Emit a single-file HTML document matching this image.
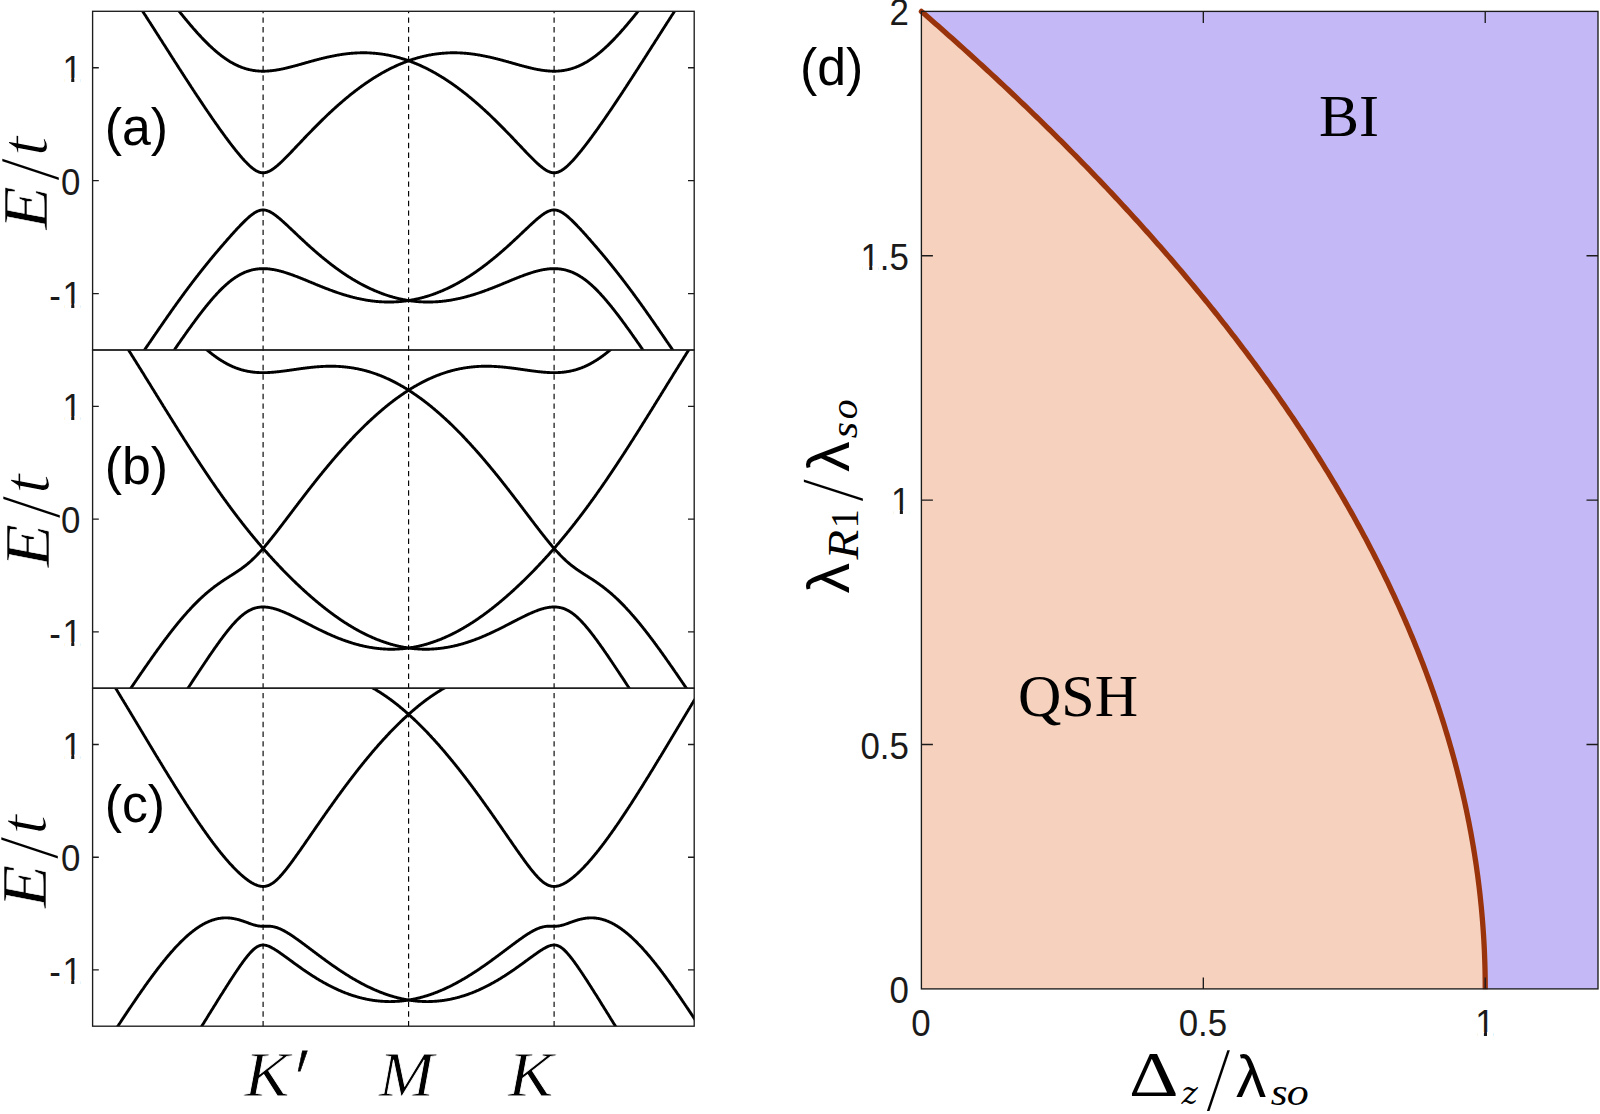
<!DOCTYPE html>
<html><head><meta charset="utf-8"><title>Band structure and phase diagram</title>
<style>html,body{margin:0;padding:0;background:#fff}svg{display:block}text{white-space:pre}.tl{font-kerning:none}</style></head>
<body><svg width="1600" height="1114" viewBox="0 0 1600 1114">
<defs><clipPath id="cp0"><rect x="92.6" y="11.30" width="601.60" height="338.70"/></clipPath><clipPath id="cp1"><rect x="92.6" y="350.00" width="601.60" height="338.20"/></clipPath><clipPath id="cp2"><rect x="92.6" y="688.20" width="601.60" height="338.00"/></clipPath><clipPath id="cpd"><rect x="917.4" y="7.4" width="680.60" height="981.80"/></clipPath></defs>
<rect width="1600" height="1114" fill="#fff"/>
<line x1="263.10" y1="11.3" x2="263.10" y2="1026.2" stroke="#000" stroke-width="1.15" stroke-dasharray="5.4 4.25" stroke-dashoffset="3.55"/>
<line x1="408.60" y1="11.3" x2="408.60" y2="1026.2" stroke="#000" stroke-width="1.15" stroke-dasharray="5.4 4.25" stroke-dashoffset="3.55"/>
<line x1="554.10" y1="11.3" x2="554.10" y2="1026.2" stroke="#000" stroke-width="1.15" stroke-dasharray="5.4 4.25" stroke-dashoffset="3.55"/>
<g clip-path="url(#cp0)" fill="none" stroke="#000" stroke-width="2.9" stroke-linejoin="round">
<polyline points="146.6,389.9 147.1,389.2 147.6,388.4 148.1,387.7 148.6,387.0 149.1,386.3 149.6,385.6 150.1,384.9 150.6,384.2 151.1,383.4 151.6,382.7 152.1,382.0 152.6,381.3 153.1,380.6 153.6,379.8 154.1,379.1 154.6,378.4 155.1,377.7 155.6,377.0 156.1,376.2 156.6,375.5 157.1,374.8 157.6,374.1 158.1,373.4 158.6,372.6 159.1,371.9 159.6,371.2 160.1,370.5 160.6,369.7 161.1,369.0 161.6,368.3 162.1,367.6 162.6,366.8 163.1,366.1 163.6,365.4 164.1,364.7 164.6,363.9 165.1,363.2 165.6,362.5 166.1,361.8 166.6,361.0 167.1,360.3 167.6,359.6 168.1,358.9 168.6,358.1 169.1,357.4 169.6,356.7 170.1,356.0 170.6,355.2 171.1,354.5 171.6,353.8 172.1,353.1 172.6,352.3 173.1,351.6 173.6,350.9 174.1,350.2 174.6,349.5 175.1,348.7 175.6,348.0 176.1,347.3 176.6,346.6 177.1,345.9 177.6,345.1 178.1,344.4 178.6,343.7 179.1,343.0 179.6,342.3 180.1,341.6 180.6,340.8 181.1,340.1 181.6,339.4 182.1,338.7 182.6,338.0 183.1,337.3 183.6,336.6 184.1,335.9 184.6,335.2 185.1,334.5 185.6,333.7 186.1,333.0 186.6,332.3 187.1,331.6 187.6,330.9 188.1,330.2 188.6,329.5 189.1,328.9 189.6,328.2 190.1,327.5 190.6,326.8 191.1,326.1 191.6,325.4 192.1,324.7 192.6,324.0 193.1,323.3 193.6,322.7 194.1,322.0 194.6,321.3 195.1,320.6 195.6,319.9 196.1,319.3 196.6,318.6 197.1,317.9 197.6,317.3 198.1,316.6 198.6,315.9 199.1,315.3 199.6,314.6 200.1,314.0 200.6,313.3 201.1,312.7 201.6,312.0 202.1,311.4 202.6,310.7 203.1,310.1 203.6,309.5 204.1,308.8 204.6,308.2 205.1,307.6 205.6,306.9 206.1,306.3 206.6,305.7 207.1,305.1 207.6,304.5 208.1,303.9 208.6,303.3 209.1,302.7 209.6,302.1 210.1,301.5 210.6,300.9 211.1,300.3 211.6,299.7 212.1,299.1 212.6,298.5 213.1,298.0 213.6,297.4 214.1,296.8 214.6,296.3 215.1,295.7 215.6,295.2 216.1,294.6 216.6,294.1 217.1,293.5 217.6,293.0 218.1,292.5 218.6,292.0 219.1,291.4 219.6,290.9 220.1,290.4 220.6,289.9 221.1,289.4 221.6,288.9 222.1,288.4 222.6,287.9 223.1,287.5 223.6,287.0 224.1,286.5 224.6,286.0 225.1,285.6 225.6,285.1 226.1,284.7 226.6,284.2 227.1,283.8 227.6,283.4 228.1,283.0 228.6,282.5 229.1,282.1 229.6,281.7 230.1,281.3 230.6,280.9 231.1,280.5 231.6,280.1 232.1,279.8 232.6,279.4 233.1,279.0 233.6,278.7 234.1,278.3 234.6,278.0 235.1,277.6 235.6,277.3 236.1,277.0 236.6,276.7 237.1,276.4 237.6,276.0 238.1,275.7 238.6,275.4 239.1,275.2 239.6,274.9 240.1,274.6 240.6,274.3 241.1,274.1 241.6,273.8 242.1,273.6 242.6,273.3 243.1,273.1 243.6,272.9 244.1,272.6 244.6,272.4 245.1,272.2 245.6,272.0 246.1,271.8 246.6,271.6 247.1,271.4 247.6,271.3 248.1,271.1 248.6,270.9 249.1,270.8 249.6,270.6 250.1,270.5 250.6,270.3 251.1,270.2 251.6,270.0 252.1,269.9 252.6,269.8 253.1,269.7 253.6,269.6 254.1,269.5 254.6,269.4 255.1,269.3 255.6,269.2 256.1,269.2 256.6,269.1 257.1,269.0 257.6,269.0 258.1,268.9 258.6,268.9 259.1,268.8 259.6,268.8 260.1,268.7 260.6,268.7 261.1,268.7 261.6,268.7 262.1,268.7 262.6,268.6 263.1,268.6 263.6,268.6 264.1,268.7 264.6,268.7 265.1,268.7 265.6,268.7 266.1,268.7 266.6,268.8 267.1,268.8 267.6,268.8 268.1,268.9 268.6,268.9 269.1,269.0 269.6,269.0 270.1,269.1 270.6,269.2 271.1,269.2 271.6,269.3 272.1,269.4 272.6,269.5 273.1,269.5 273.6,269.6 274.1,269.7 274.6,269.8 275.1,269.9 275.6,270.0 276.1,270.1 276.6,270.2 277.1,270.3 277.6,270.4 278.1,270.6 278.6,270.7 279.1,270.8 279.6,270.9 280.1,271.1 280.6,271.2 281.1,271.3 281.6,271.5 282.1,271.6 282.6,271.7 283.1,271.9 283.6,272.0 284.1,272.2 284.6,272.3 285.1,272.5 285.6,272.7 286.1,272.8 286.6,273.0 287.1,273.1 287.6,273.3 288.1,273.5 288.6,273.6 289.1,273.8 289.6,274.0 290.1,274.1 290.6,274.3 291.1,274.5 291.6,274.7 292.1,274.9 292.6,275.0 293.1,275.2 293.6,275.4 294.1,275.6 294.6,275.8 295.1,276.0 295.6,276.2 296.1,276.3 296.6,276.5 297.1,276.7 297.6,276.9 298.1,277.1 298.6,277.3 299.1,277.5 299.6,277.7 300.1,277.9 300.6,278.1 301.1,278.3 301.6,278.5 302.1,278.7 302.6,278.9 303.1,279.1 303.6,279.3 304.1,279.5 304.6,279.7 305.1,279.9 305.6,280.1 306.1,280.3 306.6,280.5 307.1,280.7 307.6,281.0 308.1,281.2 308.6,281.4 309.1,281.6 309.6,281.8 310.1,282.0 310.6,282.2 311.1,282.4 311.6,282.6 312.1,282.8 312.6,283.0 313.1,283.2 313.6,283.4 314.1,283.6 314.6,283.8 315.1,284.0 315.6,284.3 316.1,284.5 316.6,284.7 317.1,284.9 317.6,285.1 318.1,285.3 318.6,285.5 319.1,285.7 319.6,285.9 320.1,286.1 320.6,286.3 321.1,286.5 321.6,286.7 322.1,286.9 322.6,287.1 323.1,287.3 323.6,287.5 324.1,287.7 324.6,287.9 325.1,288.1 325.6,288.3 326.1,288.5 326.6,288.6 327.1,288.8 327.6,289.0 328.1,289.2 328.6,289.4 329.1,289.6 329.6,289.8 330.1,290.0 330.6,290.2 331.1,290.3 331.6,290.5 332.1,290.7 332.6,290.9 333.1,291.1 333.6,291.3 334.1,291.4 334.6,291.6 335.1,291.8 335.6,292.0 336.1,292.1 336.6,292.3 337.1,292.5 337.6,292.7 338.1,292.8 338.6,293.0 339.1,293.2 339.6,293.3 340.1,293.5 340.6,293.7 341.1,293.8 341.6,294.0 342.1,294.1 342.6,294.3 343.1,294.5 343.6,294.6 344.1,294.8 344.6,294.9 345.1,295.1 345.6,295.2 346.1,295.4 346.6,295.5 347.1,295.7 347.6,295.8 348.1,295.9 348.6,296.1 349.1,296.2 349.6,296.4 350.1,296.5 350.6,296.6 351.1,296.8 351.6,296.9 352.1,297.0 352.6,297.2 353.1,297.3 353.6,297.4 354.1,297.6 354.6,297.7 355.1,297.8 355.6,297.9 356.1,298.0 356.6,298.2 357.1,298.3 357.6,298.4 358.1,298.5 358.6,298.6 359.1,298.7 359.6,298.8 360.1,298.9 360.6,299.0 361.1,299.1 361.6,299.2 362.1,299.3 362.6,299.4 363.1,299.5 363.6,299.6 364.1,299.7 364.6,299.8 365.1,299.9 365.6,300.0 366.1,300.1 366.6,300.2 367.1,300.2 367.6,300.3 368.1,300.4 368.6,300.5 369.1,300.5 369.6,300.6 370.1,300.7 370.6,300.8 371.1,300.8 371.6,300.9 372.1,301.0 372.6,301.0 373.1,301.1 373.6,301.1 374.1,301.2 374.6,301.3 375.1,301.3 375.6,301.4 376.1,301.4 376.6,301.5 377.1,301.5 377.6,301.5 378.1,301.6 378.6,301.6 379.1,301.7 379.6,301.7 380.1,301.7 380.6,301.8 381.1,301.8 381.6,301.8 382.1,301.9 382.6,301.9 383.1,301.9 383.6,301.9 384.1,301.9 384.6,302.0 385.1,302.0 385.6,302.0 386.1,302.0 386.6,302.0 387.1,302.0 387.6,302.0 388.1,302.0 388.6,302.0 389.1,302.0 389.6,302.0 390.1,302.0 390.6,302.0 391.1,302.0 391.6,302.0 392.1,302.0 392.6,302.0 393.1,302.0 393.6,302.0 394.1,301.9 394.6,301.9 395.1,301.9 395.6,301.9 396.1,301.8 396.6,301.8 397.1,301.8 397.6,301.8 398.1,301.7 398.6,301.7 399.1,301.6 399.6,301.6 400.1,301.6 400.6,301.5 401.1,301.5 401.6,301.4 402.1,301.4 402.6,301.3 403.1,301.3 403.6,301.2 404.1,301.1 404.6,301.1 405.1,301.0 405.6,301.0 406.1,300.9 406.6,300.8 407.1,300.8 407.6,300.7 408.1,300.6 408.6,300.5 409.1,300.6 409.6,300.7 410.1,300.8 410.6,300.8 411.1,300.9 411.6,301.0 412.1,301.0 412.6,301.1 413.1,301.1 413.6,301.2 414.1,301.3 414.6,301.3 415.1,301.4 415.6,301.4 416.1,301.5 416.6,301.5 417.1,301.6 417.6,301.6 418.1,301.6 418.6,301.7 419.1,301.7 419.6,301.8 420.1,301.8 420.6,301.8 421.1,301.8 421.6,301.9 422.1,301.9 422.6,301.9 423.1,301.9 423.6,302.0 424.1,302.0 424.6,302.0 425.1,302.0 425.6,302.0 426.1,302.0 426.6,302.0 427.1,302.0 427.6,302.0 428.1,302.0 428.6,302.0 429.1,302.0 429.6,302.0 430.1,302.0 430.6,302.0 431.1,302.0 431.6,302.0 432.1,302.0 432.6,302.0 433.1,301.9 433.6,301.9 434.1,301.9 434.6,301.9 435.1,301.9 435.6,301.8 436.1,301.8 436.6,301.8 437.1,301.7 437.6,301.7 438.1,301.7 438.6,301.6 439.1,301.6 439.6,301.5 440.1,301.5 440.6,301.5 441.1,301.4 441.6,301.4 442.1,301.3 442.6,301.3 443.1,301.2 443.6,301.1 444.1,301.1 444.6,301.0 445.1,301.0 445.6,300.9 446.1,300.8 446.6,300.8 447.1,300.7 447.6,300.6 448.1,300.5 448.6,300.5 449.1,300.4 449.6,300.3 450.1,300.2 450.6,300.2 451.1,300.1 451.6,300.0 452.1,299.9 452.6,299.8 453.1,299.7 453.6,299.6 454.1,299.5 454.6,299.4 455.1,299.3 455.6,299.2 456.1,299.1 456.6,299.0 457.1,298.9 457.6,298.8 458.1,298.7 458.6,298.6 459.1,298.5 459.6,298.4 460.1,298.3 460.6,298.2 461.1,298.0 461.6,297.9 462.1,297.8 462.6,297.7 463.1,297.6 463.6,297.4 464.1,297.3 464.6,297.2 465.1,297.0 465.6,296.9 466.1,296.8 466.6,296.6 467.1,296.5 467.6,296.4 468.1,296.2 468.6,296.1 469.1,295.9 469.6,295.8 470.1,295.7 470.6,295.5 471.1,295.4 471.6,295.2 472.1,295.1 472.6,294.9 473.1,294.8 473.6,294.6 474.1,294.5 474.6,294.3 475.1,294.1 475.6,294.0 476.1,293.8 476.6,293.7 477.1,293.5 477.6,293.3 478.1,293.2 478.6,293.0 479.1,292.8 479.6,292.7 480.1,292.5 480.6,292.3 481.1,292.1 481.6,292.0 482.1,291.8 482.6,291.6 483.1,291.4 483.6,291.3 484.1,291.1 484.6,290.9 485.1,290.7 485.6,290.5 486.1,290.3 486.6,290.2 487.1,290.0 487.6,289.8 488.1,289.6 488.6,289.4 489.1,289.2 489.6,289.0 490.1,288.8 490.6,288.6 491.1,288.5 491.6,288.3 492.1,288.1 492.6,287.9 493.1,287.7 493.6,287.5 494.1,287.3 494.6,287.1 495.1,286.9 495.6,286.7 496.1,286.5 496.6,286.3 497.1,286.1 497.6,285.9 498.1,285.7 498.6,285.5 499.1,285.3 499.6,285.1 500.1,284.9 500.6,284.7 501.1,284.5 501.6,284.3 502.1,284.0 502.6,283.8 503.1,283.6 503.6,283.4 504.1,283.2 504.6,283.0 505.1,282.8 505.6,282.6 506.1,282.4 506.6,282.2 507.1,282.0 507.6,281.8 508.1,281.6 508.6,281.4 509.1,281.2 509.6,281.0 510.1,280.7 510.6,280.5 511.1,280.3 511.6,280.1 512.1,279.9 512.6,279.7 513.1,279.5 513.6,279.3 514.1,279.1 514.6,278.9 515.1,278.7 515.6,278.5 516.1,278.3 516.6,278.1 517.1,277.9 517.6,277.7 518.1,277.5 518.6,277.3 519.1,277.1 519.6,276.9 520.1,276.7 520.6,276.5 521.1,276.3 521.6,276.2 522.1,276.0 522.6,275.8 523.1,275.6 523.6,275.4 524.1,275.2 524.6,275.0 525.1,274.9 525.6,274.7 526.1,274.5 526.6,274.3 527.1,274.1 527.6,274.0 528.1,273.8 528.6,273.6 529.1,273.5 529.6,273.3 530.1,273.1 530.6,273.0 531.1,272.8 531.6,272.7 532.1,272.5 532.6,272.3 533.1,272.2 533.6,272.0 534.1,271.9 534.6,271.7 535.1,271.6 535.6,271.5 536.1,271.3 536.6,271.2 537.1,271.1 537.6,270.9 538.1,270.8 538.6,270.7 539.1,270.6 539.6,270.4 540.1,270.3 540.6,270.2 541.1,270.1 541.6,270.0 542.1,269.9 542.6,269.8 543.1,269.7 543.6,269.6 544.1,269.5 544.6,269.5 545.1,269.4 545.6,269.3 546.1,269.2 546.6,269.2 547.1,269.1 547.6,269.0 548.1,269.0 548.6,268.9 549.1,268.9 549.6,268.8 550.1,268.8 550.6,268.8 551.1,268.7 551.6,268.7 552.1,268.7 552.6,268.7 553.1,268.7 553.6,268.6 554.1,268.6 554.6,268.6 555.1,268.7 555.6,268.7 556.1,268.7 556.6,268.7 557.1,268.7 557.6,268.8 558.1,268.8 558.6,268.9 559.1,268.9 559.6,269.0 560.1,269.0 560.6,269.1 561.1,269.2 561.6,269.2 562.1,269.3 562.6,269.4 563.1,269.5 563.6,269.6 564.1,269.7 564.6,269.8 565.1,269.9 565.6,270.0 566.1,270.2 566.6,270.3 567.1,270.5 567.6,270.6 568.1,270.8 568.6,270.9 569.1,271.1 569.6,271.3 570.1,271.4 570.6,271.6 571.1,271.8 571.6,272.0 572.1,272.2 572.6,272.4 573.1,272.6 573.6,272.9 574.1,273.1 574.6,273.3 575.1,273.6 575.6,273.8 576.1,274.1 576.6,274.3 577.1,274.6 577.6,274.9 578.1,275.2 578.6,275.4 579.1,275.7 579.6,276.0 580.1,276.4 580.6,276.7 581.1,277.0 581.6,277.3 582.1,277.6 582.6,278.0 583.1,278.3 583.6,278.7 584.1,279.0 584.6,279.4 585.1,279.8 585.6,280.1 586.1,280.5 586.6,280.9 587.1,281.3 587.6,281.7 588.1,282.1 588.6,282.5 589.1,283.0 589.6,283.4 590.1,283.8 590.6,284.2 591.1,284.7 591.6,285.1 592.1,285.6 592.6,286.0 593.1,286.5 593.6,287.0 594.1,287.5 594.6,287.9 595.1,288.4 595.6,288.9 596.1,289.4 596.6,289.9 597.1,290.4 597.6,290.9 598.1,291.4 598.6,292.0 599.1,292.5 599.6,293.0 600.1,293.5 600.6,294.1 601.1,294.6 601.6,295.2 602.1,295.7 602.6,296.3 603.1,296.8 603.6,297.4 604.1,298.0 604.6,298.5 605.1,299.1 605.6,299.7 606.1,300.3 606.6,300.9 607.1,301.5 607.6,302.1 608.1,302.7 608.6,303.3 609.1,303.9 609.6,304.5 610.1,305.1 610.6,305.7 611.1,306.3 611.6,306.9 612.1,307.6 612.6,308.2 613.1,308.8 613.6,309.5 614.1,310.1 614.6,310.7 615.1,311.4 615.6,312.0 616.1,312.7 616.6,313.3 617.1,314.0 617.6,314.6 618.1,315.3 618.6,315.9 619.1,316.6 619.6,317.3 620.1,317.9 620.6,318.6 621.1,319.3 621.6,319.9 622.1,320.6 622.6,321.3 623.1,322.0 623.6,322.7 624.1,323.3 624.6,324.0 625.1,324.7 625.6,325.4 626.1,326.1 626.6,326.8 627.1,327.5 627.6,328.2 628.1,328.9 628.6,329.5 629.1,330.2 629.6,330.9 630.1,331.6 630.6,332.3 631.1,333.0 631.6,333.7 632.1,334.5 632.6,335.2 633.1,335.9 633.6,336.6 634.1,337.3 634.6,338.0 635.1,338.7 635.6,339.4 636.1,340.1 636.6,340.8 637.1,341.6 637.6,342.3 638.1,343.0 638.6,343.7 639.1,344.4 639.6,345.1 640.1,345.9 640.6,346.6 641.1,347.3 641.6,348.0 642.1,348.7 642.6,349.5 643.1,350.2 643.6,350.9 644.1,351.6 644.6,352.3 645.1,353.1 645.6,353.8 646.1,354.5 646.6,355.2 647.1,356.0 647.6,356.7 648.1,357.4 648.6,358.1 649.1,358.9 649.6,359.6 650.1,360.3 650.6,361.0 651.1,361.8 651.6,362.5 652.1,363.2 652.6,363.9 653.1,364.7 653.6,365.4 654.1,366.1 654.6,366.8 655.1,367.6 655.6,368.3 656.1,369.0 656.6,369.7 657.1,370.5 657.6,371.2 658.1,371.9 658.6,372.6 659.1,373.4 659.6,374.1 660.1,374.8 660.6,375.5 661.1,376.2 661.6,377.0 662.1,377.7 662.6,378.4 663.1,379.1 663.6,379.8 664.1,380.6 664.6,381.3 665.1,382.0 665.6,382.7 666.1,383.4 666.6,384.2 667.1,384.9 667.6,385.6 668.1,386.3 668.6,387.0 669.1,387.7 669.6,388.4 670.1,389.2 670.6,389.9"/>
<polyline points="117.1,389.9 117.6,389.2 118.1,388.4 118.6,387.7 119.1,387.0 119.6,386.3 120.1,385.6 120.6,384.9 121.1,384.1 121.6,383.4 122.1,382.7 122.6,382.0 123.1,381.3 123.6,380.5 124.1,379.8 124.6,379.1 125.1,378.4 125.6,377.6 126.1,376.9 126.6,376.2 127.1,375.5 127.6,374.7 128.1,374.0 128.6,373.3 129.1,372.6 129.6,371.8 130.1,371.1 130.6,370.4 131.1,369.6 131.6,368.9 132.1,368.2 132.6,367.4 133.1,366.7 133.6,366.0 134.1,365.3 134.6,364.5 135.1,363.8 135.6,363.1 136.1,362.3 136.6,361.6 137.1,360.9 137.6,360.1 138.1,359.4 138.6,358.7 139.1,357.9 139.6,357.2 140.1,356.5 140.6,355.7 141.1,355.0 141.6,354.3 142.1,353.5 142.6,352.8 143.1,352.1 143.6,351.3 144.1,350.6 144.6,349.9 145.1,349.1 145.6,348.4 146.1,347.6 146.6,346.9 147.1,346.2 147.6,345.4 148.1,344.7 148.6,344.0 149.1,343.2 149.6,342.5 150.1,341.8 150.6,341.1 151.1,340.3 151.6,339.6 152.1,338.9 152.6,338.1 153.1,337.4 153.6,336.7 154.1,335.9 154.6,335.2 155.1,334.5 155.6,333.7 156.1,333.0 156.6,332.3 157.1,331.6 157.6,330.8 158.1,330.1 158.6,329.4 159.1,328.7 159.6,327.9 160.1,327.2 160.6,326.5 161.1,325.8 161.6,325.0 162.1,324.3 162.6,323.6 163.1,322.9 163.6,322.2 164.1,321.4 164.6,320.7 165.1,320.0 165.6,319.3 166.1,318.6 166.6,317.8 167.1,317.1 167.6,316.4 168.1,315.7 168.6,315.0 169.1,314.3 169.6,313.6 170.1,312.9 170.6,312.2 171.1,311.4 171.6,310.7 172.1,310.0 172.6,309.3 173.1,308.6 173.6,307.9 174.1,307.2 174.6,306.5 175.1,305.8 175.6,305.1 176.1,304.4 176.6,303.7 177.1,303.0 177.6,302.3 178.1,301.6 178.6,300.9 179.1,300.3 179.6,299.6 180.1,298.9 180.6,298.2 181.1,297.5 181.6,296.8 182.1,296.1 182.6,295.4 183.1,294.8 183.6,294.1 184.1,293.4 184.6,292.7 185.1,292.0 185.6,291.4 186.1,290.7 186.6,290.0 187.1,289.4 187.6,288.7 188.1,288.0 188.6,287.3 189.1,286.7 189.6,286.0 190.1,285.3 190.6,284.7 191.1,284.0 191.6,283.4 192.1,282.7 192.6,282.0 193.1,281.4 193.6,280.7 194.1,280.1 194.6,279.4 195.1,278.8 195.6,278.1 196.1,277.5 196.6,276.8 197.1,276.2 197.6,275.6 198.1,274.9 198.6,274.3 199.1,273.6 199.6,273.0 200.1,272.4 200.6,271.7 201.1,271.1 201.6,270.5 202.1,269.8 202.6,269.2 203.1,268.6 203.6,268.0 204.1,267.3 204.6,266.7 205.1,266.1 205.6,265.5 206.1,264.8 206.6,264.2 207.1,263.6 207.6,263.0 208.1,262.4 208.6,261.8 209.1,261.2 209.6,260.5 210.1,259.9 210.6,259.3 211.1,258.7 211.6,258.1 212.1,257.5 212.6,256.9 213.1,256.3 213.6,255.7 214.1,255.1 214.6,254.5 215.1,253.9 215.6,253.3 216.1,252.7 216.6,252.1 217.1,251.5 217.6,251.0 218.1,250.4 218.6,249.8 219.1,249.2 219.6,248.6 220.1,248.0 220.6,247.4 221.1,246.9 221.6,246.3 222.1,245.7 222.6,245.1 223.1,244.5 223.6,244.0 224.1,243.4 224.6,242.8 225.1,242.2 225.6,241.7 226.1,241.1 226.6,240.5 227.1,239.9 227.6,239.4 228.1,238.8 228.6,238.2 229.1,237.7 229.6,237.1 230.1,236.5 230.6,236.0 231.1,235.4 231.6,234.9 232.1,234.3 232.6,233.8 233.1,233.2 233.6,232.6 234.1,232.1 234.6,231.5 235.1,231.0 235.6,230.5 236.1,229.9 236.6,229.4 237.1,228.8 237.6,228.3 238.1,227.8 238.6,227.2 239.1,226.7 239.6,226.2 240.1,225.6 240.6,225.1 241.1,224.6 241.6,224.1 242.1,223.6 242.6,223.1 243.1,222.6 243.6,222.1 244.1,221.6 244.6,221.1 245.1,220.6 245.6,220.1 246.1,219.7 246.6,219.2 247.1,218.7 247.6,218.3 248.1,217.8 248.6,217.4 249.1,216.9 249.6,216.5 250.1,216.1 250.6,215.7 251.1,215.3 251.6,214.9 252.1,214.5 252.6,214.2 253.1,213.8 253.6,213.5 254.1,213.1 254.6,212.8 255.1,212.5 255.6,212.2 256.1,211.9 256.6,211.7 257.1,211.4 257.6,211.2 258.1,211.0 258.6,210.8 259.1,210.6 259.6,210.5 260.1,210.4 260.6,210.2 261.1,210.1 261.6,210.1 262.1,210.0 262.6,210.0 263.1,210.0 263.6,210.0 264.1,210.0 264.6,210.1 265.1,210.1 265.6,210.2 266.1,210.3 266.6,210.5 267.1,210.6 267.6,210.8 268.1,211.0 268.6,211.2 269.1,211.4 269.6,211.6 270.1,211.9 270.6,212.1 271.1,212.4 271.6,212.7 272.1,213.0 272.6,213.3 273.1,213.6 273.6,214.0 274.1,214.3 274.6,214.7 275.1,215.0 275.6,215.4 276.1,215.8 276.6,216.2 277.1,216.6 277.6,217.0 278.1,217.4 278.6,217.8 279.1,218.2 279.6,218.6 280.1,219.0 280.6,219.5 281.1,219.9 281.6,220.3 282.1,220.8 282.6,221.2 283.1,221.7 283.6,222.1 284.1,222.6 284.6,223.0 285.1,223.5 285.6,224.0 286.1,224.4 286.6,224.9 287.1,225.3 287.6,225.8 288.1,226.3 288.6,226.7 289.1,227.2 289.6,227.7 290.1,228.2 290.6,228.6 291.1,229.1 291.6,229.6 292.1,230.0 292.6,230.5 293.1,231.0 293.6,231.5 294.1,231.9 294.6,232.4 295.1,232.9 295.6,233.4 296.1,233.8 296.6,234.3 297.1,234.8 297.6,235.3 298.1,235.7 298.6,236.2 299.1,236.7 299.6,237.1 300.1,237.6 300.6,238.1 301.1,238.5 301.6,239.0 302.1,239.5 302.6,239.9 303.1,240.4 303.6,240.9 304.1,241.3 304.6,241.8 305.1,242.3 305.6,242.7 306.1,243.2 306.6,243.6 307.1,244.1 307.6,244.6 308.1,245.0 308.6,245.5 309.1,245.9 309.6,246.4 310.1,246.8 310.6,247.3 311.1,247.7 311.6,248.2 312.1,248.6 312.6,249.0 313.1,249.5 313.6,249.9 314.1,250.4 314.6,250.8 315.1,251.2 315.6,251.7 316.1,252.1 316.6,252.5 317.1,253.0 317.6,253.4 318.1,253.8 318.6,254.2 319.1,254.7 319.6,255.1 320.1,255.5 320.6,255.9 321.1,256.4 321.6,256.8 322.1,257.2 322.6,257.6 323.1,258.0 323.6,258.4 324.1,258.8 324.6,259.2 325.1,259.6 325.6,260.0 326.1,260.4 326.6,260.8 327.1,261.2 327.6,261.6 328.1,262.0 328.6,262.4 329.1,262.8 329.6,263.2 330.1,263.6 330.6,264.0 331.1,264.4 331.6,264.7 332.1,265.1 332.6,265.5 333.1,265.9 333.6,266.3 334.1,266.6 334.6,267.0 335.1,267.4 335.6,267.7 336.1,268.1 336.6,268.5 337.1,268.8 337.6,269.2 338.1,269.6 338.6,269.9 339.1,270.3 339.6,270.6 340.1,271.0 340.6,271.3 341.1,271.7 341.6,272.0 342.1,272.4 342.6,272.7 343.1,273.0 343.6,273.4 344.1,273.7 344.6,274.1 345.1,274.4 345.6,274.7 346.1,275.1 346.6,275.4 347.1,275.7 347.6,276.0 348.1,276.4 348.6,276.7 349.1,277.0 349.6,277.3 350.1,277.6 350.6,277.9 351.1,278.2 351.6,278.5 352.1,278.9 352.6,279.2 353.1,279.5 353.6,279.8 354.1,280.1 354.6,280.4 355.1,280.6 355.6,280.9 356.1,281.2 356.6,281.5 357.1,281.8 357.6,282.1 358.1,282.4 358.6,282.7 359.1,282.9 359.6,283.2 360.1,283.5 360.6,283.8 361.1,284.0 361.6,284.3 362.1,284.6 362.6,284.8 363.1,285.1 363.6,285.4 364.1,285.6 364.6,285.9 365.1,286.1 365.6,286.4 366.1,286.6 366.6,286.9 367.1,287.1 367.6,287.4 368.1,287.6 368.6,287.8 369.1,288.1 369.6,288.3 370.1,288.6 370.6,288.8 371.1,289.0 371.6,289.2 372.1,289.5 372.6,289.7 373.1,289.9 373.6,290.1 374.1,290.4 374.6,290.6 375.1,290.8 375.6,291.0 376.1,291.2 376.6,291.4 377.1,291.6 377.6,291.8 378.1,292.0 378.6,292.2 379.1,292.4 379.6,292.6 380.1,292.8 380.6,293.0 381.1,293.2 381.6,293.4 382.1,293.6 382.6,293.8 383.1,293.9 383.6,294.1 384.1,294.3 384.6,294.5 385.1,294.7 385.6,294.8 386.1,295.0 386.6,295.2 387.1,295.3 387.6,295.5 388.1,295.7 388.6,295.8 389.1,296.0 389.6,296.1 390.1,296.3 390.6,296.4 391.1,296.6 391.6,296.7 392.1,296.9 392.6,297.0 393.1,297.2 393.6,297.3 394.1,297.4 394.6,297.6 395.1,297.7 395.6,297.8 396.1,298.0 396.6,298.1 397.1,298.2 397.6,298.3 398.1,298.5 398.6,298.6 399.1,298.7 399.6,298.8 400.1,298.9 400.6,299.0 401.1,299.1 401.6,299.2 402.1,299.4 402.6,299.5 403.1,299.6 403.6,299.7 404.1,299.8 404.6,299.8 405.1,299.9 405.6,300.0 406.1,300.1 406.6,300.2 407.1,300.3 407.6,300.4 408.1,300.5 408.6,300.5 409.1,300.5 409.6,300.4 410.1,300.3 410.6,300.2 411.1,300.1 411.6,300.0 412.1,299.9 412.6,299.8 413.1,299.8 413.6,299.7 414.1,299.6 414.6,299.5 415.1,299.4 415.6,299.2 416.1,299.1 416.6,299.0 417.1,298.9 417.6,298.8 418.1,298.7 418.6,298.6 419.1,298.5 419.6,298.3 420.1,298.2 420.6,298.1 421.1,298.0 421.6,297.8 422.1,297.7 422.6,297.6 423.1,297.4 423.6,297.3 424.1,297.2 424.6,297.0 425.1,296.9 425.6,296.7 426.1,296.6 426.6,296.4 427.1,296.3 427.6,296.1 428.1,296.0 428.6,295.8 429.1,295.7 429.6,295.5 430.1,295.3 430.6,295.2 431.1,295.0 431.6,294.8 432.1,294.7 432.6,294.5 433.1,294.3 433.6,294.1 434.1,293.9 434.6,293.8 435.1,293.6 435.6,293.4 436.1,293.2 436.6,293.0 437.1,292.8 437.6,292.6 438.1,292.4 438.6,292.2 439.1,292.0 439.6,291.8 440.1,291.6 440.6,291.4 441.1,291.2 441.6,291.0 442.1,290.8 442.6,290.6 443.1,290.4 443.6,290.1 444.1,289.9 444.6,289.7 445.1,289.5 445.6,289.2 446.1,289.0 446.6,288.8 447.1,288.6 447.6,288.3 448.1,288.1 448.6,287.8 449.1,287.6 449.6,287.4 450.1,287.1 450.6,286.9 451.1,286.6 451.6,286.4 452.1,286.1 452.6,285.9 453.1,285.6 453.6,285.4 454.1,285.1 454.6,284.8 455.1,284.6 455.6,284.3 456.1,284.0 456.6,283.8 457.1,283.5 457.6,283.2 458.1,282.9 458.6,282.7 459.1,282.4 459.6,282.1 460.1,281.8 460.6,281.5 461.1,281.2 461.6,280.9 462.1,280.6 462.6,280.4 463.1,280.1 463.6,279.8 464.1,279.5 464.6,279.2 465.1,278.9 465.6,278.5 466.1,278.2 466.6,277.9 467.1,277.6 467.6,277.3 468.1,277.0 468.6,276.7 469.1,276.4 469.6,276.0 470.1,275.7 470.6,275.4 471.1,275.1 471.6,274.7 472.1,274.4 472.6,274.1 473.1,273.7 473.6,273.4 474.1,273.0 474.6,272.7 475.1,272.4 475.6,272.0 476.1,271.7 476.6,271.3 477.1,271.0 477.6,270.6 478.1,270.3 478.6,269.9 479.1,269.6 479.6,269.2 480.1,268.8 480.6,268.5 481.1,268.1 481.6,267.7 482.1,267.4 482.6,267.0 483.1,266.6 483.6,266.3 484.1,265.9 484.6,265.5 485.1,265.1 485.6,264.7 486.1,264.4 486.6,264.0 487.1,263.6 487.6,263.2 488.1,262.8 488.6,262.4 489.1,262.0 489.6,261.6 490.1,261.2 490.6,260.8 491.1,260.4 491.6,260.0 492.1,259.6 492.6,259.2 493.1,258.8 493.6,258.4 494.1,258.0 494.6,257.6 495.1,257.2 495.6,256.8 496.1,256.4 496.6,255.9 497.1,255.5 497.6,255.1 498.1,254.7 498.6,254.2 499.1,253.8 499.6,253.4 500.1,253.0 500.6,252.5 501.1,252.1 501.6,251.7 502.1,251.2 502.6,250.8 503.1,250.4 503.6,249.9 504.1,249.5 504.6,249.0 505.1,248.6 505.6,248.2 506.1,247.7 506.6,247.3 507.1,246.8 507.6,246.4 508.1,245.9 508.6,245.5 509.1,245.0 509.6,244.6 510.1,244.1 510.6,243.6 511.1,243.2 511.6,242.7 512.1,242.3 512.6,241.8 513.1,241.3 513.6,240.9 514.1,240.4 514.6,239.9 515.1,239.5 515.6,239.0 516.1,238.5 516.6,238.1 517.1,237.6 517.6,237.1 518.1,236.7 518.6,236.2 519.1,235.7 519.6,235.3 520.1,234.8 520.6,234.3 521.1,233.8 521.6,233.4 522.1,232.9 522.6,232.4 523.1,231.9 523.6,231.5 524.1,231.0 524.6,230.5 525.1,230.0 525.6,229.6 526.1,229.1 526.6,228.6 527.1,228.2 527.6,227.7 528.1,227.2 528.6,226.7 529.1,226.3 529.6,225.8 530.1,225.3 530.6,224.9 531.1,224.4 531.6,224.0 532.1,223.5 532.6,223.0 533.1,222.6 533.6,222.1 534.1,221.7 534.6,221.2 535.1,220.8 535.6,220.3 536.1,219.9 536.6,219.5 537.1,219.0 537.6,218.6 538.1,218.2 538.6,217.8 539.1,217.4 539.6,217.0 540.1,216.6 540.6,216.2 541.1,215.8 541.6,215.4 542.1,215.0 542.6,214.7 543.1,214.3 543.6,214.0 544.1,213.6 544.6,213.3 545.1,213.0 545.6,212.7 546.1,212.4 546.6,212.1 547.1,211.9 547.6,211.6 548.1,211.4 548.6,211.2 549.1,211.0 549.6,210.8 550.1,210.6 550.6,210.5 551.1,210.3 551.6,210.2 552.1,210.1 552.6,210.1 553.1,210.0 553.6,210.0 554.1,210.0 554.6,210.0 555.1,210.0 555.6,210.1 556.1,210.1 556.6,210.2 557.1,210.4 557.6,210.5 558.1,210.6 558.6,210.8 559.1,211.0 559.6,211.2 560.1,211.4 560.6,211.7 561.1,211.9 561.6,212.2 562.1,212.5 562.6,212.8 563.1,213.1 563.6,213.5 564.1,213.8 564.6,214.2 565.1,214.5 565.6,214.9 566.1,215.3 566.6,215.7 567.1,216.1 567.6,216.5 568.1,216.9 568.6,217.4 569.1,217.8 569.6,218.3 570.1,218.7 570.6,219.2 571.1,219.7 571.6,220.1 572.1,220.6 572.6,221.1 573.1,221.6 573.6,222.1 574.1,222.6 574.6,223.1 575.1,223.6 575.6,224.1 576.1,224.6 576.6,225.1 577.1,225.6 577.6,226.2 578.1,226.7 578.6,227.2 579.1,227.8 579.6,228.3 580.1,228.8 580.6,229.4 581.1,229.9 581.6,230.5 582.1,231.0 582.6,231.5 583.1,232.1 583.6,232.6 584.1,233.2 584.6,233.8 585.1,234.3 585.6,234.9 586.1,235.4 586.6,236.0 587.1,236.5 587.6,237.1 588.1,237.7 588.6,238.2 589.1,238.8 589.6,239.4 590.1,239.9 590.6,240.5 591.1,241.1 591.6,241.7 592.1,242.2 592.6,242.8 593.1,243.4 593.6,244.0 594.1,244.5 594.6,245.1 595.1,245.7 595.6,246.3 596.1,246.9 596.6,247.4 597.1,248.0 597.6,248.6 598.1,249.2 598.6,249.8 599.1,250.4 599.6,251.0 600.1,251.5 600.6,252.1 601.1,252.7 601.6,253.3 602.1,253.9 602.6,254.5 603.1,255.1 603.6,255.7 604.1,256.3 604.6,256.9 605.1,257.5 605.6,258.1 606.1,258.7 606.6,259.3 607.1,259.9 607.6,260.5 608.1,261.2 608.6,261.8 609.1,262.4 609.6,263.0 610.1,263.6 610.6,264.2 611.1,264.8 611.6,265.5 612.1,266.1 612.6,266.7 613.1,267.3 613.6,268.0 614.1,268.6 614.6,269.2 615.1,269.8 615.6,270.5 616.1,271.1 616.6,271.7 617.1,272.4 617.6,273.0 618.1,273.6 618.6,274.3 619.1,274.9 619.6,275.6 620.1,276.2 620.6,276.8 621.1,277.5 621.6,278.1 622.1,278.8 622.6,279.4 623.1,280.1 623.6,280.7 624.1,281.4 624.6,282.0 625.1,282.7 625.6,283.4 626.1,284.0 626.6,284.7 627.1,285.3 627.6,286.0 628.1,286.7 628.6,287.3 629.1,288.0 629.6,288.7 630.1,289.4 630.6,290.0 631.1,290.7 631.6,291.4 632.1,292.0 632.6,292.7 633.1,293.4 633.6,294.1 634.1,294.8 634.6,295.4 635.1,296.1 635.6,296.8 636.1,297.5 636.6,298.2 637.1,298.9 637.6,299.6 638.1,300.3 638.6,300.9 639.1,301.6 639.6,302.3 640.1,303.0 640.6,303.7 641.1,304.4 641.6,305.1 642.1,305.8 642.6,306.5 643.1,307.2 643.6,307.9 644.1,308.6 644.6,309.3 645.1,310.0 645.6,310.7 646.1,311.4 646.6,312.2 647.1,312.9 647.6,313.6 648.1,314.3 648.6,315.0 649.1,315.7 649.6,316.4 650.1,317.1 650.6,317.8 651.1,318.6 651.6,319.3 652.1,320.0 652.6,320.7 653.1,321.4 653.6,322.2 654.1,322.9 654.6,323.6 655.1,324.3 655.6,325.0 656.1,325.8 656.6,326.5 657.1,327.2 657.6,327.9 658.1,328.7 658.6,329.4 659.1,330.1 659.6,330.8 660.1,331.6 660.6,332.3 661.1,333.0 661.6,333.7 662.1,334.5 662.6,335.2 663.1,335.9 663.6,336.7 664.1,337.4 664.6,338.1 665.1,338.9 665.6,339.6 666.1,340.3 666.6,341.1 667.1,341.8 667.6,342.5 668.1,343.2 668.6,344.0 669.1,344.7 669.6,345.4 670.1,346.2 670.6,346.9 671.1,347.6 671.6,348.4 672.1,349.1 672.6,349.9 673.1,350.6 673.6,351.3 674.1,352.1 674.6,352.8 675.1,353.5 675.6,354.3 676.1,355.0 676.6,355.7 677.1,356.5 677.6,357.2 678.1,357.9 678.6,358.7 679.1,359.4 679.6,360.1 680.1,360.9 680.6,361.6 681.1,362.3 681.6,363.1 682.1,363.8 682.6,364.5 683.1,365.3 683.6,366.0 684.1,366.7 684.6,367.4 685.1,368.2 685.6,368.9 686.1,369.6 686.6,370.4 687.1,371.1 687.6,371.8 688.1,372.6 688.6,373.3 689.1,374.0 689.6,374.7 690.1,375.5 690.6,376.2 691.1,376.9 691.6,377.6 692.1,378.4 692.6,379.1 693.1,379.8 693.6,380.5 694.1,381.3 694.6,382.0 695.1,382.7 695.6,383.4 696.1,384.1"/>
<polyline points="116.6,-28.1 117.1,-27.4 117.6,-26.7 118.1,-25.9 118.6,-25.2 119.1,-24.5 119.6,-23.7 120.1,-23.0 120.6,-22.2 121.1,-21.5 121.6,-20.8 122.1,-20.0 122.6,-19.3 123.1,-18.5 123.6,-17.8 124.1,-17.0 124.6,-16.3 125.1,-15.5 125.6,-14.8 126.1,-14.0 126.6,-13.3 127.1,-12.5 127.6,-11.8 128.1,-11.0 128.6,-10.3 129.1,-9.5 129.6,-8.8 130.1,-8.0 130.6,-7.2 131.1,-6.5 131.6,-5.7 132.1,-5.0 132.6,-4.2 133.1,-3.4 133.6,-2.7 134.1,-1.9 134.6,-1.1 135.1,-0.4 135.6,0.4 136.1,1.2 136.6,1.9 137.1,2.7 137.6,3.5 138.1,4.2 138.6,5.0 139.1,5.8 139.6,6.5 140.1,7.3 140.6,8.1 141.1,8.8 141.6,9.6 142.1,10.4 142.6,11.2 143.1,11.9 143.6,12.7 144.1,13.5 144.6,14.3 145.1,15.0 145.6,15.8 146.1,16.6 146.6,17.4 147.1,18.2 147.6,18.9 148.1,19.7 148.6,20.5 149.1,21.3 149.6,22.0 150.1,22.8 150.6,23.6 151.1,24.4 151.6,25.2 152.1,25.9 152.6,26.7 153.1,27.5 153.6,28.3 154.1,29.1 154.6,29.9 155.1,30.6 155.6,31.4 156.1,32.2 156.6,33.0 157.1,33.8 157.6,34.6 158.1,35.3 158.6,36.1 159.1,36.9 159.6,37.7 160.1,38.5 160.6,39.3 161.1,40.0 161.6,40.8 162.1,41.6 162.6,42.4 163.1,43.2 163.6,44.0 164.1,44.7 164.6,45.5 165.1,46.3 165.6,47.1 166.1,47.9 166.6,48.7 167.1,49.4 167.6,50.2 168.1,51.0 168.6,51.8 169.1,52.6 169.6,53.4 170.1,54.1 170.6,54.9 171.1,55.7 171.6,56.5 172.1,57.3 172.6,58.1 173.1,58.8 173.6,59.6 174.1,60.4 174.6,61.2 175.1,62.0 175.6,62.7 176.1,63.5 176.6,64.3 177.1,65.1 177.6,65.9 178.1,66.6 178.6,67.4 179.1,68.2 179.6,69.0 180.1,69.7 180.6,70.5 181.1,71.3 181.6,72.1 182.1,72.8 182.6,73.6 183.1,74.4 183.6,75.2 184.1,75.9 184.6,76.7 185.1,77.5 185.6,78.3 186.1,79.0 186.6,79.8 187.1,80.6 187.6,81.3 188.1,82.1 188.6,82.9 189.1,83.6 189.6,84.4 190.1,85.2 190.6,85.9 191.1,86.7 191.6,87.5 192.1,88.2 192.6,89.0 193.1,89.8 193.6,90.5 194.1,91.3 194.6,92.1 195.1,92.8 195.6,93.6 196.1,94.3 196.6,95.1 197.1,95.8 197.6,96.6 198.1,97.3 198.6,98.1 199.1,98.9 199.6,99.6 200.1,100.4 200.6,101.1 201.1,101.9 201.6,102.6 202.1,103.4 202.6,104.1 203.1,104.8 203.6,105.6 204.1,106.3 204.6,107.1 205.1,107.8 205.6,108.6 206.1,109.3 206.6,110.0 207.1,110.8 207.6,111.5 208.1,112.2 208.6,113.0 209.1,113.7 209.6,114.4 210.1,115.2 210.6,115.9 211.1,116.6 211.6,117.3 212.1,118.1 212.6,118.8 213.1,119.5 213.6,120.2 214.1,121.0 214.6,121.7 215.1,122.4 215.6,123.1 216.1,123.8 216.6,124.5 217.1,125.2 217.6,125.9 218.1,126.7 218.6,127.4 219.1,128.1 219.6,128.8 220.1,129.5 220.6,130.2 221.1,130.9 221.6,131.6 222.1,132.3 222.6,132.9 223.1,133.6 223.6,134.3 224.1,135.0 224.6,135.7 225.1,136.4 225.6,137.1 226.1,137.7 226.6,138.4 227.1,139.1 227.6,139.8 228.1,140.4 228.6,141.1 229.1,141.8 229.6,142.4 230.1,143.1 230.6,143.7 231.1,144.4 231.6,145.0 232.1,145.7 232.6,146.3 233.1,147.0 233.6,147.6 234.1,148.3 234.6,148.9 235.1,149.5 235.6,150.2 236.1,150.8 236.6,151.4 237.1,152.0 237.6,152.6 238.1,153.2 238.6,153.8 239.1,154.4 239.6,155.0 240.1,155.6 240.6,156.2 241.1,156.8 241.6,157.4 242.1,158.0 242.6,158.5 243.1,159.1 243.6,159.6 244.1,160.2 244.6,160.7 245.1,161.3 245.6,161.8 246.1,162.3 246.6,162.8 247.1,163.3 247.6,163.9 248.1,164.3 248.6,164.8 249.1,165.3 249.6,165.8 250.1,166.2 250.6,166.7 251.1,167.1 251.6,167.5 252.1,167.9 252.6,168.3 253.1,168.7 253.6,169.1 254.1,169.4 254.6,169.8 255.1,170.1 255.6,170.4 256.1,170.7 256.6,171.0 257.1,171.2 257.6,171.5 258.1,171.7 258.6,171.9 259.1,172.1 259.6,172.3 260.1,172.4 260.6,172.5 261.1,172.6 261.6,172.7 262.1,172.7 262.6,172.8 263.1,172.8 263.6,172.8 264.1,172.7 264.6,172.7 265.1,172.6 265.6,172.5 266.1,172.4 266.6,172.3 267.1,172.1 267.6,171.9 268.1,171.7 268.6,171.5 269.1,171.3 269.6,171.0 270.1,170.8 270.6,170.5 271.1,170.2 271.6,169.9 272.1,169.6 272.6,169.3 273.1,168.9 273.6,168.6 274.1,168.2 274.6,167.8 275.1,167.4 275.6,167.0 276.1,166.6 276.6,166.2 277.1,165.8 277.6,165.4 278.1,164.9 278.6,164.5 279.1,164.0 279.6,163.6 280.1,163.1 280.6,162.7 281.1,162.2 281.6,161.7 282.1,161.2 282.6,160.7 283.1,160.3 283.6,159.8 284.1,159.3 284.6,158.8 285.1,158.3 285.6,157.8 286.1,157.3 286.6,156.8 287.1,156.3 287.6,155.8 288.1,155.2 288.6,154.7 289.1,154.2 289.6,153.7 290.1,153.2 290.6,152.7 291.1,152.1 291.6,151.6 292.1,151.1 292.6,150.6 293.1,150.0 293.6,149.5 294.1,149.0 294.6,148.5 295.1,147.9 295.6,147.4 296.1,146.9 296.6,146.4 297.1,145.8 297.6,145.3 298.1,144.8 298.6,144.2 299.1,143.7 299.6,143.2 300.1,142.7 300.6,142.1 301.1,141.6 301.6,141.1 302.1,140.6 302.6,140.0 303.1,139.5 303.6,139.0 304.1,138.4 304.6,137.9 305.1,137.4 305.6,136.9 306.1,136.4 306.6,135.8 307.1,135.3 307.6,134.8 308.1,134.3 308.6,133.8 309.1,133.2 309.6,132.7 310.1,132.2 310.6,131.7 311.1,131.2 311.6,130.7 312.1,130.1 312.6,129.6 313.1,129.1 313.6,128.6 314.1,128.1 314.6,127.6 315.1,127.1 315.6,126.6 316.1,126.1 316.6,125.6 317.1,125.1 317.6,124.6 318.1,124.1 318.6,123.6 319.1,123.1 319.6,122.6 320.1,122.1 320.6,121.6 321.1,121.1 321.6,120.6 322.1,120.1 322.6,119.6 323.1,119.1 323.6,118.7 324.1,118.2 324.6,117.7 325.1,117.2 325.6,116.7 326.1,116.2 326.6,115.8 327.1,115.3 327.6,114.8 328.1,114.3 328.6,113.9 329.1,113.4 329.6,112.9 330.1,112.5 330.6,112.0 331.1,111.5 331.6,111.1 332.1,110.6 332.6,110.1 333.1,109.7 333.6,109.2 334.1,108.8 334.6,108.3 335.1,107.9 335.6,107.4 336.1,107.0 336.6,106.5 337.1,106.1 337.6,105.6 338.1,105.2 338.6,104.7 339.1,104.3 339.6,103.9 340.1,103.4 340.6,103.0 341.1,102.6 341.6,102.1 342.1,101.7 342.6,101.3 343.1,100.8 343.6,100.4 344.1,100.0 344.6,99.6 345.1,99.1 345.6,98.7 346.1,98.3 346.6,97.9 347.1,97.5 347.6,97.1 348.1,96.7 348.6,96.3 349.1,95.8 349.6,95.4 350.1,95.0 350.6,94.6 351.1,94.2 351.6,93.8 352.1,93.4 352.6,93.1 353.1,92.7 353.6,92.3 354.1,91.9 354.6,91.5 355.1,91.1 355.6,90.7 356.1,90.3 356.6,90.0 357.1,89.6 357.6,89.2 358.1,88.8 358.6,88.5 359.1,88.1 359.6,87.7 360.1,87.3 360.6,87.0 361.1,86.6 361.6,86.3 362.1,85.9 362.6,85.5 363.1,85.2 363.6,84.8 364.1,84.5 364.6,84.1 365.1,83.8 365.6,83.4 366.1,83.1 366.6,82.7 367.1,82.4 367.6,82.1 368.1,81.7 368.6,81.4 369.1,81.0 369.6,80.7 370.1,80.4 370.6,80.1 371.1,79.7 371.6,79.4 372.1,79.1 372.6,78.8 373.1,78.4 373.6,78.1 374.1,77.8 374.6,77.5 375.1,77.2 375.6,76.9 376.1,76.6 376.6,76.3 377.1,76.0 377.6,75.7 378.1,75.4 378.6,75.1 379.1,74.8 379.6,74.5 380.1,74.2 380.6,73.9 381.1,73.6 381.6,73.3 382.1,73.0 382.6,72.7 383.1,72.5 383.6,72.2 384.1,71.9 384.6,71.6 385.1,71.4 385.6,71.1 386.1,70.8 386.6,70.6 387.1,70.3 387.6,70.0 388.1,69.8 388.6,69.5 389.1,69.2 389.6,69.0 390.1,68.7 390.6,68.5 391.1,68.2 391.6,68.0 392.1,67.7 392.6,67.5 393.1,67.3 393.6,67.0 394.1,66.8 394.6,66.6 395.1,66.3 395.6,66.1 396.1,65.9 396.6,65.6 397.1,65.4 397.6,65.2 398.1,65.0 398.6,64.7 399.1,64.5 399.6,64.3 400.1,64.1 400.6,63.9 401.1,63.7 401.6,63.5 402.1,63.3 402.6,63.1 403.1,62.9 403.6,62.7 404.1,62.5 404.6,62.3 405.1,62.1 405.6,61.9 406.1,61.7 406.6,61.5 407.1,61.3 407.6,61.1 408.1,60.9 408.6,60.8 409.1,60.9 409.6,61.1 410.1,61.3 410.6,61.5 411.1,61.7 411.6,61.9 412.1,62.1 412.6,62.3 413.1,62.5 413.6,62.7 414.1,62.9 414.6,63.1 415.1,63.3 415.6,63.5 416.1,63.7 416.6,63.9 417.1,64.1 417.6,64.3 418.1,64.5 418.6,64.7 419.1,65.0 419.6,65.2 420.1,65.4 420.6,65.6 421.1,65.9 421.6,66.1 422.1,66.3 422.6,66.6 423.1,66.8 423.6,67.0 424.1,67.3 424.6,67.5 425.1,67.7 425.6,68.0 426.1,68.2 426.6,68.5 427.1,68.7 427.6,69.0 428.1,69.2 428.6,69.5 429.1,69.8 429.6,70.0 430.1,70.3 430.6,70.6 431.1,70.8 431.6,71.1 432.1,71.4 432.6,71.6 433.1,71.9 433.6,72.2 434.1,72.5 434.6,72.7 435.1,73.0 435.6,73.3 436.1,73.6 436.6,73.9 437.1,74.2 437.6,74.5 438.1,74.8 438.6,75.1 439.1,75.4 439.6,75.7 440.1,76.0 440.6,76.3 441.1,76.6 441.6,76.9 442.1,77.2 442.6,77.5 443.1,77.8 443.6,78.1 444.1,78.4 444.6,78.8 445.1,79.1 445.6,79.4 446.1,79.7 446.6,80.1 447.1,80.4 447.6,80.7 448.1,81.0 448.6,81.4 449.1,81.7 449.6,82.1 450.1,82.4 450.6,82.7 451.1,83.1 451.6,83.4 452.1,83.8 452.6,84.1 453.1,84.5 453.6,84.8 454.1,85.2 454.6,85.5 455.1,85.9 455.6,86.3 456.1,86.6 456.6,87.0 457.1,87.3 457.6,87.7 458.1,88.1 458.6,88.5 459.1,88.8 459.6,89.2 460.1,89.6 460.6,90.0 461.1,90.3 461.6,90.7 462.1,91.1 462.6,91.5 463.1,91.9 463.6,92.3 464.1,92.7 464.6,93.1 465.1,93.4 465.6,93.8 466.1,94.2 466.6,94.6 467.1,95.0 467.6,95.4 468.1,95.8 468.6,96.3 469.1,96.7 469.6,97.1 470.1,97.5 470.6,97.9 471.1,98.3 471.6,98.7 472.1,99.1 472.6,99.6 473.1,100.0 473.6,100.4 474.1,100.8 474.6,101.3 475.1,101.7 475.6,102.1 476.1,102.6 476.6,103.0 477.1,103.4 477.6,103.9 478.1,104.3 478.6,104.7 479.1,105.2 479.6,105.6 480.1,106.1 480.6,106.5 481.1,107.0 481.6,107.4 482.1,107.9 482.6,108.3 483.1,108.8 483.6,109.2 484.1,109.7 484.6,110.1 485.1,110.6 485.6,111.1 486.1,111.5 486.6,112.0 487.1,112.5 487.6,112.9 488.1,113.4 488.6,113.9 489.1,114.3 489.6,114.8 490.1,115.3 490.6,115.8 491.1,116.2 491.6,116.7 492.1,117.2 492.6,117.7 493.1,118.2 493.6,118.7 494.1,119.1 494.6,119.6 495.1,120.1 495.6,120.6 496.1,121.1 496.6,121.6 497.1,122.1 497.6,122.6 498.1,123.1 498.6,123.6 499.1,124.1 499.6,124.6 500.1,125.1 500.6,125.6 501.1,126.1 501.6,126.6 502.1,127.1 502.6,127.6 503.1,128.1 503.6,128.6 504.1,129.1 504.6,129.6 505.1,130.1 505.6,130.7 506.1,131.2 506.6,131.7 507.1,132.2 507.6,132.7 508.1,133.2 508.6,133.8 509.1,134.3 509.6,134.8 510.1,135.3 510.6,135.8 511.1,136.4 511.6,136.9 512.1,137.4 512.6,137.9 513.1,138.4 513.6,139.0 514.1,139.5 514.6,140.0 515.1,140.6 515.6,141.1 516.1,141.6 516.6,142.1 517.1,142.7 517.6,143.2 518.1,143.7 518.6,144.2 519.1,144.8 519.6,145.3 520.1,145.8 520.6,146.4 521.1,146.9 521.6,147.4 522.1,147.9 522.6,148.5 523.1,149.0 523.6,149.5 524.1,150.0 524.6,150.6 525.1,151.1 525.6,151.6 526.1,152.1 526.6,152.7 527.1,153.2 527.6,153.7 528.1,154.2 528.6,154.7 529.1,155.2 529.6,155.8 530.1,156.3 530.6,156.8 531.1,157.3 531.6,157.8 532.1,158.3 532.6,158.8 533.1,159.3 533.6,159.8 534.1,160.3 534.6,160.7 535.1,161.2 535.6,161.7 536.1,162.2 536.6,162.7 537.1,163.1 537.6,163.6 538.1,164.0 538.6,164.5 539.1,164.9 539.6,165.4 540.1,165.8 540.6,166.2 541.1,166.6 541.6,167.0 542.1,167.4 542.6,167.8 543.1,168.2 543.6,168.6 544.1,168.9 544.6,169.3 545.1,169.6 545.6,169.9 546.1,170.2 546.6,170.5 547.1,170.8 547.6,171.0 548.1,171.3 548.6,171.5 549.1,171.7 549.6,171.9 550.1,172.1 550.6,172.3 551.1,172.4 551.6,172.5 552.1,172.6 552.6,172.7 553.1,172.7 553.6,172.8 554.1,172.8 554.6,172.8 555.1,172.7 555.6,172.7 556.1,172.6 556.6,172.5 557.1,172.4 557.6,172.3 558.1,172.1 558.6,171.9 559.1,171.7 559.6,171.5 560.1,171.2 560.6,171.0 561.1,170.7 561.6,170.4 562.1,170.1 562.6,169.8 563.1,169.4 563.6,169.1 564.1,168.7 564.6,168.3 565.1,167.9 565.6,167.5 566.1,167.1 566.6,166.7 567.1,166.2 567.6,165.8 568.1,165.3 568.6,164.8 569.1,164.3 569.6,163.9 570.1,163.3 570.6,162.8 571.1,162.3 571.6,161.8 572.1,161.3 572.6,160.7 573.1,160.2 573.6,159.6 574.1,159.1 574.6,158.5 575.1,158.0 575.6,157.4 576.1,156.8 576.6,156.2 577.1,155.6 577.6,155.0 578.1,154.4 578.6,153.8 579.1,153.2 579.6,152.6 580.1,152.0 580.6,151.4 581.1,150.8 581.6,150.2 582.1,149.5 582.6,148.9 583.1,148.3 583.6,147.6 584.1,147.0 584.6,146.3 585.1,145.7 585.6,145.0 586.1,144.4 586.6,143.7 587.1,143.1 587.6,142.4 588.1,141.8 588.6,141.1 589.1,140.4 589.6,139.8 590.1,139.1 590.6,138.4 591.1,137.7 591.6,137.1 592.1,136.4 592.6,135.7 593.1,135.0 593.6,134.3 594.1,133.6 594.6,132.9 595.1,132.3 595.6,131.6 596.1,130.9 596.6,130.2 597.1,129.5 597.6,128.8 598.1,128.1 598.6,127.4 599.1,126.7 599.6,125.9 600.1,125.2 600.6,124.5 601.1,123.8 601.6,123.1 602.1,122.4 602.6,121.7 603.1,121.0 603.6,120.2 604.1,119.5 604.6,118.8 605.1,118.1 605.6,117.3 606.1,116.6 606.6,115.9 607.1,115.2 607.6,114.4 608.1,113.7 608.6,113.0 609.1,112.2 609.6,111.5 610.1,110.8 610.6,110.0 611.1,109.3 611.6,108.6 612.1,107.8 612.6,107.1 613.1,106.3 613.6,105.6 614.1,104.8 614.6,104.1 615.1,103.4 615.6,102.6 616.1,101.9 616.6,101.1 617.1,100.4 617.6,99.6 618.1,98.9 618.6,98.1 619.1,97.3 619.6,96.6 620.1,95.8 620.6,95.1 621.1,94.3 621.6,93.6 622.1,92.8 622.6,92.1 623.1,91.3 623.6,90.5 624.1,89.8 624.6,89.0 625.1,88.2 625.6,87.5 626.1,86.7 626.6,85.9 627.1,85.2 627.6,84.4 628.1,83.6 628.6,82.9 629.1,82.1 629.6,81.3 630.1,80.6 630.6,79.8 631.1,79.0 631.6,78.3 632.1,77.5 632.6,76.7 633.1,75.9 633.6,75.2 634.1,74.4 634.6,73.6 635.1,72.8 635.6,72.1 636.1,71.3 636.6,70.5 637.1,69.7 637.6,69.0 638.1,68.2 638.6,67.4 639.1,66.6 639.6,65.9 640.1,65.1 640.6,64.3 641.1,63.5 641.6,62.7 642.1,62.0 642.6,61.2 643.1,60.4 643.6,59.6 644.1,58.8 644.6,58.1 645.1,57.3 645.6,56.5 646.1,55.7 646.6,54.9 647.1,54.1 647.6,53.4 648.1,52.6 648.6,51.8 649.1,51.0 649.6,50.2 650.1,49.4 650.6,48.7 651.1,47.9 651.6,47.1 652.1,46.3 652.6,45.5 653.1,44.7 653.6,44.0 654.1,43.2 654.6,42.4 655.1,41.6 655.6,40.8 656.1,40.0 656.6,39.3 657.1,38.5 657.6,37.7 658.1,36.9 658.6,36.1 659.1,35.3 659.6,34.6 660.1,33.8 660.6,33.0 661.1,32.2 661.6,31.4 662.1,30.6 662.6,29.9 663.1,29.1 663.6,28.3 664.1,27.5 664.6,26.7 665.1,25.9 665.6,25.2 666.1,24.4 666.6,23.6 667.1,22.8 667.6,22.0 668.1,21.3 668.6,20.5 669.1,19.7 669.6,18.9 670.1,18.2 670.6,17.4 671.1,16.6 671.6,15.8 672.1,15.0 672.6,14.3 673.1,13.5 673.6,12.7 674.1,11.9 674.6,11.2 675.1,10.4 675.6,9.6 676.1,8.8 676.6,8.1 677.1,7.3 677.6,6.5 678.1,5.8 678.6,5.0 679.1,4.2 679.6,3.5 680.1,2.7 680.6,1.9 681.1,1.2 681.6,0.4 682.1,-0.4 682.6,-1.1 683.1,-1.9 683.6,-2.7 684.1,-3.4 684.6,-4.2 685.1,-5.0 685.6,-5.7 686.1,-6.5 686.6,-7.2 687.1,-8.0 687.6,-8.8 688.1,-9.5 688.6,-10.3 689.1,-11.0 689.6,-11.8 690.1,-12.5 690.6,-13.3 691.1,-14.0 691.6,-14.8 692.1,-15.5 692.6,-16.3 693.1,-17.0 693.6,-17.8 694.1,-18.5 694.6,-19.3 695.1,-20.0 695.6,-20.8 696.1,-21.5"/>
<polyline points="149.1,-28.2 149.6,-27.5 150.1,-26.9 150.6,-26.2 151.1,-25.5 151.6,-24.9 152.1,-24.2 152.6,-23.5 153.1,-22.9 153.6,-22.2 154.1,-21.5 154.6,-20.9 155.1,-20.2 155.6,-19.5 156.1,-18.9 156.6,-18.2 157.1,-17.5 157.6,-16.9 158.1,-16.2 158.6,-15.5 159.1,-14.9 159.6,-14.2 160.1,-13.5 160.6,-12.9 161.1,-12.2 161.6,-11.5 162.1,-10.9 162.6,-10.2 163.1,-9.6 163.6,-8.9 164.1,-8.2 164.6,-7.6 165.1,-6.9 165.6,-6.3 166.1,-5.6 166.6,-4.9 167.1,-4.3 167.6,-3.6 168.1,-3.0 168.6,-2.3 169.1,-1.7 169.6,-1.0 170.1,-0.4 170.6,0.3 171.1,0.9 171.6,1.6 172.1,2.2 172.6,2.9 173.1,3.5 173.6,4.2 174.1,4.8 174.6,5.5 175.1,6.1 175.6,6.7 176.1,7.4 176.6,8.0 177.1,8.6 177.6,9.3 178.1,9.9 178.6,10.5 179.1,11.2 179.6,11.8 180.1,12.4 180.6,13.1 181.1,13.7 181.6,14.3 182.1,14.9 182.6,15.5 183.1,16.2 183.6,16.8 184.1,17.4 184.6,18.0 185.1,18.6 185.6,19.2 186.1,19.8 186.6,20.4 187.1,21.0 187.6,21.6 188.1,22.2 188.6,22.8 189.1,23.4 189.6,24.0 190.1,24.6 190.6,25.2 191.1,25.8 191.6,26.4 192.1,26.9 192.6,27.5 193.1,28.1 193.6,28.7 194.1,29.2 194.6,29.8 195.1,30.4 195.6,30.9 196.1,31.5 196.6,32.1 197.1,32.6 197.6,33.2 198.1,33.7 198.6,34.3 199.1,34.8 199.6,35.4 200.1,35.9 200.6,36.4 201.1,37.0 201.6,37.5 202.1,38.0 202.6,38.6 203.1,39.1 203.6,39.6 204.1,40.1 204.6,40.6 205.1,41.1 205.6,41.6 206.1,42.1 206.6,42.6 207.1,43.1 207.6,43.6 208.1,44.1 208.6,44.6 209.1,45.1 209.6,45.6 210.1,46.0 210.6,46.5 211.1,47.0 211.6,47.4 212.1,47.9 212.6,48.3 213.1,48.8 213.6,49.2 214.1,49.7 214.6,50.1 215.1,50.6 215.6,51.0 216.1,51.4 216.6,51.9 217.1,52.3 217.6,52.7 218.1,53.1 218.6,53.5 219.1,53.9 219.6,54.3 220.1,54.7 220.6,55.1 221.1,55.5 221.6,55.9 222.1,56.2 222.6,56.6 223.1,57.0 223.6,57.3 224.1,57.7 224.6,58.1 225.1,58.4 225.6,58.8 226.1,59.1 226.6,59.4 227.1,59.8 227.6,60.1 228.1,60.4 228.6,60.7 229.1,61.0 229.6,61.4 230.1,61.7 230.6,62.0 231.1,62.3 231.6,62.5 232.1,62.8 232.6,63.1 233.1,63.4 233.6,63.6 234.1,63.9 234.6,64.2 235.1,64.4 235.6,64.7 236.1,64.9 236.6,65.2 237.1,65.4 237.6,65.6 238.1,65.9 238.6,66.1 239.1,66.3 239.6,66.5 240.1,66.7 240.6,66.9 241.1,67.1 241.6,67.3 242.1,67.5 242.6,67.7 243.1,67.8 243.6,68.0 244.1,68.2 244.6,68.4 245.1,68.5 245.6,68.7 246.1,68.8 246.6,69.0 247.1,69.1 247.6,69.2 248.1,69.4 248.6,69.5 249.1,69.6 249.6,69.7 250.1,69.8 250.6,69.9 251.1,70.0 251.6,70.1 252.1,70.2 252.6,70.3 253.1,70.4 253.6,70.5 254.1,70.5 254.6,70.6 255.1,70.7 255.6,70.7 256.1,70.8 256.6,70.9 257.1,70.9 257.6,70.9 258.1,71.0 258.6,71.0 259.1,71.1 259.6,71.1 260.1,71.1 260.6,71.1 261.1,71.2 261.6,71.2 262.1,71.2 262.6,71.2 263.1,71.2 263.6,71.2 264.1,71.2 264.6,71.2 265.1,71.2 265.6,71.1 266.1,71.1 266.6,71.1 267.1,71.1 267.6,71.0 268.1,71.0 268.6,71.0 269.1,70.9 269.6,70.9 270.1,70.8 270.6,70.8 271.1,70.7 271.6,70.7 272.1,70.6 272.6,70.6 273.1,70.5 273.6,70.4 274.1,70.4 274.6,70.3 275.1,70.2 275.6,70.2 276.1,70.1 276.6,70.0 277.1,69.9 277.6,69.8 278.1,69.8 278.6,69.7 279.1,69.6 279.6,69.5 280.1,69.4 280.6,69.3 281.1,69.2 281.6,69.1 282.1,69.0 282.6,68.9 283.1,68.8 283.6,68.7 284.1,68.6 284.6,68.4 285.1,68.3 285.6,68.2 286.1,68.1 286.6,68.0 287.1,67.9 287.6,67.7 288.1,67.6 288.6,67.5 289.1,67.4 289.6,67.2 290.1,67.1 290.6,67.0 291.1,66.9 291.6,66.7 292.1,66.6 292.6,66.5 293.1,66.3 293.6,66.2 294.1,66.1 294.6,65.9 295.1,65.8 295.6,65.7 296.1,65.5 296.6,65.4 297.1,65.3 297.6,65.1 298.1,65.0 298.6,64.8 299.1,64.7 299.6,64.6 300.1,64.4 300.6,64.3 301.1,64.1 301.6,64.0 302.1,63.9 302.6,63.7 303.1,63.6 303.6,63.4 304.1,63.3 304.6,63.1 305.1,63.0 305.6,62.9 306.1,62.7 306.6,62.6 307.1,62.4 307.6,62.3 308.1,62.2 308.6,62.0 309.1,61.9 309.6,61.7 310.1,61.6 310.6,61.5 311.1,61.3 311.6,61.2 312.1,61.0 312.6,60.9 313.1,60.8 313.6,60.6 314.1,60.5 314.6,60.4 315.1,60.2 315.6,60.1 316.1,60.0 316.6,59.8 317.1,59.7 317.6,59.6 318.1,59.4 318.6,59.3 319.1,59.2 319.6,59.0 320.1,58.9 320.6,58.8 321.1,58.7 321.6,58.5 322.1,58.4 322.6,58.3 323.1,58.2 323.6,58.1 324.1,57.9 324.6,57.8 325.1,57.7 325.6,57.6 326.1,57.5 326.6,57.3 327.1,57.2 327.6,57.1 328.1,57.0 328.6,56.9 329.1,56.8 329.6,56.7 330.1,56.6 330.6,56.5 331.1,56.4 331.6,56.3 332.1,56.2 332.6,56.1 333.1,56.0 333.6,55.9 334.1,55.8 334.6,55.7 335.1,55.6 335.6,55.5 336.1,55.4 336.6,55.3 337.1,55.2 337.6,55.1 338.1,55.0 338.6,55.0 339.1,54.9 339.6,54.8 340.1,54.7 340.6,54.6 341.1,54.6 341.6,54.5 342.1,54.4 342.6,54.3 343.1,54.3 343.6,54.2 344.1,54.1 344.6,54.1 345.1,54.0 345.6,53.9 346.1,53.9 346.6,53.8 347.1,53.8 347.6,53.7 348.1,53.6 348.6,53.6 349.1,53.5 349.6,53.5 350.1,53.4 350.6,53.4 351.1,53.3 351.6,53.3 352.1,53.3 352.6,53.2 353.1,53.2 353.6,53.1 354.1,53.1 354.6,53.1 355.1,53.0 355.6,53.0 356.1,53.0 356.6,53.0 357.1,52.9 357.6,52.9 358.1,52.9 358.6,52.9 359.1,52.9 359.6,52.9 360.1,52.8 360.6,52.8 361.1,52.8 361.6,52.8 362.1,52.8 362.6,52.8 363.1,52.8 363.6,52.8 364.1,52.8 364.6,52.8 365.1,52.8 365.6,52.8 366.1,52.8 366.6,52.8 367.1,52.8 367.6,52.9 368.1,52.9 368.6,52.9 369.1,52.9 369.6,52.9 370.1,53.0 370.6,53.0 371.1,53.0 371.6,53.1 372.1,53.1 372.6,53.1 373.1,53.2 373.6,53.2 374.1,53.2 374.6,53.3 375.1,53.3 375.6,53.4 376.1,53.4 376.6,53.5 377.1,53.5 377.6,53.6 378.1,53.6 378.6,53.7 379.1,53.7 379.6,53.8 380.1,53.9 380.6,53.9 381.1,54.0 381.6,54.1 382.1,54.1 382.6,54.2 383.1,54.3 383.6,54.4 384.1,54.4 384.6,54.5 385.1,54.6 385.6,54.7 386.1,54.8 386.6,54.9 387.1,55.0 387.6,55.0 388.1,55.1 388.6,55.2 389.1,55.3 389.6,55.4 390.1,55.5 390.6,55.6 391.1,55.8 391.6,55.9 392.1,56.0 392.6,56.1 393.1,56.2 393.6,56.3 394.1,56.4 394.6,56.6 395.1,56.7 395.6,56.8 396.1,56.9 396.6,57.1 397.1,57.2 397.6,57.3 398.1,57.5 398.6,57.6 399.1,57.7 399.6,57.9 400.1,58.0 400.6,58.2 401.1,58.3 401.6,58.5 402.1,58.6 402.6,58.8 403.1,58.9 403.6,59.1 404.1,59.2 404.6,59.4 405.1,59.6 405.6,59.7 406.1,59.9 406.6,60.1 407.1,60.2 407.6,60.4 408.1,60.6 408.6,60.8 409.1,60.6 409.6,60.4 410.1,60.2 410.6,60.1 411.1,59.9 411.6,59.7 412.1,59.6 412.6,59.4 413.1,59.2 413.6,59.1 414.1,58.9 414.6,58.8 415.1,58.6 415.6,58.5 416.1,58.3 416.6,58.2 417.1,58.0 417.6,57.9 418.1,57.7 418.6,57.6 419.1,57.5 419.6,57.3 420.1,57.2 420.6,57.1 421.1,56.9 421.6,56.8 422.1,56.7 422.6,56.6 423.1,56.4 423.6,56.3 424.1,56.2 424.6,56.1 425.1,56.0 425.6,55.9 426.1,55.8 426.6,55.6 427.1,55.5 427.6,55.4 428.1,55.3 428.6,55.2 429.1,55.1 429.6,55.0 430.1,55.0 430.6,54.9 431.1,54.8 431.6,54.7 432.1,54.6 432.6,54.5 433.1,54.4 433.6,54.4 434.1,54.3 434.6,54.2 435.1,54.1 435.6,54.1 436.1,54.0 436.6,53.9 437.1,53.9 437.6,53.8 438.1,53.7 438.6,53.7 439.1,53.6 439.6,53.6 440.1,53.5 440.6,53.5 441.1,53.4 441.6,53.4 442.1,53.3 442.6,53.3 443.1,53.2 443.6,53.2 444.1,53.2 444.6,53.1 445.1,53.1 445.6,53.1 446.1,53.0 446.6,53.0 447.1,53.0 447.6,52.9 448.1,52.9 448.6,52.9 449.1,52.9 449.6,52.9 450.1,52.8 450.6,52.8 451.1,52.8 451.6,52.8 452.1,52.8 452.6,52.8 453.1,52.8 453.6,52.8 454.1,52.8 454.6,52.8 455.1,52.8 455.6,52.8 456.1,52.8 456.6,52.8 457.1,52.8 457.6,52.9 458.1,52.9 458.6,52.9 459.1,52.9 459.6,52.9 460.1,52.9 460.6,53.0 461.1,53.0 461.6,53.0 462.1,53.0 462.6,53.1 463.1,53.1 463.6,53.1 464.1,53.2 464.6,53.2 465.1,53.3 465.6,53.3 466.1,53.3 466.6,53.4 467.1,53.4 467.6,53.5 468.1,53.5 468.6,53.6 469.1,53.6 469.6,53.7 470.1,53.8 470.6,53.8 471.1,53.9 471.6,53.9 472.1,54.0 472.6,54.1 473.1,54.1 473.6,54.2 474.1,54.3 474.6,54.3 475.1,54.4 475.6,54.5 476.1,54.6 476.6,54.6 477.1,54.7 477.6,54.8 478.1,54.9 478.6,55.0 479.1,55.0 479.6,55.1 480.1,55.2 480.6,55.3 481.1,55.4 481.6,55.5 482.1,55.6 482.6,55.7 483.1,55.8 483.6,55.9 484.1,56.0 484.6,56.1 485.1,56.2 485.6,56.3 486.1,56.4 486.6,56.5 487.1,56.6 487.6,56.7 488.1,56.8 488.6,56.9 489.1,57.0 489.6,57.1 490.1,57.2 490.6,57.3 491.1,57.5 491.6,57.6 492.1,57.7 492.6,57.8 493.1,57.9 493.6,58.1 494.1,58.2 494.6,58.3 495.1,58.4 495.6,58.5 496.1,58.7 496.6,58.8 497.1,58.9 497.6,59.0 498.1,59.2 498.6,59.3 499.1,59.4 499.6,59.6 500.1,59.7 500.6,59.8 501.1,60.0 501.6,60.1 502.1,60.2 502.6,60.4 503.1,60.5 503.6,60.6 504.1,60.8 504.6,60.9 505.1,61.0 505.6,61.2 506.1,61.3 506.6,61.5 507.1,61.6 507.6,61.7 508.1,61.9 508.6,62.0 509.1,62.2 509.6,62.3 510.1,62.4 510.6,62.6 511.1,62.7 511.6,62.9 512.1,63.0 512.6,63.1 513.1,63.3 513.6,63.4 514.1,63.6 514.6,63.7 515.1,63.9 515.6,64.0 516.1,64.1 516.6,64.3 517.1,64.4 517.6,64.6 518.1,64.7 518.6,64.8 519.1,65.0 519.6,65.1 520.1,65.3 520.6,65.4 521.1,65.5 521.6,65.7 522.1,65.8 522.6,65.9 523.1,66.1 523.6,66.2 524.1,66.3 524.6,66.5 525.1,66.6 525.6,66.7 526.1,66.9 526.6,67.0 527.1,67.1 527.6,67.2 528.1,67.4 528.6,67.5 529.1,67.6 529.6,67.7 530.1,67.9 530.6,68.0 531.1,68.1 531.6,68.2 532.1,68.3 532.6,68.4 533.1,68.6 533.6,68.7 534.1,68.8 534.6,68.9 535.1,69.0 535.6,69.1 536.1,69.2 536.6,69.3 537.1,69.4 537.6,69.5 538.1,69.6 538.6,69.7 539.1,69.8 539.6,69.8 540.1,69.9 540.6,70.0 541.1,70.1 541.6,70.2 542.1,70.2 542.6,70.3 543.1,70.4 543.6,70.4 544.1,70.5 544.6,70.6 545.1,70.6 545.6,70.7 546.1,70.7 546.6,70.8 547.1,70.8 547.6,70.9 548.1,70.9 548.6,71.0 549.1,71.0 549.6,71.0 550.1,71.1 550.6,71.1 551.1,71.1 551.6,71.1 552.1,71.2 552.6,71.2 553.1,71.2 553.6,71.2 554.1,71.2 554.6,71.2 555.1,71.2 555.6,71.2 556.1,71.2 556.6,71.1 557.1,71.1 557.6,71.1 558.1,71.1 558.6,71.0 559.1,71.0 559.6,70.9 560.1,70.9 560.6,70.9 561.1,70.8 561.6,70.7 562.1,70.7 562.6,70.6 563.1,70.5 563.6,70.5 564.1,70.4 564.6,70.3 565.1,70.2 565.6,70.1 566.1,70.0 566.6,69.9 567.1,69.8 567.6,69.7 568.1,69.6 568.6,69.5 569.1,69.4 569.6,69.2 570.1,69.1 570.6,69.0 571.1,68.8 571.6,68.7 572.1,68.5 572.6,68.4 573.1,68.2 573.6,68.0 574.1,67.8 574.6,67.7 575.1,67.5 575.6,67.3 576.1,67.1 576.6,66.9 577.1,66.7 577.6,66.5 578.1,66.3 578.6,66.1 579.1,65.9 579.6,65.6 580.1,65.4 580.6,65.2 581.1,64.9 581.6,64.7 582.1,64.4 582.6,64.2 583.1,63.9 583.6,63.6 584.1,63.4 584.6,63.1 585.1,62.8 585.6,62.5 586.1,62.3 586.6,62.0 587.1,61.7 587.6,61.4 588.1,61.0 588.6,60.7 589.1,60.4 589.6,60.1 590.1,59.8 590.6,59.4 591.1,59.1 591.6,58.8 592.1,58.4 592.6,58.1 593.1,57.7 593.6,57.3 594.1,57.0 594.6,56.6 595.1,56.2 595.6,55.9 596.1,55.5 596.6,55.1 597.1,54.7 597.6,54.3 598.1,53.9 598.6,53.5 599.1,53.1 599.6,52.7 600.1,52.3 600.6,51.9 601.1,51.4 601.6,51.0 602.1,50.6 602.6,50.1 603.1,49.7 603.6,49.2 604.1,48.8 604.6,48.3 605.1,47.9 605.6,47.4 606.1,47.0 606.6,46.5 607.1,46.0 607.6,45.6 608.1,45.1 608.6,44.6 609.1,44.1 609.6,43.6 610.1,43.1 610.6,42.6 611.1,42.1 611.6,41.6 612.1,41.1 612.6,40.6 613.1,40.1 613.6,39.6 614.1,39.1 614.6,38.6 615.1,38.0 615.6,37.5 616.1,37.0 616.6,36.4 617.1,35.9 617.6,35.4 618.1,34.8 618.6,34.3 619.1,33.7 619.6,33.2 620.1,32.6 620.6,32.1 621.1,31.5 621.6,30.9 622.1,30.4 622.6,29.8 623.1,29.2 623.6,28.7 624.1,28.1 624.6,27.5 625.1,26.9 625.6,26.4 626.1,25.8 626.6,25.2 627.1,24.6 627.6,24.0 628.1,23.4 628.6,22.8 629.1,22.2 629.6,21.6 630.1,21.0 630.6,20.4 631.1,19.8 631.6,19.2 632.1,18.6 632.6,18.0 633.1,17.4 633.6,16.8 634.1,16.2 634.6,15.5 635.1,14.9 635.6,14.3 636.1,13.7 636.6,13.1 637.1,12.4 637.6,11.8 638.1,11.2 638.6,10.5 639.1,9.9 639.6,9.3 640.1,8.6 640.6,8.0 641.1,7.4 641.6,6.7 642.1,6.1 642.6,5.5 643.1,4.8 643.6,4.2 644.1,3.5 644.6,2.9 645.1,2.2 645.6,1.6 646.1,0.9 646.6,0.3 647.1,-0.4 647.6,-1.0 648.1,-1.7 648.6,-2.3 649.1,-3.0 649.6,-3.6 650.1,-4.3 650.6,-4.9 651.1,-5.6 651.6,-6.3 652.1,-6.9 652.6,-7.6 653.1,-8.2 653.6,-8.9 654.1,-9.6 654.6,-10.2 655.1,-10.9 655.6,-11.5 656.1,-12.2 656.6,-12.9 657.1,-13.5 657.6,-14.2 658.1,-14.9 658.6,-15.5 659.1,-16.2 659.6,-16.9 660.1,-17.5 660.6,-18.2 661.1,-18.9 661.6,-19.5 662.1,-20.2 662.6,-20.9 663.1,-21.5 663.6,-22.2 664.1,-22.9 664.6,-23.5 665.1,-24.2 665.6,-24.9 666.1,-25.5 666.6,-26.2 667.1,-26.9 667.6,-27.5 668.1,-28.2"/>
</g>
<path d="M92.6,67.75h6.2M694.2,67.75h-6.2" stroke="#1c1c1c" stroke-width="1.35"/>
<text class="tl" transform="translate(62.46,81.75) scale(0.948,1)" font-family='"Liberation Sans", sans-serif' font-size="36.8" fill="#1a1a1a">1</text>
<path d="M64.55,77.70H71.23V82.55H64.55ZM74.31,77.70H80.77V82.55H74.31Z" fill="#fff"/>
<path d="M92.6,180.65h6.2M694.2,180.65h-6.2" stroke="#1c1c1c" stroke-width="1.35"/>
<text class="tl" transform="translate(60.96,194.65) scale(0.948,1)" font-family='"Liberation Sans", sans-serif' font-size="36.8" fill="#1a1a1a">0</text>
<path d="M92.6,293.55h6.2M694.2,293.55h-6.2" stroke="#1c1c1c" stroke-width="1.35"/>
<text class="tl" transform="translate(50.84,307.55) scale(0.948,1)" font-family='"Liberation Sans", sans-serif' font-size="36.8" fill="#1a1a1a"><tspan dx="-1.6">-</tspan><tspan dx="1.6">1</tspan></text>
<path d="M64.55,303.50H71.23V308.35H64.55ZM74.31,303.50H80.77V308.35H74.31Z" fill="#fff"/>
<rect x="92.6" y="11.30" width="601.60" height="338.70" fill="none" stroke="#1c1c1c" stroke-width="1.35"/>
<text transform="translate(104.69,145.31) scale(1.0036,1)" font-family='"Liberation Sans", sans-serif' font-size="51.63" fill="#000">(a)</text>
<text transform="translate(47.10,229.47) rotate(-90) scale(1.1149,1)" font-family='"Liberation Serif", serif' font-size="63.30" font-style="italic" stroke="#fff" stroke-width="0.5" fill="#000">E</text>
<text transform="translate(57.56,179.90) rotate(-90) skewX(-6.45) scale(0.6370,1)" font-family='"Liberation Serif", serif' font-size="84.45" fill="#000">/</text>
<text transform="translate(47.05,156.15) rotate(-90) scale(1.0719,1)" font-family='"Liberation Serif", serif' font-size="66.87" font-style="italic" stroke="#fff" stroke-width="1.1" fill="#000">t</text>
<g clip-path="url(#cp1)" fill="none" stroke="#000" stroke-width="2.9" stroke-linejoin="round">
<polyline points="161.6,727.9 162.1,727.1 162.6,726.4 163.1,725.7 163.6,724.9 164.1,724.2 164.6,723.5 165.1,722.7 165.6,722.0 166.1,721.2 166.6,720.5 167.1,719.7 167.6,719.0 168.1,718.2 168.6,717.5 169.1,716.8 169.6,716.0 170.1,715.3 170.6,714.5 171.1,713.8 171.6,713.0 172.1,712.3 172.6,711.5 173.1,710.8 173.6,710.0 174.1,709.2 174.6,708.5 175.1,707.7 175.6,707.0 176.1,706.2 176.6,705.5 177.1,704.7 177.6,704.0 178.1,703.2 178.6,702.4 179.1,701.7 179.6,700.9 180.1,700.2 180.6,699.4 181.1,698.6 181.6,697.9 182.1,697.1 182.6,696.4 183.1,695.6 183.6,694.8 184.1,694.1 184.6,693.3 185.1,692.6 185.6,691.8 186.1,691.0 186.6,690.3 187.1,689.5 187.6,688.8 188.1,688.0 188.6,687.2 189.1,686.5 189.6,685.7 190.1,685.0 190.6,684.2 191.1,683.4 191.6,682.7 192.1,681.9 192.6,681.1 193.1,680.4 193.6,679.6 194.1,678.9 194.6,678.1 195.1,677.3 195.6,676.6 196.1,675.8 196.6,675.1 197.1,674.3 197.6,673.6 198.1,672.8 198.6,672.0 199.1,671.3 199.6,670.5 200.1,669.8 200.6,669.0 201.1,668.3 201.6,667.5 202.1,666.8 202.6,666.0 203.1,665.3 203.6,664.5 204.1,663.8 204.6,663.0 205.1,662.3 205.6,661.5 206.1,660.8 206.6,660.1 207.1,659.3 207.6,658.6 208.1,657.8 208.6,657.1 209.1,656.4 209.6,655.6 210.1,654.9 210.6,654.2 211.1,653.5 211.6,652.7 212.1,652.0 212.6,651.3 213.1,650.6 213.6,649.8 214.1,649.1 214.6,648.4 215.1,647.7 215.6,647.0 216.1,646.3 216.6,645.6 217.1,644.9 217.6,644.2 218.1,643.5 218.6,642.8 219.1,642.1 219.6,641.4 220.1,640.7 220.6,640.0 221.1,639.3 221.6,638.7 222.1,638.0 222.6,637.3 223.1,636.6 223.6,636.0 224.1,635.3 224.6,634.7 225.1,634.0 225.6,633.4 226.1,632.7 226.6,632.1 227.1,631.5 227.6,630.8 228.1,630.2 228.6,629.6 229.1,629.0 229.6,628.4 230.1,627.8 230.6,627.2 231.1,626.6 231.6,626.0 232.1,625.4 232.6,624.8 233.1,624.3 233.6,623.7 234.1,623.2 234.6,622.6 235.1,622.1 235.6,621.6 236.1,621.0 236.6,620.5 237.1,620.0 237.6,619.5 238.1,619.0 238.6,618.5 239.1,618.1 239.6,617.6 240.1,617.1 240.6,616.7 241.1,616.2 241.6,615.8 242.1,615.4 242.6,615.0 243.1,614.6 243.6,614.2 244.1,613.8 244.6,613.4 245.1,613.1 245.6,612.7 246.1,612.4 246.6,612.1 247.1,611.7 247.6,611.4 248.1,611.1 248.6,610.9 249.1,610.6 249.6,610.3 250.1,610.1 250.6,609.8 251.1,609.6 251.6,609.4 252.1,609.1 252.6,608.9 253.1,608.7 253.6,608.6 254.1,608.4 254.6,608.2 255.1,608.1 255.6,607.9 256.1,607.8 256.6,607.7 257.1,607.6 257.6,607.5 258.1,607.4 258.6,607.3 259.1,607.2 259.6,607.2 260.1,607.1 260.6,607.1 261.1,607.0 261.6,607.0 262.1,607.0 262.6,607.0 263.1,607.0 263.6,607.0 264.1,607.0 264.6,607.0 265.1,607.0 265.6,607.1 266.1,607.1 266.6,607.2 267.1,607.2 267.6,607.3 268.1,607.3 268.6,607.4 269.1,607.5 269.6,607.6 270.1,607.7 270.6,607.8 271.1,607.9 271.6,608.0 272.1,608.1 272.6,608.2 273.1,608.3 273.6,608.5 274.1,608.6 274.6,608.8 275.1,608.9 275.6,609.0 276.1,609.2 276.6,609.4 277.1,609.5 277.6,609.7 278.1,609.9 278.6,610.0 279.1,610.2 279.6,610.4 280.1,610.6 280.6,610.8 281.1,611.0 281.6,611.2 282.1,611.3 282.6,611.5 283.1,611.8 283.6,612.0 284.1,612.2 284.6,612.4 285.1,612.6 285.6,612.8 286.1,613.0 286.6,613.3 287.1,613.5 287.6,613.7 288.1,613.9 288.6,614.2 289.1,614.4 289.6,614.6 290.1,614.9 290.6,615.1 291.1,615.3 291.6,615.6 292.1,615.8 292.6,616.1 293.1,616.3 293.6,616.5 294.1,616.8 294.6,617.0 295.1,617.3 295.6,617.5 296.1,617.8 296.6,618.0 297.1,618.3 297.6,618.5 298.1,618.8 298.6,619.0 299.1,619.3 299.6,619.6 300.1,619.8 300.6,620.1 301.1,620.3 301.6,620.6 302.1,620.8 302.6,621.1 303.1,621.4 303.6,621.6 304.1,621.9 304.6,622.1 305.1,622.4 305.6,622.6 306.1,622.9 306.6,623.2 307.1,623.4 307.6,623.7 308.1,623.9 308.6,624.2 309.1,624.5 309.6,624.7 310.1,625.0 310.6,625.2 311.1,625.5 311.6,625.7 312.1,626.0 312.6,626.3 313.1,626.5 313.6,626.8 314.1,627.0 314.6,627.3 315.1,627.5 315.6,627.8 316.1,628.0 316.6,628.3 317.1,628.5 317.6,628.8 318.1,629.0 318.6,629.3 319.1,629.5 319.6,629.8 320.1,630.0 320.6,630.2 321.1,630.5 321.6,630.7 322.1,631.0 322.6,631.2 323.1,631.5 323.6,631.7 324.1,631.9 324.6,632.2 325.1,632.4 325.6,632.6 326.1,632.9 326.6,633.1 327.1,633.3 327.6,633.6 328.1,633.8 328.6,634.0 329.1,634.2 329.6,634.5 330.1,634.7 330.6,634.9 331.1,635.1 331.6,635.3 332.1,635.6 332.6,635.8 333.1,636.0 333.6,636.2 334.1,636.4 334.6,636.6 335.1,636.8 335.6,637.0 336.1,637.3 336.6,637.5 337.1,637.7 337.6,637.9 338.1,638.1 338.6,638.3 339.1,638.5 339.6,638.7 340.1,638.9 340.6,639.0 341.1,639.2 341.6,639.4 342.1,639.6 342.6,639.8 343.1,640.0 343.6,640.2 344.1,640.4 344.6,640.5 345.1,640.7 345.6,640.9 346.1,641.1 346.6,641.2 347.1,641.4 347.6,641.6 348.1,641.7 348.6,641.9 349.1,642.1 349.6,642.2 350.1,642.4 350.6,642.6 351.1,642.7 351.6,642.9 352.1,643.0 352.6,643.2 353.1,643.3 353.6,643.5 354.1,643.6 354.6,643.8 355.1,643.9 355.6,644.1 356.1,644.2 356.6,644.3 357.1,644.5 357.6,644.6 358.1,644.7 358.6,644.9 359.1,645.0 359.6,645.1 360.1,645.3 360.6,645.4 361.1,645.5 361.6,645.6 362.1,645.7 362.6,645.9 363.1,646.0 363.6,646.1 364.1,646.2 364.6,646.3 365.1,646.4 365.6,646.5 366.1,646.6 366.6,646.7 367.1,646.8 367.6,646.9 368.1,647.0 368.6,647.1 369.1,647.2 369.6,647.3 370.1,647.4 370.6,647.4 371.1,647.5 371.6,647.6 372.1,647.7 372.6,647.8 373.1,647.8 373.6,647.9 374.1,648.0 374.6,648.1 375.1,648.1 375.6,648.2 376.1,648.3 376.6,648.3 377.1,648.4 377.6,648.4 378.1,648.5 378.6,648.5 379.1,648.6 379.6,648.6 380.1,648.7 380.6,648.7 381.1,648.8 381.6,648.8 382.1,648.9 382.6,648.9 383.1,648.9 383.6,649.0 384.1,649.0 384.6,649.0 385.1,649.0 385.6,649.1 386.1,649.1 386.6,649.1 387.1,649.1 387.6,649.2 388.1,649.2 388.6,649.2 389.1,649.2 389.6,649.2 390.1,649.2 390.6,649.2 391.1,649.2 391.6,649.2 392.1,649.2 392.6,649.2 393.1,649.2 393.6,649.2 394.1,649.2 394.6,649.2 395.1,649.2 395.6,649.1 396.1,649.1 396.6,649.1 397.1,649.1 397.6,649.1 398.1,649.0 398.6,649.0 399.1,649.0 399.6,648.9 400.1,648.9 400.6,648.9 401.1,648.8 401.6,648.8 402.1,648.8 402.6,648.7 403.1,648.7 403.6,648.6 404.1,648.6 404.6,648.5 405.1,648.5 405.6,648.4 406.1,648.3 406.6,648.3 407.1,648.2 407.6,648.1 408.1,648.1 408.6,648.0 409.1,648.1 409.6,648.1 410.1,648.2 410.6,648.3 411.1,648.3 411.6,648.4 412.1,648.5 412.6,648.5 413.1,648.6 413.6,648.6 414.1,648.7 414.6,648.7 415.1,648.8 415.6,648.8 416.1,648.8 416.6,648.9 417.1,648.9 417.6,648.9 418.1,649.0 418.6,649.0 419.1,649.0 419.6,649.1 420.1,649.1 420.6,649.1 421.1,649.1 421.6,649.1 422.1,649.2 422.6,649.2 423.1,649.2 423.6,649.2 424.1,649.2 424.6,649.2 425.1,649.2 425.6,649.2 426.1,649.2 426.6,649.2 427.1,649.2 427.6,649.2 428.1,649.2 428.6,649.2 429.1,649.2 429.6,649.2 430.1,649.1 430.6,649.1 431.1,649.1 431.6,649.1 432.1,649.0 432.6,649.0 433.1,649.0 433.6,649.0 434.1,648.9 434.6,648.9 435.1,648.9 435.6,648.8 436.1,648.8 436.6,648.7 437.1,648.7 437.6,648.6 438.1,648.6 438.6,648.5 439.1,648.5 439.6,648.4 440.1,648.4 440.6,648.3 441.1,648.3 441.6,648.2 442.1,648.1 442.6,648.1 443.1,648.0 443.6,647.9 444.1,647.8 444.6,647.8 445.1,647.7 445.6,647.6 446.1,647.5 446.6,647.4 447.1,647.4 447.6,647.3 448.1,647.2 448.6,647.1 449.1,647.0 449.6,646.9 450.1,646.8 450.6,646.7 451.1,646.6 451.6,646.5 452.1,646.4 452.6,646.3 453.1,646.2 453.6,646.1 454.1,646.0 454.6,645.9 455.1,645.7 455.6,645.6 456.1,645.5 456.6,645.4 457.1,645.3 457.6,645.1 458.1,645.0 458.6,644.9 459.1,644.7 459.6,644.6 460.1,644.5 460.6,644.3 461.1,644.2 461.6,644.1 462.1,643.9 462.6,643.8 463.1,643.6 463.6,643.5 464.1,643.3 464.6,643.2 465.1,643.0 465.6,642.9 466.1,642.7 466.6,642.6 467.1,642.4 467.6,642.2 468.1,642.1 468.6,641.9 469.1,641.7 469.6,641.6 470.1,641.4 470.6,641.2 471.1,641.1 471.6,640.9 472.1,640.7 472.6,640.5 473.1,640.4 473.6,640.2 474.1,640.0 474.6,639.8 475.1,639.6 475.6,639.4 476.1,639.2 476.6,639.0 477.1,638.9 477.6,638.7 478.1,638.5 478.6,638.3 479.1,638.1 479.6,637.9 480.1,637.7 480.6,637.5 481.1,637.3 481.6,637.0 482.1,636.8 482.6,636.6 483.1,636.4 483.6,636.2 484.1,636.0 484.6,635.8 485.1,635.6 485.6,635.3 486.1,635.1 486.6,634.9 487.1,634.7 487.6,634.5 488.1,634.2 488.6,634.0 489.1,633.8 489.6,633.6 490.1,633.3 490.6,633.1 491.1,632.9 491.6,632.6 492.1,632.4 492.6,632.2 493.1,631.9 493.6,631.7 494.1,631.5 494.6,631.2 495.1,631.0 495.6,630.7 496.1,630.5 496.6,630.2 497.1,630.0 497.6,629.8 498.1,629.5 498.6,629.3 499.1,629.0 499.6,628.8 500.1,628.5 500.6,628.3 501.1,628.0 501.6,627.8 502.1,627.5 502.6,627.3 503.1,627.0 503.6,626.8 504.1,626.5 504.6,626.3 505.1,626.0 505.6,625.7 506.1,625.5 506.6,625.2 507.1,625.0 507.6,624.7 508.1,624.5 508.6,624.2 509.1,623.9 509.6,623.7 510.1,623.4 510.6,623.2 511.1,622.9 511.6,622.6 512.1,622.4 512.6,622.1 513.1,621.9 513.6,621.6 514.1,621.4 514.6,621.1 515.1,620.8 515.6,620.6 516.1,620.3 516.6,620.1 517.1,619.8 517.6,619.6 518.1,619.3 518.6,619.0 519.1,618.8 519.6,618.5 520.1,618.3 520.6,618.0 521.1,617.8 521.6,617.5 522.1,617.3 522.6,617.0 523.1,616.8 523.6,616.5 524.1,616.3 524.6,616.1 525.1,615.8 525.6,615.6 526.1,615.3 526.6,615.1 527.1,614.9 527.6,614.6 528.1,614.4 528.6,614.2 529.1,613.9 529.6,613.7 530.1,613.5 530.6,613.3 531.1,613.0 531.6,612.8 532.1,612.6 532.6,612.4 533.1,612.2 533.6,612.0 534.1,611.8 534.6,611.5 535.1,611.3 535.6,611.2 536.1,611.0 536.6,610.8 537.1,610.6 537.6,610.4 538.1,610.2 538.6,610.0 539.1,609.9 539.6,609.7 540.1,609.5 540.6,609.4 541.1,609.2 541.6,609.0 542.1,608.9 542.6,608.8 543.1,608.6 543.6,608.5 544.1,608.3 544.6,608.2 545.1,608.1 545.6,608.0 546.1,607.9 546.6,607.8 547.1,607.7 547.6,607.6 548.1,607.5 548.6,607.4 549.1,607.3 549.6,607.3 550.1,607.2 550.6,607.2 551.1,607.1 551.6,607.1 552.1,607.0 552.6,607.0 553.1,607.0 553.6,607.0 554.1,607.0 554.6,607.0 555.1,607.0 555.6,607.0 556.1,607.0 556.6,607.1 557.1,607.1 557.6,607.2 558.1,607.2 558.6,607.3 559.1,607.4 559.6,607.5 560.1,607.6 560.6,607.7 561.1,607.8 561.6,607.9 562.1,608.1 562.6,608.2 563.1,608.4 563.6,608.6 564.1,608.7 564.6,608.9 565.1,609.1 565.6,609.4 566.1,609.6 566.6,609.8 567.1,610.1 567.6,610.3 568.1,610.6 568.6,610.9 569.1,611.1 569.6,611.4 570.1,611.7 570.6,612.1 571.1,612.4 571.6,612.7 572.1,613.1 572.6,613.4 573.1,613.8 573.6,614.2 574.1,614.6 574.6,615.0 575.1,615.4 575.6,615.8 576.1,616.2 576.6,616.7 577.1,617.1 577.6,617.6 578.1,618.1 578.6,618.5 579.1,619.0 579.6,619.5 580.1,620.0 580.6,620.5 581.1,621.0 581.6,621.6 582.1,622.1 582.6,622.6 583.1,623.2 583.6,623.7 584.1,624.3 584.6,624.8 585.1,625.4 585.6,626.0 586.1,626.6 586.6,627.2 587.1,627.8 587.6,628.4 588.1,629.0 588.6,629.6 589.1,630.2 589.6,630.8 590.1,631.5 590.6,632.1 591.1,632.7 591.6,633.4 592.1,634.0 592.6,634.7 593.1,635.3 593.6,636.0 594.1,636.6 594.6,637.3 595.1,638.0 595.6,638.7 596.1,639.3 596.6,640.0 597.1,640.7 597.6,641.4 598.1,642.1 598.6,642.8 599.1,643.5 599.6,644.2 600.1,644.9 600.6,645.6 601.1,646.3 601.6,647.0 602.1,647.7 602.6,648.4 603.1,649.1 603.6,649.8 604.1,650.6 604.6,651.3 605.1,652.0 605.6,652.7 606.1,653.5 606.6,654.2 607.1,654.9 607.6,655.6 608.1,656.4 608.6,657.1 609.1,657.8 609.6,658.6 610.1,659.3 610.6,660.1 611.1,660.8 611.6,661.5 612.1,662.3 612.6,663.0 613.1,663.8 613.6,664.5 614.1,665.3 614.6,666.0 615.1,666.8 615.6,667.5 616.1,668.3 616.6,669.0 617.1,669.8 617.6,670.5 618.1,671.3 618.6,672.0 619.1,672.8 619.6,673.6 620.1,674.3 620.6,675.1 621.1,675.8 621.6,676.6 622.1,677.3 622.6,678.1 623.1,678.9 623.6,679.6 624.1,680.4 624.6,681.1 625.1,681.9 625.6,682.7 626.1,683.4 626.6,684.2 627.1,685.0 627.6,685.7 628.1,686.5 628.6,687.2 629.1,688.0 629.6,688.8 630.1,689.5 630.6,690.3 631.1,691.0 631.6,691.8 632.1,692.6 632.6,693.3 633.1,694.1 633.6,694.8 634.1,695.6 634.6,696.4 635.1,697.1 635.6,697.9 636.1,698.6 636.6,699.4 637.1,700.2 637.6,700.9 638.1,701.7 638.6,702.4 639.1,703.2 639.6,704.0 640.1,704.7 640.6,705.5 641.1,706.2 641.6,707.0 642.1,707.7 642.6,708.5 643.1,709.2 643.6,710.0 644.1,710.8 644.6,711.5 645.1,712.3 645.6,713.0 646.1,713.8 646.6,714.5 647.1,715.3 647.6,716.0 648.1,716.8 648.6,717.5 649.1,718.2 649.6,719.0 650.1,719.7 650.6,720.5 651.1,721.2 651.6,722.0 652.1,722.7 652.6,723.5 653.1,724.2 653.6,724.9 654.1,725.7 654.6,726.4 655.1,727.1 655.6,727.9"/>
<polyline points="104.1,727.6 104.6,726.8 105.1,726.1 105.6,725.4 106.1,724.7 106.6,723.9 107.1,723.2 107.6,722.5 108.1,721.8 108.6,721.0 109.1,720.3 109.6,719.6 110.1,718.8 110.6,718.1 111.1,717.4 111.6,716.6 112.1,715.9 112.6,715.2 113.1,714.4 113.6,713.7 114.1,713.0 114.6,712.2 115.1,711.5 115.6,710.8 116.1,710.0 116.6,709.3 117.1,708.5 117.6,707.8 118.1,707.1 118.6,706.3 119.1,705.6 119.6,704.9 120.1,704.1 120.6,703.4 121.1,702.6 121.6,701.9 122.1,701.2 122.6,700.4 123.1,699.7 123.6,698.9 124.1,698.2 124.6,697.5 125.1,696.7 125.6,696.0 126.1,695.2 126.6,694.5 127.1,693.8 127.6,693.0 128.1,692.3 128.6,691.6 129.1,690.8 129.6,690.1 130.1,689.3 130.6,688.6 131.1,687.9 131.6,687.1 132.1,686.4 132.6,685.7 133.1,684.9 133.6,684.2 134.1,683.4 134.6,682.7 135.1,682.0 135.6,681.2 136.1,680.5 136.6,679.8 137.1,679.0 137.6,678.3 138.1,677.6 138.6,676.9 139.1,676.1 139.6,675.4 140.1,674.7 140.6,673.9 141.1,673.2 141.6,672.5 142.1,671.8 142.6,671.0 143.1,670.3 143.6,669.6 144.1,668.9 144.6,668.1 145.1,667.4 145.6,666.7 146.1,666.0 146.6,665.3 147.1,664.5 147.6,663.8 148.1,663.1 148.6,662.4 149.1,661.7 149.6,661.0 150.1,660.3 150.6,659.5 151.1,658.8 151.6,658.1 152.1,657.4 152.6,656.7 153.1,656.0 153.6,655.3 154.1,654.6 154.6,653.9 155.1,653.2 155.6,652.5 156.1,651.8 156.6,651.1 157.1,650.4 157.6,649.7 158.1,649.0 158.6,648.4 159.1,647.7 159.6,647.0 160.1,646.3 160.6,645.6 161.1,644.9 161.6,644.2 162.1,643.6 162.6,642.9 163.1,642.2 163.6,641.5 164.1,640.9 164.6,640.2 165.1,639.5 165.6,638.9 166.1,638.2 166.6,637.6 167.1,636.9 167.6,636.2 168.1,635.6 168.6,634.9 169.1,634.3 169.6,633.6 170.1,633.0 170.6,632.3 171.1,631.7 171.6,631.0 172.1,630.4 172.6,629.8 173.1,629.1 173.6,628.5 174.1,627.9 174.6,627.2 175.1,626.6 175.6,626.0 176.1,625.4 176.6,624.8 177.1,624.1 177.6,623.5 178.1,622.9 178.6,622.3 179.1,621.7 179.6,621.1 180.1,620.5 180.6,619.9 181.1,619.3 181.6,618.7 182.1,618.1 182.6,617.6 183.1,617.0 183.6,616.4 184.1,615.8 184.6,615.2 185.1,614.7 185.6,614.1 186.1,613.5 186.6,613.0 187.1,612.4 187.6,611.8 188.1,611.3 188.6,610.7 189.1,610.2 189.6,609.7 190.1,609.1 190.6,608.6 191.1,608.0 191.6,607.5 192.1,607.0 192.6,606.4 193.1,605.9 193.6,605.4 194.1,604.9 194.6,604.4 195.1,603.9 195.6,603.4 196.1,602.9 196.6,602.4 197.1,601.9 197.6,601.4 198.1,600.9 198.6,600.4 199.1,599.9 199.6,599.4 200.1,599.0 200.6,598.5 201.1,598.0 201.6,597.5 202.1,597.1 202.6,596.6 203.1,596.2 203.6,595.7 204.1,595.3 204.6,594.8 205.1,594.4 205.6,593.9 206.1,593.5 206.6,593.1 207.1,592.7 207.6,592.2 208.1,591.8 208.6,591.4 209.1,591.0 209.6,590.6 210.1,590.2 210.6,589.8 211.1,589.4 211.6,589.0 212.1,588.6 212.6,588.2 213.1,587.8 213.6,587.4 214.1,587.0 214.6,586.6 215.1,586.3 215.6,585.9 216.1,585.5 216.6,585.2 217.1,584.8 217.6,584.4 218.1,584.1 218.6,583.7 219.1,583.4 219.6,583.0 220.1,582.7 220.6,582.3 221.1,582.0 221.6,581.6 222.1,581.3 222.6,581.0 223.1,580.6 223.6,580.3 224.1,580.0 224.6,579.6 225.1,579.3 225.6,579.0 226.1,578.7 226.6,578.3 227.1,578.0 227.6,577.7 228.1,577.4 228.6,577.1 229.1,576.7 229.6,576.4 230.1,576.1 230.6,575.8 231.1,575.5 231.6,575.2 232.1,574.8 232.6,574.5 233.1,574.2 233.6,573.9 234.1,573.6 234.6,573.2 235.1,572.9 235.6,572.6 236.1,572.3 236.6,571.9 237.1,571.6 237.6,571.3 238.1,570.9 238.6,570.6 239.1,570.3 239.6,569.9 240.1,569.6 240.6,569.2 241.1,568.9 241.6,568.5 242.1,568.1 242.6,567.8 243.1,567.4 243.6,567.0 244.1,566.6 244.6,566.3 245.1,565.9 245.6,565.5 246.1,565.1 246.6,564.7 247.1,564.3 247.6,563.9 248.1,563.4 248.6,563.0 249.1,562.6 249.6,562.2 250.1,561.7 250.6,561.3 251.1,560.8 251.6,560.4 252.1,559.9 252.6,559.4 253.1,558.9 253.6,558.5 254.1,558.0 254.6,557.5 255.1,557.0 255.6,556.5 256.1,556.0 256.6,555.5 257.1,555.0 257.6,554.4 258.1,553.9 258.6,553.4 259.1,552.8 259.6,552.3 260.1,551.8 260.6,551.2 261.1,550.7 261.6,550.1 262.1,549.5 262.6,549.0 263.1,548.4 263.6,549.0 264.1,549.5 264.6,550.1 265.1,550.7 265.6,551.2 266.1,551.8 266.6,552.4 267.1,552.9 267.6,553.5 268.1,554.1 268.6,554.6 269.1,555.2 269.6,555.7 270.1,556.3 270.6,556.8 271.1,557.4 271.6,557.9 272.1,558.5 272.6,559.0 273.1,559.6 273.6,560.1 274.1,560.6 274.6,561.2 275.1,561.7 275.6,562.3 276.1,562.8 276.6,563.3 277.1,563.9 277.6,564.4 278.1,564.9 278.6,565.5 279.1,566.0 279.6,566.5 280.1,567.0 280.6,567.6 281.1,568.1 281.6,568.6 282.1,569.1 282.6,569.6 283.1,570.2 283.6,570.7 284.1,571.2 284.6,571.7 285.1,572.2 285.6,572.7 286.1,573.2 286.6,573.7 287.1,574.2 287.6,574.7 288.1,575.2 288.6,575.7 289.1,576.2 289.6,576.7 290.1,577.2 290.6,577.7 291.1,578.2 291.6,578.7 292.1,579.2 292.6,579.7 293.1,580.2 293.6,580.7 294.1,581.2 294.6,581.6 295.1,582.1 295.6,582.6 296.1,583.1 296.6,583.6 297.1,584.0 297.6,584.5 298.1,585.0 298.6,585.5 299.1,585.9 299.6,586.4 300.1,586.9 300.6,587.3 301.1,587.8 301.6,588.3 302.1,588.7 302.6,589.2 303.1,589.6 303.6,590.1 304.1,590.6 304.6,591.0 305.1,591.5 305.6,591.9 306.1,592.4 306.6,592.8 307.1,593.3 307.6,593.7 308.1,594.2 308.6,594.6 309.1,595.0 309.6,595.5 310.1,595.9 310.6,596.4 311.1,596.8 311.6,597.2 312.1,597.7 312.6,598.1 313.1,598.5 313.6,599.0 314.1,599.4 314.6,599.8 315.1,600.2 315.6,600.7 316.1,601.1 316.6,601.5 317.1,601.9 317.6,602.3 318.1,602.7 318.6,603.2 319.1,603.6 319.6,604.0 320.1,604.4 320.6,604.8 321.1,605.2 321.6,605.6 322.1,606.0 322.6,606.4 323.1,606.8 323.6,607.2 324.1,607.6 324.6,608.0 325.1,608.4 325.6,608.8 326.1,609.2 326.6,609.5 327.1,609.9 327.6,610.3 328.1,610.7 328.6,611.1 329.1,611.5 329.6,611.8 330.1,612.2 330.6,612.6 331.1,613.0 331.6,613.3 332.1,613.7 332.6,614.1 333.1,614.4 333.6,614.8 334.1,615.2 334.6,615.5 335.1,615.9 335.6,616.2 336.1,616.6 336.6,616.9 337.1,617.3 337.6,617.6 338.1,618.0 338.6,618.3 339.1,618.7 339.6,619.0 340.1,619.4 340.6,619.7 341.1,620.0 341.6,620.4 342.1,620.7 342.6,621.0 343.1,621.4 343.6,621.7 344.1,622.0 344.6,622.4 345.1,622.7 345.6,623.0 346.1,623.3 346.6,623.6 347.1,624.0 347.6,624.3 348.1,624.6 348.6,624.9 349.1,625.2 349.6,625.5 350.1,625.8 350.6,626.1 351.1,626.4 351.6,626.7 352.1,627.0 352.6,627.3 353.1,627.6 353.6,627.9 354.1,628.2 354.6,628.5 355.1,628.8 355.6,629.1 356.1,629.3 356.6,629.6 357.1,629.9 357.6,630.2 358.1,630.4 358.6,630.7 359.1,631.0 359.6,631.3 360.1,631.5 360.6,631.8 361.1,632.1 361.6,632.3 362.1,632.6 362.6,632.8 363.1,633.1 363.6,633.3 364.1,633.6 364.6,633.9 365.1,634.1 365.6,634.3 366.1,634.6 366.6,634.8 367.1,635.1 367.6,635.3 368.1,635.5 368.6,635.8 369.1,636.0 369.6,636.2 370.1,636.5 370.6,636.7 371.1,636.9 371.6,637.1 372.1,637.4 372.6,637.6 373.1,637.8 373.6,638.0 374.1,638.2 374.6,638.4 375.1,638.7 375.6,638.9 376.1,639.1 376.6,639.3 377.1,639.5 377.6,639.7 378.1,639.9 378.6,640.1 379.1,640.2 379.6,640.4 380.1,640.6 380.6,640.8 381.1,641.0 381.6,641.2 382.1,641.4 382.6,641.5 383.1,641.7 383.6,641.9 384.1,642.1 384.6,642.2 385.1,642.4 385.6,642.6 386.1,642.7 386.6,642.9 387.1,643.1 387.6,643.2 388.1,643.4 388.6,643.5 389.1,643.7 389.6,643.8 390.1,644.0 390.6,644.1 391.1,644.3 391.6,644.4 392.1,644.5 392.6,644.7 393.1,644.8 393.6,645.0 394.1,645.1 394.6,645.2 395.1,645.3 395.6,645.5 396.1,645.6 396.6,645.7 397.1,645.8 397.6,645.9 398.1,646.1 398.6,646.2 399.1,646.3 399.6,646.4 400.1,646.5 400.6,646.6 401.1,646.7 401.6,646.8 402.1,646.9 402.6,647.0 403.1,647.1 403.6,647.2 404.1,647.3 404.6,647.4 405.1,647.5 405.6,647.5 406.1,647.6 406.6,647.7 407.1,647.8 407.6,647.9 408.1,647.9 408.6,648.0 409.1,647.9 409.6,647.9 410.1,647.8 410.6,647.7 411.1,647.6 411.6,647.5 412.1,647.5 412.6,647.4 413.1,647.3 413.6,647.2 414.1,647.1 414.6,647.0 415.1,646.9 415.6,646.8 416.1,646.7 416.6,646.6 417.1,646.5 417.6,646.4 418.1,646.3 418.6,646.2 419.1,646.1 419.6,645.9 420.1,645.8 420.6,645.7 421.1,645.6 421.6,645.5 422.1,645.3 422.6,645.2 423.1,645.1 423.6,645.0 424.1,644.8 424.6,644.7 425.1,644.5 425.6,644.4 426.1,644.3 426.6,644.1 427.1,644.0 427.6,643.8 428.1,643.7 428.6,643.5 429.1,643.4 429.6,643.2 430.1,643.1 430.6,642.9 431.1,642.7 431.6,642.6 432.1,642.4 432.6,642.2 433.1,642.1 433.6,641.9 434.1,641.7 434.6,641.5 435.1,641.4 435.6,641.2 436.1,641.0 436.6,640.8 437.1,640.6 437.6,640.4 438.1,640.2 438.6,640.1 439.1,639.9 439.6,639.7 440.1,639.5 440.6,639.3 441.1,639.1 441.6,638.9 442.1,638.7 442.6,638.4 443.1,638.2 443.6,638.0 444.1,637.8 444.6,637.6 445.1,637.4 445.6,637.1 446.1,636.9 446.6,636.7 447.1,636.5 447.6,636.2 448.1,636.0 448.6,635.8 449.1,635.5 449.6,635.3 450.1,635.1 450.6,634.8 451.1,634.6 451.6,634.3 452.1,634.1 452.6,633.9 453.1,633.6 453.6,633.3 454.1,633.1 454.6,632.8 455.1,632.6 455.6,632.3 456.1,632.1 456.6,631.8 457.1,631.5 457.6,631.3 458.1,631.0 458.6,630.7 459.1,630.4 459.6,630.2 460.1,629.9 460.6,629.6 461.1,629.3 461.6,629.1 462.1,628.8 462.6,628.5 463.1,628.2 463.6,627.9 464.1,627.6 464.6,627.3 465.1,627.0 465.6,626.7 466.1,626.4 466.6,626.1 467.1,625.8 467.6,625.5 468.1,625.2 468.6,624.9 469.1,624.6 469.6,624.3 470.1,624.0 470.6,623.6 471.1,623.3 471.6,623.0 472.1,622.7 472.6,622.4 473.1,622.0 473.6,621.7 474.1,621.4 474.6,621.0 475.1,620.7 475.6,620.4 476.1,620.0 476.6,619.7 477.1,619.4 477.6,619.0 478.1,618.7 478.6,618.3 479.1,618.0 479.6,617.6 480.1,617.3 480.6,616.9 481.1,616.6 481.6,616.2 482.1,615.9 482.6,615.5 483.1,615.2 483.6,614.8 484.1,614.4 484.6,614.1 485.1,613.7 485.6,613.3 486.1,613.0 486.6,612.6 487.1,612.2 487.6,611.8 488.1,611.5 488.6,611.1 489.1,610.7 489.6,610.3 490.1,609.9 490.6,609.5 491.1,609.2 491.6,608.8 492.1,608.4 492.6,608.0 493.1,607.6 493.6,607.2 494.1,606.8 494.6,606.4 495.1,606.0 495.6,605.6 496.1,605.2 496.6,604.8 497.1,604.4 497.6,604.0 498.1,603.6 498.6,603.2 499.1,602.7 499.6,602.3 500.1,601.9 500.6,601.5 501.1,601.1 501.6,600.7 502.1,600.2 502.6,599.8 503.1,599.4 503.6,599.0 504.1,598.5 504.6,598.1 505.1,597.7 505.6,597.2 506.1,596.8 506.6,596.4 507.1,595.9 507.6,595.5 508.1,595.0 508.6,594.6 509.1,594.2 509.6,593.7 510.1,593.3 510.6,592.8 511.1,592.4 511.6,591.9 512.1,591.5 512.6,591.0 513.1,590.6 513.6,590.1 514.1,589.6 514.6,589.2 515.1,588.7 515.6,588.3 516.1,587.8 516.6,587.3 517.1,586.9 517.6,586.4 518.1,585.9 518.6,585.5 519.1,585.0 519.6,584.5 520.1,584.0 520.6,583.6 521.1,583.1 521.6,582.6 522.1,582.1 522.6,581.6 523.1,581.2 523.6,580.7 524.1,580.2 524.6,579.7 525.1,579.2 525.6,578.7 526.1,578.2 526.6,577.7 527.1,577.2 527.6,576.7 528.1,576.2 528.6,575.7 529.1,575.2 529.6,574.7 530.1,574.2 530.6,573.7 531.1,573.2 531.6,572.7 532.1,572.2 532.6,571.7 533.1,571.2 533.6,570.7 534.1,570.2 534.6,569.6 535.1,569.1 535.6,568.6 536.1,568.1 536.6,567.6 537.1,567.0 537.6,566.5 538.1,566.0 538.6,565.5 539.1,564.9 539.6,564.4 540.1,563.9 540.6,563.3 541.1,562.8 541.6,562.3 542.1,561.7 542.6,561.2 543.1,560.6 543.6,560.1 544.1,559.6 544.6,559.0 545.1,558.5 545.6,557.9 546.1,557.4 546.6,556.8 547.1,556.3 547.6,555.7 548.1,555.2 548.6,554.6 549.1,554.1 549.6,553.5 550.1,552.9 550.6,552.4 551.1,551.8 551.6,551.2 552.1,550.7 552.6,550.1 553.1,549.5 553.6,549.0 554.1,548.4 554.6,549.0 555.1,549.5 555.6,550.1 556.1,550.7 556.6,551.2 557.1,551.8 557.6,552.3 558.1,552.8 558.6,553.4 559.1,553.9 559.6,554.4 560.1,555.0 560.6,555.5 561.1,556.0 561.6,556.5 562.1,557.0 562.6,557.5 563.1,558.0 563.6,558.5 564.1,558.9 564.6,559.4 565.1,559.9 565.6,560.4 566.1,560.8 566.6,561.3 567.1,561.7 567.6,562.2 568.1,562.6 568.6,563.0 569.1,563.4 569.6,563.9 570.1,564.3 570.6,564.7 571.1,565.1 571.6,565.5 572.1,565.9 572.6,566.3 573.1,566.6 573.6,567.0 574.1,567.4 574.6,567.8 575.1,568.1 575.6,568.5 576.1,568.9 576.6,569.2 577.1,569.6 577.6,569.9 578.1,570.3 578.6,570.6 579.1,570.9 579.6,571.3 580.1,571.6 580.6,571.9 581.1,572.3 581.6,572.6 582.1,572.9 582.6,573.2 583.1,573.6 583.6,573.9 584.1,574.2 584.6,574.5 585.1,574.8 585.6,575.2 586.1,575.5 586.6,575.8 587.1,576.1 587.6,576.4 588.1,576.7 588.6,577.1 589.1,577.4 589.6,577.7 590.1,578.0 590.6,578.3 591.1,578.7 591.6,579.0 592.1,579.3 592.6,579.6 593.1,580.0 593.6,580.3 594.1,580.6 594.6,581.0 595.1,581.3 595.6,581.6 596.1,582.0 596.6,582.3 597.1,582.7 597.6,583.0 598.1,583.4 598.6,583.7 599.1,584.1 599.6,584.4 600.1,584.8 600.6,585.2 601.1,585.5 601.6,585.9 602.1,586.3 602.6,586.6 603.1,587.0 603.6,587.4 604.1,587.8 604.6,588.2 605.1,588.6 605.6,589.0 606.1,589.4 606.6,589.8 607.1,590.2 607.6,590.6 608.1,591.0 608.6,591.4 609.1,591.8 609.6,592.2 610.1,592.7 610.6,593.1 611.1,593.5 611.6,593.9 612.1,594.4 612.6,594.8 613.1,595.3 613.6,595.7 614.1,596.2 614.6,596.6 615.1,597.1 615.6,597.5 616.1,598.0 616.6,598.5 617.1,599.0 617.6,599.4 618.1,599.9 618.6,600.4 619.1,600.9 619.6,601.4 620.1,601.9 620.6,602.4 621.1,602.9 621.6,603.4 622.1,603.9 622.6,604.4 623.1,604.9 623.6,605.4 624.1,605.9 624.6,606.4 625.1,607.0 625.6,607.5 626.1,608.0 626.6,608.6 627.1,609.1 627.6,609.7 628.1,610.2 628.6,610.7 629.1,611.3 629.6,611.8 630.1,612.4 630.6,613.0 631.1,613.5 631.6,614.1 632.1,614.7 632.6,615.2 633.1,615.8 633.6,616.4 634.1,617.0 634.6,617.6 635.1,618.1 635.6,618.7 636.1,619.3 636.6,619.9 637.1,620.5 637.6,621.1 638.1,621.7 638.6,622.3 639.1,622.9 639.6,623.5 640.1,624.1 640.6,624.8 641.1,625.4 641.6,626.0 642.1,626.6 642.6,627.2 643.1,627.9 643.6,628.5 644.1,629.1 644.6,629.8 645.1,630.4 645.6,631.0 646.1,631.7 646.6,632.3 647.1,633.0 647.6,633.6 648.1,634.3 648.6,634.9 649.1,635.6 649.6,636.2 650.1,636.9 650.6,637.6 651.1,638.2 651.6,638.9 652.1,639.5 652.6,640.2 653.1,640.9 653.6,641.5 654.1,642.2 654.6,642.9 655.1,643.6 655.6,644.2 656.1,644.9 656.6,645.6 657.1,646.3 657.6,647.0 658.1,647.7 658.6,648.4 659.1,649.0 659.6,649.7 660.1,650.4 660.6,651.1 661.1,651.8 661.6,652.5 662.1,653.2 662.6,653.9 663.1,654.6 663.6,655.3 664.1,656.0 664.6,656.7 665.1,657.4 665.6,658.1 666.1,658.8 666.6,659.5 667.1,660.3 667.6,661.0 668.1,661.7 668.6,662.4 669.1,663.1 669.6,663.8 670.1,664.5 670.6,665.3 671.1,666.0 671.6,666.7 672.1,667.4 672.6,668.1 673.1,668.9 673.6,669.6 674.1,670.3 674.6,671.0 675.1,671.8 675.6,672.5 676.1,673.2 676.6,673.9 677.1,674.7 677.6,675.4 678.1,676.1 678.6,676.9 679.1,677.6 679.6,678.3 680.1,679.0 680.6,679.8 681.1,680.5 681.6,681.2 682.1,682.0 682.6,682.7 683.1,683.4 683.6,684.2 684.1,684.9 684.6,685.7 685.1,686.4 685.6,687.1 686.1,687.9 686.6,688.6 687.1,689.3 687.6,690.1 688.1,690.8 688.6,691.6 689.1,692.3 689.6,693.0 690.1,693.8 690.6,694.5 691.1,695.2 691.6,696.0 692.1,696.7 692.6,697.5 693.1,698.2 693.6,698.9 694.1,699.7 694.6,700.4 695.1,701.2 695.6,701.9 696.1,702.6"/>
<polyline points="103.1,310.6 103.6,311.3 104.1,312.1 104.6,312.8 105.1,313.6 105.6,314.3 106.1,315.1 106.6,315.9 107.1,316.6 107.6,317.4 108.1,318.1 108.6,318.9 109.1,319.7 109.6,320.4 110.1,321.2 110.6,322.0 111.1,322.7 111.6,323.5 112.1,324.3 112.6,325.0 113.1,325.8 113.6,326.6 114.1,327.3 114.6,328.1 115.1,328.9 115.6,329.7 116.1,330.4 116.6,331.2 117.1,332.0 117.6,332.8 118.1,333.6 118.6,334.3 119.1,335.1 119.6,335.9 120.1,336.7 120.6,337.5 121.1,338.2 121.6,339.0 122.1,339.8 122.6,340.6 123.1,341.4 123.6,342.2 124.1,343.0 124.6,343.8 125.1,344.5 125.6,345.3 126.1,346.1 126.6,346.9 127.1,347.7 127.6,348.5 128.1,349.3 128.6,350.1 129.1,350.9 129.6,351.7 130.1,352.5 130.6,353.3 131.1,354.1 131.6,354.9 132.1,355.7 132.6,356.5 133.1,357.3 133.6,358.1 134.1,358.9 134.6,359.7 135.1,360.5 135.6,361.3 136.1,362.1 136.6,362.9 137.1,363.7 137.6,364.5 138.1,365.3 138.6,366.1 139.1,366.9 139.6,367.7 140.1,368.5 140.6,369.3 141.1,370.1 141.6,370.9 142.1,371.7 142.6,372.5 143.1,373.3 143.6,374.1 144.1,374.9 144.6,375.8 145.1,376.6 145.6,377.4 146.1,378.2 146.6,379.0 147.1,379.8 147.6,380.6 148.1,381.4 148.6,382.2 149.1,383.0 149.6,383.8 150.1,384.6 150.6,385.4 151.1,386.3 151.6,387.1 152.1,387.9 152.6,388.7 153.1,389.5 153.6,390.3 154.1,391.1 154.6,391.9 155.1,392.7 155.6,393.5 156.1,394.3 156.6,395.2 157.1,396.0 157.6,396.8 158.1,397.6 158.6,398.4 159.1,399.2 159.6,400.0 160.1,400.8 160.6,401.6 161.1,402.4 161.6,403.2 162.1,404.0 162.6,404.8 163.1,405.7 163.6,406.5 164.1,407.3 164.6,408.1 165.1,408.9 165.6,409.7 166.1,410.5 166.6,411.3 167.1,412.1 167.6,412.9 168.1,413.7 168.6,414.5 169.1,415.3 169.6,416.1 170.1,416.9 170.6,417.7 171.1,418.5 171.6,419.3 172.1,420.1 172.6,420.9 173.1,421.7 173.6,422.5 174.1,423.3 174.6,424.1 175.1,424.9 175.6,425.7 176.1,426.5 176.6,427.3 177.1,428.1 177.6,428.9 178.1,429.7 178.6,430.5 179.1,431.3 179.6,432.1 180.1,432.9 180.6,433.7 181.1,434.4 181.6,435.2 182.1,436.0 182.6,436.8 183.1,437.6 183.6,438.4 184.1,439.2 184.6,440.0 185.1,440.7 185.6,441.5 186.1,442.3 186.6,443.1 187.1,443.9 187.6,444.7 188.1,445.4 188.6,446.2 189.1,447.0 189.6,447.8 190.1,448.6 190.6,449.3 191.1,450.1 191.6,450.9 192.1,451.7 192.6,452.4 193.1,453.2 193.6,454.0 194.1,454.7 194.6,455.5 195.1,456.3 195.6,457.0 196.1,457.8 196.6,458.6 197.1,459.3 197.6,460.1 198.1,460.9 198.6,461.6 199.1,462.4 199.6,463.1 200.1,463.9 200.6,464.7 201.1,465.4 201.6,466.2 202.1,466.9 202.6,467.7 203.1,468.4 203.6,469.2 204.1,469.9 204.6,470.7 205.1,471.4 205.6,472.2 206.1,472.9 206.6,473.7 207.1,474.4 207.6,475.1 208.1,475.9 208.6,476.6 209.1,477.4 209.6,478.1 210.1,478.8 210.6,479.6 211.1,480.3 211.6,481.0 212.1,481.8 212.6,482.5 213.1,483.2 213.6,483.9 214.1,484.7 214.6,485.4 215.1,486.1 215.6,486.8 216.1,487.5 216.6,488.3 217.1,489.0 217.6,489.7 218.1,490.4 218.6,491.1 219.1,491.8 219.6,492.5 220.1,493.2 220.6,494.0 221.1,494.7 221.6,495.4 222.1,496.1 222.6,496.8 223.1,497.5 223.6,498.2 224.1,498.9 224.6,499.6 225.1,500.2 225.6,500.9 226.1,501.6 226.6,502.3 227.1,503.0 227.6,503.7 228.1,504.4 228.6,505.1 229.1,505.7 229.6,506.4 230.1,507.1 230.6,507.8 231.1,508.5 231.6,509.1 232.1,509.8 232.6,510.5 233.1,511.1 233.6,511.8 234.1,512.5 234.6,513.1 235.1,513.8 235.6,514.5 236.1,515.1 236.6,515.8 237.1,516.4 237.6,517.1 238.1,517.7 238.6,518.4 239.1,519.0 239.6,519.7 240.1,520.3 240.6,521.0 241.1,521.6 241.6,522.3 242.1,522.9 242.6,523.6 243.1,524.2 243.6,524.8 244.1,525.5 244.6,526.1 245.1,526.7 245.6,527.4 246.1,528.0 246.6,528.6 247.1,529.2 247.6,529.9 248.1,530.5 248.6,531.1 249.1,531.7 249.6,532.3 250.1,532.9 250.6,533.6 251.1,534.2 251.6,534.8 252.1,535.4 252.6,536.0 253.1,536.6 253.6,537.2 254.1,537.8 254.6,538.4 255.1,539.0 255.6,539.6 256.1,540.2 256.6,540.8 257.1,541.4 257.6,542.0 258.1,542.6 258.6,543.2 259.1,543.8 259.6,544.3 260.1,544.9 260.6,545.5 261.1,546.1 261.6,546.7 262.1,547.2 262.6,547.8 263.1,548.4 263.6,547.8 264.1,547.2 264.6,546.7 265.1,546.1 265.6,545.5 266.1,544.9 266.6,544.3 267.1,543.7 267.6,543.1 268.1,542.5 268.6,541.9 269.1,541.3 269.6,540.6 270.1,540.0 270.6,539.4 271.1,538.8 271.6,538.2 272.1,537.5 272.6,536.9 273.1,536.3 273.6,535.6 274.1,535.0 274.6,534.4 275.1,533.7 275.6,533.1 276.1,532.5 276.6,531.8 277.1,531.2 277.6,530.5 278.1,529.9 278.6,529.2 279.1,528.6 279.6,527.9 280.1,527.3 280.6,526.6 281.1,526.0 281.6,525.3 282.1,524.7 282.6,524.0 283.1,523.4 283.6,522.7 284.1,522.0 284.6,521.4 285.1,520.7 285.6,520.1 286.1,519.4 286.6,518.8 287.1,518.1 287.6,517.4 288.1,516.8 288.6,516.1 289.1,515.5 289.6,514.8 290.1,514.1 290.6,513.5 291.1,512.8 291.6,512.2 292.1,511.5 292.6,510.8 293.1,510.2 293.6,509.5 294.1,508.9 294.6,508.2 295.1,507.5 295.6,506.9 296.1,506.2 296.6,505.6 297.1,504.9 297.6,504.2 298.1,503.6 298.6,502.9 299.1,502.3 299.6,501.6 300.1,501.0 300.6,500.3 301.1,499.7 301.6,499.0 302.1,498.4 302.6,497.7 303.1,497.1 303.6,496.4 304.1,495.8 304.6,495.1 305.1,494.5 305.6,493.8 306.1,493.2 306.6,492.5 307.1,491.9 307.6,491.2 308.1,490.6 308.6,489.9 309.1,489.3 309.6,488.7 310.1,488.0 310.6,487.4 311.1,486.7 311.6,486.1 312.1,485.5 312.6,484.8 313.1,484.2 313.6,483.6 314.1,482.9 314.6,482.3 315.1,481.7 315.6,481.0 316.1,480.4 316.6,479.8 317.1,479.1 317.6,478.5 318.1,477.9 318.6,477.3 319.1,476.6 319.6,476.0 320.1,475.4 320.6,474.8 321.1,474.2 321.6,473.6 322.1,472.9 322.6,472.3 323.1,471.7 323.6,471.1 324.1,470.5 324.6,469.9 325.1,469.3 325.6,468.7 326.1,468.1 326.6,467.5 327.1,466.9 327.6,466.3 328.1,465.6 328.6,465.1 329.1,464.5 329.6,463.9 330.1,463.3 330.6,462.7 331.1,462.1 331.6,461.5 332.1,460.9 332.6,460.3 333.1,459.7 333.6,459.1 334.1,458.5 334.6,458.0 335.1,457.4 335.6,456.8 336.1,456.2 336.6,455.6 337.1,455.1 337.6,454.5 338.1,453.9 338.6,453.4 339.1,452.8 339.6,452.2 340.1,451.6 340.6,451.1 341.1,450.5 341.6,450.0 342.1,449.4 342.6,448.8 343.1,448.3 343.6,447.7 344.1,447.2 344.6,446.6 345.1,446.1 345.6,445.5 346.1,445.0 346.6,444.4 347.1,443.9 347.6,443.3 348.1,442.8 348.6,442.2 349.1,441.7 349.6,441.2 350.1,440.6 350.6,440.1 351.1,439.6 351.6,439.0 352.1,438.5 352.6,438.0 353.1,437.4 353.6,436.9 354.1,436.4 354.6,435.9 355.1,435.3 355.6,434.8 356.1,434.3 356.6,433.8 357.1,433.3 357.6,432.8 358.1,432.3 358.6,431.8 359.1,431.2 359.6,430.7 360.1,430.2 360.6,429.7 361.1,429.2 361.6,428.7 362.1,428.2 362.6,427.7 363.1,427.3 363.6,426.8 364.1,426.3 364.6,425.8 365.1,425.3 365.6,424.8 366.1,424.3 366.6,423.9 367.1,423.4 367.6,422.9 368.1,422.4 368.6,421.9 369.1,421.5 369.6,421.0 370.1,420.5 370.6,420.1 371.1,419.6 371.6,419.1 372.1,418.7 372.6,418.2 373.1,417.8 373.6,417.3 374.1,416.9 374.6,416.4 375.1,416.0 375.6,415.5 376.1,415.1 376.6,414.6 377.1,414.2 377.6,413.7 378.1,413.3 378.6,412.9 379.1,412.4 379.6,412.0 380.1,411.6 380.6,411.1 381.1,410.7 381.6,410.3 382.1,409.9 382.6,409.4 383.1,409.0 383.6,408.6 384.1,408.2 384.6,407.8 385.1,407.3 385.6,406.9 386.1,406.5 386.6,406.1 387.1,405.7 387.6,405.3 388.1,404.9 388.6,404.5 389.1,404.1 389.6,403.7 390.1,403.3 390.6,402.9 391.1,402.6 391.6,402.2 392.1,401.8 392.6,401.4 393.1,401.0 393.6,400.6 394.1,400.3 394.6,399.9 395.1,399.5 395.6,399.1 396.1,398.8 396.6,398.4 397.1,398.0 397.6,397.7 398.1,397.3 398.6,397.0 399.1,396.6 399.6,396.2 400.1,395.9 400.6,395.5 401.1,395.2 401.6,394.8 402.1,394.5 402.6,394.2 403.1,393.8 403.6,393.5 404.1,393.1 404.6,392.8 405.1,392.5 405.6,392.1 406.1,391.8 406.6,391.5 407.1,391.2 407.6,390.8 408.1,390.5 408.6,390.2 409.1,390.5 409.6,390.8 410.1,391.2 410.6,391.5 411.1,391.8 411.6,392.1 412.1,392.5 412.6,392.8 413.1,393.1 413.6,393.5 414.1,393.8 414.6,394.2 415.1,394.5 415.6,394.8 416.1,395.2 416.6,395.5 417.1,395.9 417.6,396.2 418.1,396.6 418.6,397.0 419.1,397.3 419.6,397.7 420.1,398.0 420.6,398.4 421.1,398.8 421.6,399.1 422.1,399.5 422.6,399.9 423.1,400.3 423.6,400.6 424.1,401.0 424.6,401.4 425.1,401.8 425.6,402.2 426.1,402.6 426.6,402.9 427.1,403.3 427.6,403.7 428.1,404.1 428.6,404.5 429.1,404.9 429.6,405.3 430.1,405.7 430.6,406.1 431.1,406.5 431.6,406.9 432.1,407.3 432.6,407.8 433.1,408.2 433.6,408.6 434.1,409.0 434.6,409.4 435.1,409.9 435.6,410.3 436.1,410.7 436.6,411.1 437.1,411.6 437.6,412.0 438.1,412.4 438.6,412.9 439.1,413.3 439.6,413.7 440.1,414.2 440.6,414.6 441.1,415.1 441.6,415.5 442.1,416.0 442.6,416.4 443.1,416.9 443.6,417.3 444.1,417.8 444.6,418.2 445.1,418.7 445.6,419.1 446.1,419.6 446.6,420.1 447.1,420.5 447.6,421.0 448.1,421.5 448.6,421.9 449.1,422.4 449.6,422.9 450.1,423.4 450.6,423.9 451.1,424.3 451.6,424.8 452.1,425.3 452.6,425.8 453.1,426.3 453.6,426.8 454.1,427.3 454.6,427.7 455.1,428.2 455.6,428.7 456.1,429.2 456.6,429.7 457.1,430.2 457.6,430.7 458.1,431.2 458.6,431.8 459.1,432.3 459.6,432.8 460.1,433.3 460.6,433.8 461.1,434.3 461.6,434.8 462.1,435.3 462.6,435.9 463.1,436.4 463.6,436.9 464.1,437.4 464.6,438.0 465.1,438.5 465.6,439.0 466.1,439.6 466.6,440.1 467.1,440.6 467.6,441.2 468.1,441.7 468.6,442.2 469.1,442.8 469.6,443.3 470.1,443.9 470.6,444.4 471.1,445.0 471.6,445.5 472.1,446.1 472.6,446.6 473.1,447.2 473.6,447.7 474.1,448.3 474.6,448.8 475.1,449.4 475.6,450.0 476.1,450.5 476.6,451.1 477.1,451.6 477.6,452.2 478.1,452.8 478.6,453.4 479.1,453.9 479.6,454.5 480.1,455.1 480.6,455.6 481.1,456.2 481.6,456.8 482.1,457.4 482.6,458.0 483.1,458.5 483.6,459.1 484.1,459.7 484.6,460.3 485.1,460.9 485.6,461.5 486.1,462.1 486.6,462.7 487.1,463.3 487.6,463.9 488.1,464.5 488.6,465.1 489.1,465.6 489.6,466.3 490.1,466.9 490.6,467.5 491.1,468.1 491.6,468.7 492.1,469.3 492.6,469.9 493.1,470.5 493.6,471.1 494.1,471.7 494.6,472.3 495.1,472.9 495.6,473.6 496.1,474.2 496.6,474.8 497.1,475.4 497.6,476.0 498.1,476.6 498.6,477.3 499.1,477.9 499.6,478.5 500.1,479.1 500.6,479.8 501.1,480.4 501.6,481.0 502.1,481.7 502.6,482.3 503.1,482.9 503.6,483.6 504.1,484.2 504.6,484.8 505.1,485.5 505.6,486.1 506.1,486.7 506.6,487.4 507.1,488.0 507.6,488.7 508.1,489.3 508.6,489.9 509.1,490.6 509.6,491.2 510.1,491.9 510.6,492.5 511.1,493.2 511.6,493.8 512.1,494.5 512.6,495.1 513.1,495.8 513.6,496.4 514.1,497.1 514.6,497.7 515.1,498.4 515.6,499.0 516.1,499.7 516.6,500.3 517.1,501.0 517.6,501.6 518.1,502.3 518.6,502.9 519.1,503.6 519.6,504.2 520.1,504.9 520.6,505.6 521.1,506.2 521.6,506.9 522.1,507.5 522.6,508.2 523.1,508.9 523.6,509.5 524.1,510.2 524.6,510.8 525.1,511.5 525.6,512.2 526.1,512.8 526.6,513.5 527.1,514.1 527.6,514.8 528.1,515.5 528.6,516.1 529.1,516.8 529.6,517.4 530.1,518.1 530.6,518.8 531.1,519.4 531.6,520.1 532.1,520.7 532.6,521.4 533.1,522.0 533.6,522.7 534.1,523.4 534.6,524.0 535.1,524.7 535.6,525.3 536.1,526.0 536.6,526.6 537.1,527.3 537.6,527.9 538.1,528.6 538.6,529.2 539.1,529.9 539.6,530.5 540.1,531.2 540.6,531.8 541.1,532.5 541.6,533.1 542.1,533.7 542.6,534.4 543.1,535.0 543.6,535.6 544.1,536.3 544.6,536.9 545.1,537.5 545.6,538.2 546.1,538.8 546.6,539.4 547.1,540.0 547.6,540.6 548.1,541.3 548.6,541.9 549.1,542.5 549.6,543.1 550.1,543.7 550.6,544.3 551.1,544.9 551.6,545.5 552.1,546.1 552.6,546.7 553.1,547.2 553.6,547.8 554.1,548.4 554.6,547.8 555.1,547.2 555.6,546.7 556.1,546.1 556.6,545.5 557.1,544.9 557.6,544.3 558.1,543.8 558.6,543.2 559.1,542.6 559.6,542.0 560.1,541.4 560.6,540.8 561.1,540.2 561.6,539.6 562.1,539.0 562.6,538.4 563.1,537.8 563.6,537.2 564.1,536.6 564.6,536.0 565.1,535.4 565.6,534.8 566.1,534.2 566.6,533.6 567.1,532.9 567.6,532.3 568.1,531.7 568.6,531.1 569.1,530.5 569.6,529.9 570.1,529.2 570.6,528.6 571.1,528.0 571.6,527.4 572.1,526.7 572.6,526.1 573.1,525.5 573.6,524.8 574.1,524.2 574.6,523.6 575.1,522.9 575.6,522.3 576.1,521.6 576.6,521.0 577.1,520.3 577.6,519.7 578.1,519.0 578.6,518.4 579.1,517.7 579.6,517.1 580.1,516.4 580.6,515.8 581.1,515.1 581.6,514.5 582.1,513.8 582.6,513.1 583.1,512.5 583.6,511.8 584.1,511.1 584.6,510.5 585.1,509.8 585.6,509.1 586.1,508.5 586.6,507.8 587.1,507.1 587.6,506.4 588.1,505.7 588.6,505.1 589.1,504.4 589.6,503.7 590.1,503.0 590.6,502.3 591.1,501.6 591.6,500.9 592.1,500.2 592.6,499.6 593.1,498.9 593.6,498.2 594.1,497.5 594.6,496.8 595.1,496.1 595.6,495.4 596.1,494.7 596.6,494.0 597.1,493.2 597.6,492.5 598.1,491.8 598.6,491.1 599.1,490.4 599.6,489.7 600.1,489.0 600.6,488.3 601.1,487.5 601.6,486.8 602.1,486.1 602.6,485.4 603.1,484.7 603.6,483.9 604.1,483.2 604.6,482.5 605.1,481.8 605.6,481.0 606.1,480.3 606.6,479.6 607.1,478.8 607.6,478.1 608.1,477.4 608.6,476.6 609.1,475.9 609.6,475.1 610.1,474.4 610.6,473.7 611.1,472.9 611.6,472.2 612.1,471.4 612.6,470.7 613.1,469.9 613.6,469.2 614.1,468.4 614.6,467.7 615.1,466.9 615.6,466.2 616.1,465.4 616.6,464.7 617.1,463.9 617.6,463.1 618.1,462.4 618.6,461.6 619.1,460.9 619.6,460.1 620.1,459.3 620.6,458.6 621.1,457.8 621.6,457.0 622.1,456.3 622.6,455.5 623.1,454.7 623.6,454.0 624.1,453.2 624.6,452.4 625.1,451.7 625.6,450.9 626.1,450.1 626.6,449.3 627.1,448.6 627.6,447.8 628.1,447.0 628.6,446.2 629.1,445.4 629.6,444.7 630.1,443.9 630.6,443.1 631.1,442.3 631.6,441.5 632.1,440.7 632.6,440.0 633.1,439.2 633.6,438.4 634.1,437.6 634.6,436.8 635.1,436.0 635.6,435.2 636.1,434.4 636.6,433.7 637.1,432.9 637.6,432.1 638.1,431.3 638.6,430.5 639.1,429.7 639.6,428.9 640.1,428.1 640.6,427.3 641.1,426.5 641.6,425.7 642.1,424.9 642.6,424.1 643.1,423.3 643.6,422.5 644.1,421.7 644.6,420.9 645.1,420.1 645.6,419.3 646.1,418.5 646.6,417.7 647.1,416.9 647.6,416.1 648.1,415.3 648.6,414.5 649.1,413.7 649.6,412.9 650.1,412.1 650.6,411.3 651.1,410.5 651.6,409.7 652.1,408.9 652.6,408.1 653.1,407.3 653.6,406.5 654.1,405.7 654.6,404.8 655.1,404.0 655.6,403.2 656.1,402.4 656.6,401.6 657.1,400.8 657.6,400.0 658.1,399.2 658.6,398.4 659.1,397.6 659.6,396.8 660.1,396.0 660.6,395.2 661.1,394.3 661.6,393.5 662.1,392.7 662.6,391.9 663.1,391.1 663.6,390.3 664.1,389.5 664.6,388.7 665.1,387.9 665.6,387.1 666.1,386.3 666.6,385.4 667.1,384.6 667.6,383.8 668.1,383.0 668.6,382.2 669.1,381.4 669.6,380.6 670.1,379.8 670.6,379.0 671.1,378.2 671.6,377.4 672.1,376.6 672.6,375.8 673.1,374.9 673.6,374.1 674.1,373.3 674.6,372.5 675.1,371.7 675.6,370.9 676.1,370.1 676.6,369.3 677.1,368.5 677.6,367.7 678.1,366.9 678.6,366.1 679.1,365.3 679.6,364.5 680.1,363.7 680.6,362.9 681.1,362.1 681.6,361.3 682.1,360.5 682.6,359.7 683.1,358.9 683.6,358.1 684.1,357.3 684.6,356.5 685.1,355.7 685.6,354.9 686.1,354.1 686.6,353.3 687.1,352.5 687.6,351.7 688.1,350.9 688.6,350.1 689.1,349.3 689.6,348.5 690.1,347.7 690.6,346.9 691.1,346.1 691.6,345.3 692.1,344.5 692.6,343.8 693.1,343.0 693.6,342.2 694.1,341.4 694.6,340.6 695.1,339.8 695.6,339.0 696.1,338.2"/>
<polyline points="169.1,310.1 169.6,310.7 170.1,311.2 170.6,311.8 171.1,312.4 171.6,313.0 172.1,313.6 172.6,314.2 173.1,314.8 173.6,315.4 174.1,316.0 174.6,316.5 175.1,317.1 175.6,317.7 176.1,318.3 176.6,318.9 177.1,319.4 177.6,320.0 178.1,320.6 178.6,321.2 179.1,321.7 179.6,322.3 180.1,322.9 180.6,323.4 181.1,324.0 181.6,324.5 182.1,325.1 182.6,325.7 183.1,326.2 183.6,326.8 184.1,327.3 184.6,327.9 185.1,328.4 185.6,329.0 186.1,329.5 186.6,330.1 187.1,330.6 187.6,331.1 188.1,331.7 188.6,332.2 189.1,332.7 189.6,333.3 190.1,333.8 190.6,334.3 191.1,334.8 191.6,335.3 192.1,335.9 192.6,336.4 193.1,336.9 193.6,337.4 194.1,337.9 194.6,338.4 195.1,338.9 195.6,339.4 196.1,339.9 196.6,340.4 197.1,340.9 197.6,341.4 198.1,341.8 198.6,342.3 199.1,342.8 199.6,343.3 200.1,343.8 200.6,344.2 201.1,344.7 201.6,345.1 202.1,345.6 202.6,346.1 203.1,346.5 203.6,347.0 204.1,347.4 204.6,347.9 205.1,348.3 205.6,348.7 206.1,349.2 206.6,349.6 207.1,350.0 207.6,350.4 208.1,350.9 208.6,351.3 209.1,351.7 209.6,352.1 210.1,352.5 210.6,352.9 211.1,353.3 211.6,353.7 212.1,354.1 212.6,354.5 213.1,354.8 213.6,355.2 214.1,355.6 214.6,356.0 215.1,356.3 215.6,356.7 216.1,357.1 216.6,357.4 217.1,357.8 217.6,358.1 218.1,358.5 218.6,358.8 219.1,359.1 219.6,359.5 220.1,359.8 220.6,360.1 221.1,360.4 221.6,360.7 222.1,361.0 222.6,361.3 223.1,361.6 223.6,361.9 224.1,362.2 224.6,362.5 225.1,362.8 225.6,363.1 226.1,363.4 226.6,363.6 227.1,363.9 227.6,364.2 228.1,364.4 228.6,364.7 229.1,364.9 229.6,365.2 230.1,365.4 230.6,365.7 231.1,365.9 231.6,366.1 232.1,366.3 232.6,366.6 233.1,366.8 233.6,367.0 234.1,367.2 234.6,367.4 235.1,367.6 235.6,367.8 236.1,368.0 236.6,368.2 237.1,368.4 237.6,368.5 238.1,368.7 238.6,368.9 239.1,369.0 239.6,369.2 240.1,369.4 240.6,369.5 241.1,369.7 241.6,369.8 242.1,370.0 242.6,370.1 243.1,370.2 243.6,370.4 244.1,370.5 244.6,370.6 245.1,370.7 245.6,370.8 246.1,370.9 246.6,371.0 247.1,371.2 247.6,371.2 248.1,371.3 248.6,371.4 249.1,371.5 249.6,371.6 250.1,371.7 250.6,371.8 251.1,371.8 251.6,371.9 252.1,372.0 252.6,372.0 253.1,372.1 253.6,372.2 254.1,372.2 254.6,372.3 255.1,372.3 255.6,372.4 256.1,372.4 256.6,372.4 257.1,372.5 257.6,372.5 258.1,372.5 258.6,372.5 259.1,372.6 259.6,372.6 260.1,372.6 260.6,372.6 261.1,372.6 261.6,372.6 262.1,372.7 262.6,372.7 263.1,372.7 263.6,372.7 264.1,372.7 264.6,372.6 265.1,372.6 265.6,372.6 266.1,372.6 266.6,372.6 267.1,372.6 267.6,372.6 268.1,372.5 268.6,372.5 269.1,372.5 269.6,372.5 270.1,372.4 270.6,372.4 271.1,372.4 271.6,372.3 272.1,372.3 272.6,372.3 273.1,372.2 273.6,372.2 274.1,372.1 274.6,372.1 275.1,372.0 275.6,372.0 276.1,371.9 276.6,371.9 277.1,371.8 277.6,371.8 278.1,371.7 278.6,371.7 279.1,371.6 279.6,371.6 280.1,371.5 280.6,371.4 281.1,371.4 281.6,371.3 282.1,371.3 282.6,371.2 283.1,371.1 283.6,371.1 284.1,371.0 284.6,370.9 285.1,370.9 285.6,370.8 286.1,370.7 286.6,370.7 287.1,370.6 287.6,370.5 288.1,370.5 288.6,370.4 289.1,370.3 289.6,370.2 290.1,370.2 290.6,370.1 291.1,370.0 291.6,370.0 292.1,369.9 292.6,369.8 293.1,369.7 293.6,369.7 294.1,369.6 294.6,369.5 295.1,369.5 295.6,369.4 296.1,369.3 296.6,369.2 297.1,369.2 297.6,369.1 298.1,369.0 298.6,369.0 299.1,368.9 299.6,368.8 300.1,368.8 300.6,368.7 301.1,368.6 301.6,368.5 302.1,368.5 302.6,368.4 303.1,368.3 303.6,368.3 304.1,368.2 304.6,368.2 305.1,368.1 305.6,368.0 306.1,368.0 306.6,367.9 307.1,367.8 307.6,367.8 308.1,367.7 308.6,367.7 309.1,367.6 309.6,367.6 310.1,367.5 310.6,367.4 311.1,367.4 311.6,367.3 312.1,367.3 312.6,367.2 313.1,367.2 313.6,367.1 314.1,367.1 314.6,367.0 315.1,367.0 315.6,366.9 316.1,366.9 316.6,366.9 317.1,366.8 317.6,366.8 318.1,366.7 318.6,366.7 319.1,366.7 319.6,366.6 320.1,366.6 320.6,366.6 321.1,366.5 321.6,366.5 322.1,366.5 322.6,366.5 323.1,366.4 323.6,366.4 324.1,366.4 324.6,366.4 325.1,366.4 325.6,366.3 326.1,366.3 326.6,366.3 327.1,366.3 327.6,366.3 328.1,366.3 328.6,366.3 329.1,366.3 329.6,366.2 330.1,366.2 330.6,366.2 331.1,366.2 331.6,366.2 332.1,366.2 332.6,366.3 333.1,366.3 333.6,366.3 334.1,366.3 334.6,366.3 335.1,366.3 335.6,366.3 336.1,366.3 336.6,366.4 337.1,366.4 337.6,366.4 338.1,366.4 338.6,366.4 339.1,366.5 339.6,366.5 340.1,366.5 340.6,366.6 341.1,366.6 341.6,366.6 342.1,366.7 342.6,366.7 343.1,366.8 343.6,366.8 344.1,366.9 344.6,366.9 345.1,367.0 345.6,367.0 346.1,367.1 346.6,367.1 347.1,367.2 347.6,367.2 348.1,367.3 348.6,367.4 349.1,367.4 349.6,367.5 350.1,367.6 350.6,367.6 351.1,367.7 351.6,367.8 352.1,367.9 352.6,367.9 353.1,368.0 353.6,368.1 354.1,368.2 354.6,368.3 355.1,368.4 355.6,368.5 356.1,368.6 356.6,368.6 357.1,368.7 357.6,368.8 358.1,368.9 358.6,369.1 359.1,369.2 359.6,369.3 360.1,369.4 360.6,369.5 361.1,369.6 361.6,369.7 362.1,369.8 362.6,370.0 363.1,370.1 363.6,370.2 364.1,370.3 364.6,370.5 365.1,370.6 365.6,370.7 366.1,370.9 366.6,371.0 367.1,371.1 367.6,371.3 368.1,371.4 368.6,371.6 369.1,371.7 369.6,371.9 370.1,372.0 370.6,372.2 371.1,372.3 371.6,372.5 372.1,372.7 372.6,372.8 373.1,373.0 373.6,373.2 374.1,373.3 374.6,373.5 375.1,373.7 375.6,373.8 376.1,374.0 376.6,374.2 377.1,374.4 377.6,374.6 378.1,374.8 378.6,374.9 379.1,375.1 379.6,375.3 380.1,375.5 380.6,375.7 381.1,375.9 381.6,376.1 382.1,376.3 382.6,376.5 383.1,376.7 383.6,377.0 384.1,377.2 384.6,377.4 385.1,377.6 385.6,377.8 386.1,378.0 386.6,378.3 387.1,378.5 387.6,378.7 388.1,378.9 388.6,379.2 389.1,379.4 389.6,379.6 390.1,379.9 390.6,380.1 391.1,380.4 391.6,380.6 392.1,380.9 392.6,381.1 393.1,381.4 393.6,381.6 394.1,381.9 394.6,382.1 395.1,382.4 395.6,382.6 396.1,382.9 396.6,383.2 397.1,383.4 397.6,383.7 398.1,384.0 398.6,384.3 399.1,384.5 399.6,384.8 400.1,385.1 400.6,385.4 401.1,385.7 401.6,386.0 402.1,386.2 402.6,386.5 403.1,386.8 403.6,387.1 404.1,387.4 404.6,387.7 405.1,388.0 405.6,388.3 406.1,388.6 406.6,388.9 407.1,389.3 407.6,389.6 408.1,389.9 408.6,390.2 409.1,389.9 409.6,389.6 410.1,389.3 410.6,388.9 411.1,388.6 411.6,388.3 412.1,388.0 412.6,387.7 413.1,387.4 413.6,387.1 414.1,386.8 414.6,386.5 415.1,386.2 415.6,386.0 416.1,385.7 416.6,385.4 417.1,385.1 417.6,384.8 418.1,384.5 418.6,384.3 419.1,384.0 419.6,383.7 420.1,383.4 420.6,383.2 421.1,382.9 421.6,382.6 422.1,382.4 422.6,382.1 423.1,381.9 423.6,381.6 424.1,381.4 424.6,381.1 425.1,380.9 425.6,380.6 426.1,380.4 426.6,380.1 427.1,379.9 427.6,379.6 428.1,379.4 428.6,379.2 429.1,378.9 429.6,378.7 430.1,378.5 430.6,378.3 431.1,378.0 431.6,377.8 432.1,377.6 432.6,377.4 433.1,377.2 433.6,377.0 434.1,376.7 434.6,376.5 435.1,376.3 435.6,376.1 436.1,375.9 436.6,375.7 437.1,375.5 437.6,375.3 438.1,375.1 438.6,374.9 439.1,374.8 439.6,374.6 440.1,374.4 440.6,374.2 441.1,374.0 441.6,373.8 442.1,373.7 442.6,373.5 443.1,373.3 443.6,373.2 444.1,373.0 444.6,372.8 445.1,372.7 445.6,372.5 446.1,372.3 446.6,372.2 447.1,372.0 447.6,371.9 448.1,371.7 448.6,371.6 449.1,371.4 449.6,371.3 450.1,371.1 450.6,371.0 451.1,370.9 451.6,370.7 452.1,370.6 452.6,370.5 453.1,370.3 453.6,370.2 454.1,370.1 454.6,370.0 455.1,369.8 455.6,369.7 456.1,369.6 456.6,369.5 457.1,369.4 457.6,369.3 458.1,369.2 458.6,369.1 459.1,368.9 459.6,368.8 460.1,368.7 460.6,368.6 461.1,368.6 461.6,368.5 462.1,368.4 462.6,368.3 463.1,368.2 463.6,368.1 464.1,368.0 464.6,367.9 465.1,367.9 465.6,367.8 466.1,367.7 466.6,367.6 467.1,367.6 467.6,367.5 468.1,367.4 468.6,367.4 469.1,367.3 469.6,367.2 470.1,367.2 470.6,367.1 471.1,367.1 471.6,367.0 472.1,367.0 472.6,366.9 473.1,366.9 473.6,366.8 474.1,366.8 474.6,366.7 475.1,366.7 475.6,366.6 476.1,366.6 476.6,366.6 477.1,366.5 477.6,366.5 478.1,366.5 478.6,366.4 479.1,366.4 479.6,366.4 480.1,366.4 480.6,366.4 481.1,366.3 481.6,366.3 482.1,366.3 482.6,366.3 483.1,366.3 483.6,366.3 484.1,366.3 484.6,366.3 485.1,366.2 485.6,366.2 486.1,366.2 486.6,366.2 487.1,366.2 487.6,366.2 488.1,366.3 488.6,366.3 489.1,366.3 489.6,366.3 490.1,366.3 490.6,366.3 491.1,366.3 491.6,366.3 492.1,366.4 492.6,366.4 493.1,366.4 493.6,366.4 494.1,366.4 494.6,366.5 495.1,366.5 495.6,366.5 496.1,366.5 496.6,366.6 497.1,366.6 497.6,366.6 498.1,366.7 498.6,366.7 499.1,366.7 499.6,366.8 500.1,366.8 500.6,366.9 501.1,366.9 501.6,366.9 502.1,367.0 502.6,367.0 503.1,367.1 503.6,367.1 504.1,367.2 504.6,367.2 505.1,367.3 505.6,367.3 506.1,367.4 506.6,367.4 507.1,367.5 507.6,367.6 508.1,367.6 508.6,367.7 509.1,367.7 509.6,367.8 510.1,367.8 510.6,367.9 511.1,368.0 511.6,368.0 512.1,368.1 512.6,368.2 513.1,368.2 513.6,368.3 514.1,368.3 514.6,368.4 515.1,368.5 515.6,368.5 516.1,368.6 516.6,368.7 517.1,368.8 517.6,368.8 518.1,368.9 518.6,369.0 519.1,369.0 519.6,369.1 520.1,369.2 520.6,369.2 521.1,369.3 521.6,369.4 522.1,369.5 522.6,369.5 523.1,369.6 523.6,369.7 524.1,369.7 524.6,369.8 525.1,369.9 525.6,370.0 526.1,370.0 526.6,370.1 527.1,370.2 527.6,370.2 528.1,370.3 528.6,370.4 529.1,370.5 529.6,370.5 530.1,370.6 530.6,370.7 531.1,370.7 531.6,370.8 532.1,370.9 532.6,370.9 533.1,371.0 533.6,371.1 534.1,371.1 534.6,371.2 535.1,371.3 535.6,371.3 536.1,371.4 536.6,371.4 537.1,371.5 537.6,371.6 538.1,371.6 538.6,371.7 539.1,371.7 539.6,371.8 540.1,371.8 540.6,371.9 541.1,371.9 541.6,372.0 542.1,372.0 542.6,372.1 543.1,372.1 543.6,372.2 544.1,372.2 544.6,372.3 545.1,372.3 545.6,372.3 546.1,372.4 546.6,372.4 547.1,372.4 547.6,372.5 548.1,372.5 548.6,372.5 549.1,372.5 549.6,372.6 550.1,372.6 550.6,372.6 551.1,372.6 551.6,372.6 552.1,372.6 552.6,372.6 553.1,372.7 553.6,372.7 554.1,372.7 554.6,372.7 555.1,372.7 555.6,372.6 556.1,372.6 556.6,372.6 557.1,372.6 557.6,372.6 558.1,372.6 558.6,372.5 559.1,372.5 559.6,372.5 560.1,372.5 560.6,372.4 561.1,372.4 561.6,372.4 562.1,372.3 562.6,372.3 563.1,372.2 563.6,372.2 564.1,372.1 564.6,372.0 565.1,372.0 565.6,371.9 566.1,371.8 566.6,371.8 567.1,371.7 567.6,371.6 568.1,371.5 568.6,371.4 569.1,371.3 569.6,371.2 570.1,371.2 570.6,371.0 571.1,370.9 571.6,370.8 572.1,370.7 572.6,370.6 573.1,370.5 573.6,370.4 574.1,370.2 574.6,370.1 575.1,370.0 575.6,369.8 576.1,369.7 576.6,369.5 577.1,369.4 577.6,369.2 578.1,369.0 578.6,368.9 579.1,368.7 579.6,368.5 580.1,368.4 580.6,368.2 581.1,368.0 581.6,367.8 582.1,367.6 582.6,367.4 583.1,367.2 583.6,367.0 584.1,366.8 584.6,366.6 585.1,366.3 585.6,366.1 586.1,365.9 586.6,365.7 587.1,365.4 587.6,365.2 588.1,364.9 588.6,364.7 589.1,364.4 589.6,364.2 590.1,363.9 590.6,363.6 591.1,363.4 591.6,363.1 592.1,362.8 592.6,362.5 593.1,362.2 593.6,361.9 594.1,361.6 594.6,361.3 595.1,361.0 595.6,360.7 596.1,360.4 596.6,360.1 597.1,359.8 597.6,359.5 598.1,359.1 598.6,358.8 599.1,358.5 599.6,358.1 600.1,357.8 600.6,357.4 601.1,357.1 601.6,356.7 602.1,356.3 602.6,356.0 603.1,355.6 603.6,355.2 604.1,354.8 604.6,354.5 605.1,354.1 605.6,353.7 606.1,353.3 606.6,352.9 607.1,352.5 607.6,352.1 608.1,351.7 608.6,351.3 609.1,350.9 609.6,350.4 610.1,350.0 610.6,349.6 611.1,349.2 611.6,348.7 612.1,348.3 612.6,347.9 613.1,347.4 613.6,347.0 614.1,346.5 614.6,346.1 615.1,345.6 615.6,345.1 616.1,344.7 616.6,344.2 617.1,343.8 617.6,343.3 618.1,342.8 618.6,342.3 619.1,341.8 619.6,341.4 620.1,340.9 620.6,340.4 621.1,339.9 621.6,339.4 622.1,338.9 622.6,338.4 623.1,337.9 623.6,337.4 624.1,336.9 624.6,336.4 625.1,335.9 625.6,335.3 626.1,334.8 626.6,334.3 627.1,333.8 627.6,333.3 628.1,332.7 628.6,332.2 629.1,331.7 629.6,331.1 630.1,330.6 630.6,330.1 631.1,329.5 631.6,329.0 632.1,328.4 632.6,327.9 633.1,327.3 633.6,326.8 634.1,326.2 634.6,325.7 635.1,325.1 635.6,324.5 636.1,324.0 636.6,323.4 637.1,322.9 637.6,322.3 638.1,321.7 638.6,321.2 639.1,320.6 639.6,320.0 640.1,319.4 640.6,318.9 641.1,318.3 641.6,317.7 642.1,317.1 642.6,316.5 643.1,316.0 643.6,315.4 644.1,314.8 644.6,314.2 645.1,313.6 645.6,313.0 646.1,312.4 646.6,311.8 647.1,311.2 647.6,310.7 648.1,310.1"/>
</g>
<path d="M92.6,406.37h6.2M694.2,406.37h-6.2" stroke="#1c1c1c" stroke-width="1.35"/>
<text class="tl" transform="translate(62.46,420.37) scale(0.948,1)" font-family='"Liberation Sans", sans-serif' font-size="36.8" fill="#1a1a1a">1</text>
<path d="M64.55,416.32H71.23V421.17H64.55ZM74.31,416.32H80.77V421.17H74.31Z" fill="#fff"/>
<path d="M92.6,519.10h6.2M694.2,519.10h-6.2" stroke="#1c1c1c" stroke-width="1.35"/>
<text class="tl" transform="translate(60.96,533.10) scale(0.948,1)" font-family='"Liberation Sans", sans-serif' font-size="36.8" fill="#1a1a1a">0</text>
<path d="M92.6,631.83h6.2M694.2,631.83h-6.2" stroke="#1c1c1c" stroke-width="1.35"/>
<text class="tl" transform="translate(50.84,645.83) scale(0.948,1)" font-family='"Liberation Sans", sans-serif' font-size="36.8" fill="#1a1a1a"><tspan dx="-1.6">-</tspan><tspan dx="1.6">1</tspan></text>
<path d="M64.55,641.78H71.23V646.63H64.55ZM74.31,641.78H80.77V646.63H74.31Z" fill="#fff"/>
<rect x="92.6" y="350.00" width="601.60" height="338.20" fill="none" stroke="#1c1c1c" stroke-width="1.35"/>
<text transform="translate(104.69,484.01) scale(1.0036,1)" font-family='"Liberation Sans", sans-serif' font-size="51.63" fill="#000">(b)</text>
<text transform="translate(49.00,567.37) rotate(-90) scale(1.1149,1)" font-family='"Liberation Serif", serif' font-size="63.30" font-style="italic" stroke="#fff" stroke-width="0.5" fill="#000">E</text>
<text transform="translate(59.46,517.80) rotate(-90) skewX(-6.45) scale(0.6370,1)" font-family='"Liberation Serif", serif' font-size="84.45" fill="#000">/</text>
<text transform="translate(48.95,494.05) rotate(-90) scale(1.0719,1)" font-family='"Liberation Serif", serif' font-size="66.87" font-style="italic" stroke="#fff" stroke-width="1.1" fill="#000">t</text>
<g clip-path="url(#cp2)" fill="none" stroke="#000" stroke-width="2.9" stroke-linejoin="round">
<polyline points="176.6,1065.8 177.1,1065.1 177.6,1064.3 178.1,1063.5 178.6,1062.8 179.1,1062.0 179.6,1061.2 180.1,1060.4 180.6,1059.7 181.1,1058.9 181.6,1058.1 182.1,1057.3 182.6,1056.6 183.1,1055.8 183.6,1055.0 184.1,1054.2 184.6,1053.4 185.1,1052.6 185.6,1051.9 186.1,1051.1 186.6,1050.3 187.1,1049.5 187.6,1048.7 188.1,1047.9 188.6,1047.1 189.1,1046.3 189.6,1045.6 190.1,1044.8 190.6,1044.0 191.1,1043.2 191.6,1042.4 192.1,1041.6 192.6,1040.8 193.1,1040.0 193.6,1039.2 194.1,1038.4 194.6,1037.6 195.1,1036.8 195.6,1036.0 196.1,1035.2 196.6,1034.4 197.1,1033.6 197.6,1032.8 198.1,1032.0 198.6,1031.2 199.1,1030.4 199.6,1029.6 200.1,1028.8 200.6,1028.0 201.1,1027.2 201.6,1026.4 202.1,1025.6 202.6,1024.8 203.1,1024.0 203.6,1023.2 204.1,1022.4 204.6,1021.6 205.1,1020.8 205.6,1020.0 206.1,1019.2 206.6,1018.4 207.1,1017.5 207.6,1016.7 208.1,1015.9 208.6,1015.1 209.1,1014.3 209.6,1013.5 210.1,1012.7 210.6,1011.9 211.1,1011.1 211.6,1010.3 212.1,1009.5 212.6,1008.7 213.1,1007.9 213.6,1007.1 214.1,1006.3 214.6,1005.5 215.1,1004.7 215.6,1003.9 216.1,1003.1 216.6,1002.2 217.1,1001.4 217.6,1000.6 218.1,999.8 218.6,999.0 219.1,998.2 219.6,997.4 220.1,996.6 220.6,995.8 221.1,995.0 221.6,994.2 222.1,993.5 222.6,992.7 223.1,991.9 223.6,991.1 224.1,990.3 224.6,989.5 225.1,988.7 225.6,987.9 226.1,987.1 226.6,986.3 227.1,985.6 227.6,984.8 228.1,984.0 228.6,983.2 229.1,982.4 229.6,981.6 230.1,980.9 230.6,980.1 231.1,979.3 231.6,978.6 232.1,977.8 232.6,977.0 233.1,976.3 233.6,975.5 234.1,974.7 234.6,974.0 235.1,973.2 235.6,972.5 236.1,971.7 236.6,971.0 237.1,970.3 237.6,969.5 238.1,968.8 238.6,968.1 239.1,967.3 239.6,966.6 240.1,965.9 240.6,965.2 241.1,964.5 241.6,963.8 242.1,963.1 242.6,962.4 243.1,961.7 243.6,961.0 244.1,960.4 244.6,959.7 245.1,959.0 245.6,958.4 246.1,957.8 246.6,957.1 247.1,956.5 247.6,955.9 248.1,955.3 248.6,954.7 249.1,954.1 249.6,953.5 250.1,953.0 250.6,952.4 251.1,951.9 251.6,951.4 252.1,950.9 252.6,950.4 253.1,949.9 253.6,949.4 254.1,949.0 254.6,948.6 255.1,948.2 255.6,947.8 256.1,947.5 256.6,947.1 257.1,946.8 257.6,946.5 258.1,946.3 258.6,946.0 259.1,945.8 259.6,945.6 260.1,945.5 260.6,945.3 261.1,945.2 261.6,945.1 262.1,945.1 262.6,945.0 263.1,945.0 263.6,945.0 264.1,945.1 264.6,945.1 265.1,945.2 265.6,945.3 266.1,945.4 266.6,945.5 267.1,945.7 267.6,945.8 268.1,946.0 268.6,946.2 269.1,946.4 269.6,946.6 270.1,946.9 270.6,947.1 271.1,947.4 271.6,947.6 272.1,947.9 272.6,948.2 273.1,948.5 273.6,948.7 274.1,949.0 274.6,949.3 275.1,949.7 275.6,950.0 276.1,950.3 276.6,950.6 277.1,950.9 277.6,951.3 278.1,951.6 278.6,951.9 279.1,952.3 279.6,952.6 280.1,953.0 280.6,953.3 281.1,953.7 281.6,954.0 282.1,954.4 282.6,954.7 283.1,955.1 283.6,955.4 284.1,955.8 284.6,956.2 285.1,956.5 285.6,956.9 286.1,957.3 286.6,957.6 287.1,958.0 287.6,958.3 288.1,958.7 288.6,959.1 289.1,959.4 289.6,959.8 290.1,960.2 290.6,960.5 291.1,960.9 291.6,961.3 292.1,961.6 292.6,962.0 293.1,962.4 293.6,962.7 294.1,963.1 294.6,963.5 295.1,963.8 295.6,964.2 296.1,964.5 296.6,964.9 297.1,965.3 297.6,965.6 298.1,966.0 298.6,966.3 299.1,966.7 299.6,967.0 300.1,967.4 300.6,967.8 301.1,968.1 301.6,968.5 302.1,968.8 302.6,969.2 303.1,969.5 303.6,969.9 304.1,970.2 304.6,970.5 305.1,970.9 305.6,971.2 306.1,971.6 306.6,971.9 307.1,972.2 307.6,972.6 308.1,972.9 308.6,973.2 309.1,973.6 309.6,973.9 310.1,974.2 310.6,974.6 311.1,974.9 311.6,975.2 312.1,975.5 312.6,975.9 313.1,976.2 313.6,976.5 314.1,976.8 314.6,977.1 315.1,977.4 315.6,977.7 316.1,978.1 316.6,978.4 317.1,978.7 317.6,979.0 318.1,979.3 318.6,979.6 319.1,979.9 319.6,980.2 320.1,980.5 320.6,980.8 321.1,981.0 321.6,981.3 322.1,981.6 322.6,981.9 323.1,982.2 323.6,982.5 324.1,982.8 324.6,983.0 325.1,983.3 325.6,983.6 326.1,983.9 326.6,984.1 327.1,984.4 327.6,984.7 328.1,984.9 328.6,985.2 329.1,985.5 329.6,985.7 330.1,986.0 330.6,986.2 331.1,986.5 331.6,986.7 332.1,987.0 332.6,987.2 333.1,987.5 333.6,987.7 334.1,988.0 334.6,988.2 335.1,988.4 335.6,988.7 336.1,988.9 336.6,989.1 337.1,989.4 337.6,989.6 338.1,989.8 338.6,990.1 339.1,990.3 339.6,990.5 340.1,990.7 340.6,990.9 341.1,991.1 341.6,991.3 342.1,991.6 342.6,991.8 343.1,992.0 343.6,992.2 344.1,992.4 344.6,992.6 345.1,992.8 345.6,993.0 346.1,993.2 346.6,993.3 347.1,993.5 347.6,993.7 348.1,993.9 348.6,994.1 349.1,994.3 349.6,994.4 350.1,994.6 350.6,994.8 351.1,995.0 351.6,995.1 352.1,995.3 352.6,995.5 353.1,995.6 353.6,995.8 354.1,995.9 354.6,996.1 355.1,996.2 355.6,996.4 356.1,996.5 356.6,996.7 357.1,996.8 357.6,997.0 358.1,997.1 358.6,997.3 359.1,997.4 359.6,997.5 360.1,997.7 360.6,997.8 361.1,997.9 361.6,998.0 362.1,998.2 362.6,998.3 363.1,998.4 363.6,998.5 364.1,998.6 364.6,998.7 365.1,998.9 365.6,999.0 366.1,999.1 366.6,999.2 367.1,999.3 367.6,999.4 368.1,999.5 368.6,999.6 369.1,999.7 369.6,999.7 370.1,999.8 370.6,999.9 371.1,1000.0 371.6,1000.1 372.1,1000.2 372.6,1000.2 373.1,1000.3 373.6,1000.4 374.1,1000.5 374.6,1000.5 375.1,1000.6 375.6,1000.7 376.1,1000.7 376.6,1000.8 377.1,1000.8 377.6,1000.9 378.1,1000.9 378.6,1001.0 379.1,1001.0 379.6,1001.1 380.1,1001.1 380.6,1001.2 381.1,1001.2 381.6,1001.3 382.1,1001.3 382.6,1001.3 383.1,1001.4 383.6,1001.4 384.1,1001.4 384.6,1001.4 385.1,1001.5 385.6,1001.5 386.1,1001.5 386.6,1001.5 387.1,1001.5 387.6,1001.5 388.1,1001.5 388.6,1001.6 389.1,1001.6 389.6,1001.6 390.1,1001.6 390.6,1001.6 391.1,1001.6 391.6,1001.5 392.1,1001.5 392.6,1001.5 393.1,1001.5 393.6,1001.5 394.1,1001.5 394.6,1001.5 395.1,1001.4 395.6,1001.4 396.1,1001.4 396.6,1001.4 397.1,1001.3 397.6,1001.3 398.1,1001.3 398.6,1001.2 399.1,1001.2 399.6,1001.2 400.1,1001.1 400.6,1001.1 401.1,1001.0 401.6,1001.0 402.1,1000.9 402.6,1000.9 403.1,1000.8 403.6,1000.7 404.1,1000.7 404.6,1000.6 405.1,1000.6 405.6,1000.5 406.1,1000.4 406.6,1000.4 407.1,1000.3 407.6,1000.2 408.1,1000.1 408.6,1000.0 409.1,1000.1 409.6,1000.2 410.1,1000.3 410.6,1000.4 411.1,1000.4 411.6,1000.5 412.1,1000.6 412.6,1000.6 413.1,1000.7 413.6,1000.7 414.1,1000.8 414.6,1000.9 415.1,1000.9 415.6,1001.0 416.1,1001.0 416.6,1001.1 417.1,1001.1 417.6,1001.2 418.1,1001.2 418.6,1001.2 419.1,1001.3 419.6,1001.3 420.1,1001.3 420.6,1001.4 421.1,1001.4 421.6,1001.4 422.1,1001.4 422.6,1001.5 423.1,1001.5 423.6,1001.5 424.1,1001.5 424.6,1001.5 425.1,1001.5 425.6,1001.5 426.1,1001.6 426.6,1001.6 427.1,1001.6 427.6,1001.6 428.1,1001.6 428.6,1001.6 429.1,1001.5 429.6,1001.5 430.1,1001.5 430.6,1001.5 431.1,1001.5 431.6,1001.5 432.1,1001.5 432.6,1001.4 433.1,1001.4 433.6,1001.4 434.1,1001.4 434.6,1001.3 435.1,1001.3 435.6,1001.3 436.1,1001.2 436.6,1001.2 437.1,1001.1 437.6,1001.1 438.1,1001.0 438.6,1001.0 439.1,1000.9 439.6,1000.9 440.1,1000.8 440.6,1000.8 441.1,1000.7 441.6,1000.7 442.1,1000.6 442.6,1000.5 443.1,1000.5 443.6,1000.4 444.1,1000.3 444.6,1000.2 445.1,1000.2 445.6,1000.1 446.1,1000.0 446.6,999.9 447.1,999.8 447.6,999.7 448.1,999.7 448.6,999.6 449.1,999.5 449.6,999.4 450.1,999.3 450.6,999.2 451.1,999.1 451.6,999.0 452.1,998.9 452.6,998.7 453.1,998.6 453.6,998.5 454.1,998.4 454.6,998.3 455.1,998.2 455.6,998.0 456.1,997.9 456.6,997.8 457.1,997.7 457.6,997.5 458.1,997.4 458.6,997.3 459.1,997.1 459.6,997.0 460.1,996.8 460.6,996.7 461.1,996.5 461.6,996.4 462.1,996.2 462.6,996.1 463.1,995.9 463.6,995.8 464.1,995.6 464.6,995.5 465.1,995.3 465.6,995.1 466.1,995.0 466.6,994.8 467.1,994.6 467.6,994.4 468.1,994.3 468.6,994.1 469.1,993.9 469.6,993.7 470.1,993.5 470.6,993.3 471.1,993.2 471.6,993.0 472.1,992.8 472.6,992.6 473.1,992.4 473.6,992.2 474.1,992.0 474.6,991.8 475.1,991.6 475.6,991.3 476.1,991.1 476.6,990.9 477.1,990.7 477.6,990.5 478.1,990.3 478.6,990.1 479.1,989.8 479.6,989.6 480.1,989.4 480.6,989.1 481.1,988.9 481.6,988.7 482.1,988.4 482.6,988.2 483.1,988.0 483.6,987.7 484.1,987.5 484.6,987.2 485.1,987.0 485.6,986.7 486.1,986.5 486.6,986.2 487.1,986.0 487.6,985.7 488.1,985.5 488.6,985.2 489.1,984.9 489.6,984.7 490.1,984.4 490.6,984.1 491.1,983.9 491.6,983.6 492.1,983.3 492.6,983.0 493.1,982.8 493.6,982.5 494.1,982.2 494.6,981.9 495.1,981.6 495.6,981.3 496.1,981.0 496.6,980.8 497.1,980.5 497.6,980.2 498.1,979.9 498.6,979.6 499.1,979.3 499.6,979.0 500.1,978.7 500.6,978.4 501.1,978.1 501.6,977.7 502.1,977.4 502.6,977.1 503.1,976.8 503.6,976.5 504.1,976.2 504.6,975.9 505.1,975.5 505.6,975.2 506.1,974.9 506.6,974.6 507.1,974.2 507.6,973.9 508.1,973.6 508.6,973.2 509.1,972.9 509.6,972.6 510.1,972.2 510.6,971.9 511.1,971.6 511.6,971.2 512.1,970.9 512.6,970.5 513.1,970.2 513.6,969.9 514.1,969.5 514.6,969.2 515.1,968.8 515.6,968.5 516.1,968.1 516.6,967.8 517.1,967.4 517.6,967.0 518.1,966.7 518.6,966.3 519.1,966.0 519.6,965.6 520.1,965.3 520.6,964.9 521.1,964.5 521.6,964.2 522.1,963.8 522.6,963.5 523.1,963.1 523.6,962.7 524.1,962.4 524.6,962.0 525.1,961.6 525.6,961.3 526.1,960.9 526.6,960.5 527.1,960.2 527.6,959.8 528.1,959.4 528.6,959.1 529.1,958.7 529.6,958.3 530.1,958.0 530.6,957.6 531.1,957.3 531.6,956.9 532.1,956.5 532.6,956.2 533.1,955.8 533.6,955.4 534.1,955.1 534.6,954.7 535.1,954.4 535.6,954.0 536.1,953.7 536.6,953.3 537.1,953.0 537.6,952.6 538.1,952.3 538.6,951.9 539.1,951.6 539.6,951.3 540.1,950.9 540.6,950.6 541.1,950.3 541.6,950.0 542.1,949.7 542.6,949.3 543.1,949.0 543.6,948.7 544.1,948.5 544.6,948.2 545.1,947.9 545.6,947.6 546.1,947.4 546.6,947.1 547.1,946.9 547.6,946.6 548.1,946.4 548.6,946.2 549.1,946.0 549.6,945.8 550.1,945.7 550.6,945.5 551.1,945.4 551.6,945.3 552.1,945.2 552.6,945.1 553.1,945.1 553.6,945.0 554.1,945.0 554.6,945.0 555.1,945.1 555.6,945.1 556.1,945.2 556.6,945.3 557.1,945.5 557.6,945.6 558.1,945.8 558.6,946.0 559.1,946.3 559.6,946.5 560.1,946.8 560.6,947.1 561.1,947.5 561.6,947.8 562.1,948.2 562.6,948.6 563.1,949.0 563.6,949.4 564.1,949.9 564.6,950.4 565.1,950.9 565.6,951.4 566.1,951.9 566.6,952.4 567.1,953.0 567.6,953.5 568.1,954.1 568.6,954.7 569.1,955.3 569.6,955.9 570.1,956.5 570.6,957.1 571.1,957.8 571.6,958.4 572.1,959.0 572.6,959.7 573.1,960.4 573.6,961.0 574.1,961.7 574.6,962.4 575.1,963.1 575.6,963.8 576.1,964.5 576.6,965.2 577.1,965.9 577.6,966.6 578.1,967.3 578.6,968.1 579.1,968.8 579.6,969.5 580.1,970.3 580.6,971.0 581.1,971.7 581.6,972.5 582.1,973.2 582.6,974.0 583.1,974.7 583.6,975.5 584.1,976.3 584.6,977.0 585.1,977.8 585.6,978.6 586.1,979.3 586.6,980.1 587.1,980.9 587.6,981.6 588.1,982.4 588.6,983.2 589.1,984.0 589.6,984.8 590.1,985.6 590.6,986.3 591.1,987.1 591.6,987.9 592.1,988.7 592.6,989.5 593.1,990.3 593.6,991.1 594.1,991.9 594.6,992.7 595.1,993.5 595.6,994.2 596.1,995.0 596.6,995.8 597.1,996.6 597.6,997.4 598.1,998.2 598.6,999.0 599.1,999.8 599.6,1000.6 600.1,1001.4 600.6,1002.2 601.1,1003.1 601.6,1003.9 602.1,1004.7 602.6,1005.5 603.1,1006.3 603.6,1007.1 604.1,1007.9 604.6,1008.7 605.1,1009.5 605.6,1010.3 606.1,1011.1 606.6,1011.9 607.1,1012.7 607.6,1013.5 608.1,1014.3 608.6,1015.1 609.1,1015.9 609.6,1016.7 610.1,1017.5 610.6,1018.4 611.1,1019.2 611.6,1020.0 612.1,1020.8 612.6,1021.6 613.1,1022.4 613.6,1023.2 614.1,1024.0 614.6,1024.8 615.1,1025.6 615.6,1026.4 616.1,1027.2 616.6,1028.0 617.1,1028.8 617.6,1029.6 618.1,1030.4 618.6,1031.2 619.1,1032.0 619.6,1032.8 620.1,1033.6 620.6,1034.4 621.1,1035.2 621.6,1036.0 622.1,1036.8 622.6,1037.6 623.1,1038.4 623.6,1039.2 624.1,1040.0 624.6,1040.8 625.1,1041.6 625.6,1042.4 626.1,1043.2 626.6,1044.0 627.1,1044.8 627.6,1045.6 628.1,1046.3 628.6,1047.1 629.1,1047.9 629.6,1048.7 630.1,1049.5 630.6,1050.3 631.1,1051.1 631.6,1051.9 632.1,1052.6 632.6,1053.4 633.1,1054.2 633.6,1055.0 634.1,1055.8 634.6,1056.6 635.1,1057.3 635.6,1058.1 636.1,1058.9 636.6,1059.7 637.1,1060.4 637.6,1061.2 638.1,1062.0 638.6,1062.8 639.1,1063.5 639.6,1064.3 640.1,1065.1 640.6,1065.8"/>
<polyline points="91.6,1065.9 92.1,1065.2 92.6,1064.4 93.1,1063.7 93.6,1062.9 94.1,1062.2 94.6,1061.4 95.1,1060.7 95.6,1059.9 96.1,1059.1 96.6,1058.4 97.1,1057.6 97.6,1056.9 98.1,1056.1 98.6,1055.4 99.1,1054.6 99.6,1053.9 100.1,1053.1 100.6,1052.3 101.1,1051.6 101.6,1050.8 102.1,1050.1 102.6,1049.3 103.1,1048.6 103.6,1047.8 104.1,1047.0 104.6,1046.3 105.1,1045.5 105.6,1044.8 106.1,1044.0 106.6,1043.2 107.1,1042.5 107.6,1041.7 108.1,1040.9 108.6,1040.2 109.1,1039.4 109.6,1038.7 110.1,1037.9 110.6,1037.1 111.1,1036.4 111.6,1035.6 112.1,1034.9 112.6,1034.1 113.1,1033.3 113.6,1032.6 114.1,1031.8 114.6,1031.1 115.1,1030.3 115.6,1029.5 116.1,1028.8 116.6,1028.0 117.1,1027.3 117.6,1026.5 118.1,1025.7 118.6,1025.0 119.1,1024.2 119.6,1023.5 120.1,1022.7 120.6,1022.0 121.1,1021.2 121.6,1020.4 122.1,1019.7 122.6,1018.9 123.1,1018.2 123.6,1017.4 124.1,1016.7 124.6,1015.9 125.1,1015.2 125.6,1014.4 126.1,1013.7 126.6,1012.9 127.1,1012.2 127.6,1011.4 128.1,1010.7 128.6,1009.9 129.1,1009.2 129.6,1008.4 130.1,1007.7 130.6,1007.0 131.1,1006.2 131.6,1005.5 132.1,1004.7 132.6,1004.0 133.1,1003.3 133.6,1002.5 134.1,1001.8 134.6,1001.1 135.1,1000.3 135.6,999.6 136.1,998.9 136.6,998.1 137.1,997.4 137.6,996.7 138.1,995.9 138.6,995.2 139.1,994.5 139.6,993.8 140.1,993.1 140.6,992.3 141.1,991.6 141.6,990.9 142.1,990.2 142.6,989.5 143.1,988.8 143.6,988.1 144.1,987.3 144.6,986.6 145.1,985.9 145.6,985.2 146.1,984.5 146.6,983.8 147.1,983.1 147.6,982.4 148.1,981.7 148.6,981.0 149.1,980.4 149.6,979.7 150.1,979.0 150.6,978.3 151.1,977.6 151.6,976.9 152.1,976.3 152.6,975.6 153.1,974.9 153.6,974.2 154.1,973.6 154.6,972.9 155.1,972.2 155.6,971.6 156.1,970.9 156.6,970.3 157.1,969.6 157.6,968.9 158.1,968.3 158.6,967.6 159.1,967.0 159.6,966.4 160.1,965.7 160.6,965.1 161.1,964.4 161.6,963.8 162.1,963.2 162.6,962.6 163.1,961.9 163.6,961.3 164.1,960.7 164.6,960.1 165.1,959.5 165.6,958.9 166.1,958.2 166.6,957.6 167.1,957.0 167.6,956.4 168.1,955.9 168.6,955.3 169.1,954.7 169.6,954.1 170.1,953.5 170.6,952.9 171.1,952.4 171.6,951.8 172.1,951.2 172.6,950.7 173.1,950.1 173.6,949.5 174.1,949.0 174.6,948.4 175.1,947.9 175.6,947.3 176.1,946.8 176.6,946.3 177.1,945.7 177.6,945.2 178.1,944.7 178.6,944.2 179.1,943.7 179.6,943.1 180.1,942.6 180.6,942.1 181.1,941.6 181.6,941.1 182.1,940.7 182.6,940.2 183.1,939.7 183.6,939.2 184.1,938.7 184.6,938.3 185.1,937.8 185.6,937.3 186.1,936.9 186.6,936.4 187.1,936.0 187.6,935.5 188.1,935.1 188.6,934.7 189.1,934.2 189.6,933.8 190.1,933.4 190.6,933.0 191.1,932.6 191.6,932.2 192.1,931.8 192.6,931.4 193.1,931.0 193.6,930.6 194.1,930.2 194.6,929.9 195.1,929.5 195.6,929.1 196.1,928.8 196.6,928.4 197.1,928.1 197.6,927.7 198.1,927.4 198.6,927.1 199.1,926.7 199.6,926.4 200.1,926.1 200.6,925.8 201.1,925.5 201.6,925.2 202.1,924.9 202.6,924.6 203.1,924.3 203.6,924.0 204.1,923.8 204.6,923.5 205.1,923.2 205.6,923.0 206.1,922.7 206.6,922.5 207.1,922.3 207.6,922.0 208.1,921.8 208.6,921.6 209.1,921.4 209.6,921.2 210.1,921.0 210.6,920.8 211.1,920.6 211.6,920.4 212.1,920.2 212.6,920.1 213.1,919.9 213.6,919.8 214.1,919.6 214.6,919.5 215.1,919.3 215.6,919.2 216.1,919.1 216.6,918.9 217.1,918.8 217.6,918.7 218.1,918.6 218.6,918.5 219.1,918.4 219.6,918.4 220.1,918.3 220.6,918.2 221.1,918.2 221.6,918.1 222.1,918.0 222.6,918.0 223.1,918.0 223.6,917.9 224.1,917.9 224.6,917.9 225.1,917.9 225.6,917.9 226.1,917.9 226.6,917.9 227.1,917.9 227.6,917.9 228.1,917.9 228.6,918.0 229.1,918.0 229.6,918.0 230.1,918.1 230.6,918.1 231.1,918.2 231.6,918.3 232.1,918.3 232.6,918.4 233.1,918.5 233.6,918.6 234.1,918.7 234.6,918.8 235.1,918.9 235.6,919.0 236.1,919.1 236.6,919.2 237.1,919.3 237.6,919.4 238.1,919.6 238.6,919.7 239.1,919.9 239.6,920.0 240.1,920.1 240.6,920.3 241.1,920.5 241.6,920.6 242.1,920.8 242.6,920.9 243.1,921.1 243.6,921.3 244.1,921.5 244.6,921.6 245.1,921.8 245.6,922.0 246.1,922.2 246.6,922.4 247.1,922.5 247.6,922.7 248.1,922.9 248.6,923.1 249.1,923.3 249.6,923.5 250.1,923.6 250.6,923.8 251.1,924.0 251.6,924.2 252.1,924.3 252.6,924.5 253.1,924.7 253.6,924.8 254.1,925.0 254.6,925.1 255.1,925.2 255.6,925.4 256.1,925.5 256.6,925.6 257.1,925.7 257.6,925.8 258.1,925.9 258.6,926.0 259.1,926.0 259.6,926.1 260.1,926.1 260.6,926.2 261.1,926.2 261.6,926.2 262.1,926.2 262.6,926.2 263.1,926.2 263.6,926.2 264.1,926.2 264.6,926.2 265.1,926.2 265.6,926.2 266.1,926.2 266.6,926.2 267.1,926.2 267.6,926.2 268.1,926.2 268.6,926.2 269.1,926.2 269.6,926.3 270.1,926.3 270.6,926.3 271.1,926.4 271.6,926.4 272.1,926.5 272.6,926.6 273.1,926.7 273.6,926.8 274.1,926.9 274.6,927.0 275.1,927.1 275.6,927.3 276.1,927.4 276.6,927.6 277.1,927.7 277.6,927.9 278.1,928.1 278.6,928.3 279.1,928.5 279.6,928.7 280.1,928.9 280.6,929.1 281.1,929.3 281.6,929.6 282.1,929.8 282.6,930.1 283.1,930.3 283.6,930.6 284.1,930.9 284.6,931.1 285.1,931.4 285.6,931.7 286.1,932.0 286.6,932.3 287.1,932.6 287.6,932.9 288.1,933.2 288.6,933.5 289.1,933.8 289.6,934.1 290.1,934.4 290.6,934.8 291.1,935.1 291.6,935.4 292.1,935.8 292.6,936.1 293.1,936.4 293.6,936.8 294.1,937.1 294.6,937.5 295.1,937.8 295.6,938.2 296.1,938.5 296.6,938.9 297.1,939.2 297.6,939.6 298.1,939.9 298.6,940.3 299.1,940.7 299.6,941.0 300.1,941.4 300.6,941.8 301.1,942.1 301.6,942.5 302.1,942.9 302.6,943.2 303.1,943.6 303.6,944.0 304.1,944.3 304.6,944.7 305.1,945.1 305.6,945.5 306.1,945.8 306.6,946.2 307.1,946.6 307.6,947.0 308.1,947.3 308.6,947.7 309.1,948.1 309.6,948.5 310.1,948.8 310.6,949.2 311.1,949.6 311.6,950.0 312.1,950.3 312.6,950.7 313.1,951.1 313.6,951.5 314.1,951.8 314.6,952.2 315.1,952.6 315.6,953.0 316.1,953.3 316.6,953.7 317.1,954.1 317.6,954.5 318.1,954.8 318.6,955.2 319.1,955.6 319.6,956.0 320.1,956.3 320.6,956.7 321.1,957.1 321.6,957.4 322.1,957.8 322.6,958.2 323.1,958.5 323.6,958.9 324.1,959.3 324.6,959.6 325.1,960.0 325.6,960.4 326.1,960.7 326.6,961.1 327.1,961.5 327.6,961.8 328.1,962.2 328.6,962.5 329.1,962.9 329.6,963.2 330.1,963.6 330.6,964.0 331.1,964.3 331.6,964.7 332.1,965.0 332.6,965.4 333.1,965.7 333.6,966.1 334.1,966.4 334.6,966.8 335.1,967.1 335.6,967.4 336.1,967.8 336.6,968.1 337.1,968.5 337.6,968.8 338.1,969.2 338.6,969.5 339.1,969.8 339.6,970.2 340.1,970.5 340.6,970.8 341.1,971.2 341.6,971.5 342.1,971.8 342.6,972.1 343.1,972.5 343.6,972.8 344.1,973.1 344.6,973.4 345.1,973.7 345.6,974.1 346.1,974.4 346.6,974.7 347.1,975.0 347.6,975.3 348.1,975.6 348.6,975.9 349.1,976.3 349.6,976.6 350.1,976.9 350.6,977.2 351.1,977.5 351.6,977.8 352.1,978.1 352.6,978.4 353.1,978.7 353.6,979.0 354.1,979.2 354.6,979.5 355.1,979.8 355.6,980.1 356.1,980.4 356.6,980.7 357.1,981.0 357.6,981.2 358.1,981.5 358.6,981.8 359.1,982.1 359.6,982.4 360.1,982.6 360.6,982.9 361.1,983.2 361.6,983.4 362.1,983.7 362.6,984.0 363.1,984.2 363.6,984.5 364.1,984.7 364.6,985.0 365.1,985.3 365.6,985.5 366.1,985.8 366.6,986.0 367.1,986.3 367.6,986.5 368.1,986.8 368.6,987.0 369.1,987.2 369.6,987.5 370.1,987.7 370.6,987.9 371.1,988.2 371.6,988.4 372.1,988.6 372.6,988.9 373.1,989.1 373.6,989.3 374.1,989.5 374.6,989.8 375.1,990.0 375.6,990.2 376.1,990.4 376.6,990.6 377.1,990.8 377.6,991.0 378.1,991.2 378.6,991.5 379.1,991.7 379.6,991.9 380.1,992.1 380.6,992.3 381.1,992.4 381.6,992.6 382.1,992.8 382.6,993.0 383.1,993.2 383.6,993.4 384.1,993.6 384.6,993.8 385.1,993.9 385.6,994.1 386.1,994.3 386.6,994.5 387.1,994.6 387.6,994.8 388.1,995.0 388.6,995.1 389.1,995.3 389.6,995.5 390.1,995.6 390.6,995.8 391.1,995.9 391.6,996.1 392.1,996.2 392.6,996.4 393.1,996.5 393.6,996.7 394.1,996.8 394.6,997.0 395.1,997.1 395.6,997.2 396.1,997.4 396.6,997.5 397.1,997.6 397.6,997.8 398.1,997.9 398.6,998.0 399.1,998.1 399.6,998.2 400.1,998.4 400.6,998.5 401.1,998.6 401.6,998.7 402.1,998.8 402.6,998.9 403.1,999.0 403.6,999.1 404.1,999.2 404.6,999.3 405.1,999.4 405.6,999.5 406.1,999.6 406.6,999.7 407.1,999.8 407.6,999.9 408.1,1000.0 408.6,1000.0 409.1,1000.0 409.6,999.9 410.1,999.8 410.6,999.7 411.1,999.6 411.6,999.5 412.1,999.4 412.6,999.3 413.1,999.2 413.6,999.1 414.1,999.0 414.6,998.9 415.1,998.8 415.6,998.7 416.1,998.6 416.6,998.5 417.1,998.4 417.6,998.2 418.1,998.1 418.6,998.0 419.1,997.9 419.6,997.8 420.1,997.6 420.6,997.5 421.1,997.4 421.6,997.2 422.1,997.1 422.6,997.0 423.1,996.8 423.6,996.7 424.1,996.5 424.6,996.4 425.1,996.2 425.6,996.1 426.1,995.9 426.6,995.8 427.1,995.6 427.6,995.5 428.1,995.3 428.6,995.1 429.1,995.0 429.6,994.8 430.1,994.6 430.6,994.5 431.1,994.3 431.6,994.1 432.1,993.9 432.6,993.8 433.1,993.6 433.6,993.4 434.1,993.2 434.6,993.0 435.1,992.8 435.6,992.6 436.1,992.4 436.6,992.3 437.1,992.1 437.6,991.9 438.1,991.7 438.6,991.5 439.1,991.2 439.6,991.0 440.1,990.8 440.6,990.6 441.1,990.4 441.6,990.2 442.1,990.0 442.6,989.8 443.1,989.5 443.6,989.3 444.1,989.1 444.6,988.9 445.1,988.6 445.6,988.4 446.1,988.2 446.6,987.9 447.1,987.7 447.6,987.5 448.1,987.2 448.6,987.0 449.1,986.8 449.6,986.5 450.1,986.3 450.6,986.0 451.1,985.8 451.6,985.5 452.1,985.3 452.6,985.0 453.1,984.7 453.6,984.5 454.1,984.2 454.6,984.0 455.1,983.7 455.6,983.4 456.1,983.2 456.6,982.9 457.1,982.6 457.6,982.4 458.1,982.1 458.6,981.8 459.1,981.5 459.6,981.2 460.1,981.0 460.6,980.7 461.1,980.4 461.6,980.1 462.1,979.8 462.6,979.5 463.1,979.2 463.6,979.0 464.1,978.7 464.6,978.4 465.1,978.1 465.6,977.8 466.1,977.5 466.6,977.2 467.1,976.9 467.6,976.6 468.1,976.3 468.6,975.9 469.1,975.6 469.6,975.3 470.1,975.0 470.6,974.7 471.1,974.4 471.6,974.1 472.1,973.7 472.6,973.4 473.1,973.1 473.6,972.8 474.1,972.5 474.6,972.1 475.1,971.8 475.6,971.5 476.1,971.2 476.6,970.8 477.1,970.5 477.6,970.2 478.1,969.8 478.6,969.5 479.1,969.2 479.6,968.8 480.1,968.5 480.6,968.1 481.1,967.8 481.6,967.4 482.1,967.1 482.6,966.8 483.1,966.4 483.6,966.1 484.1,965.7 484.6,965.4 485.1,965.0 485.6,964.7 486.1,964.3 486.6,964.0 487.1,963.6 487.6,963.2 488.1,962.9 488.6,962.5 489.1,962.2 489.6,961.8 490.1,961.5 490.6,961.1 491.1,960.7 491.6,960.4 492.1,960.0 492.6,959.6 493.1,959.3 493.6,958.9 494.1,958.5 494.6,958.2 495.1,957.8 495.6,957.4 496.1,957.1 496.6,956.7 497.1,956.3 497.6,956.0 498.1,955.6 498.6,955.2 499.1,954.8 499.6,954.5 500.1,954.1 500.6,953.7 501.1,953.3 501.6,953.0 502.1,952.6 502.6,952.2 503.1,951.8 503.6,951.5 504.1,951.1 504.6,950.7 505.1,950.3 505.6,950.0 506.1,949.6 506.6,949.2 507.1,948.8 507.6,948.5 508.1,948.1 508.6,947.7 509.1,947.3 509.6,947.0 510.1,946.6 510.6,946.2 511.1,945.8 511.6,945.5 512.1,945.1 512.6,944.7 513.1,944.3 513.6,944.0 514.1,943.6 514.6,943.2 515.1,942.9 515.6,942.5 516.1,942.1 516.6,941.8 517.1,941.4 517.6,941.0 518.1,940.7 518.6,940.3 519.1,939.9 519.6,939.6 520.1,939.2 520.6,938.9 521.1,938.5 521.6,938.2 522.1,937.8 522.6,937.5 523.1,937.1 523.6,936.8 524.1,936.4 524.6,936.1 525.1,935.8 525.6,935.4 526.1,935.1 526.6,934.8 527.1,934.4 527.6,934.1 528.1,933.8 528.6,933.5 529.1,933.2 529.6,932.9 530.1,932.6 530.6,932.3 531.1,932.0 531.6,931.7 532.1,931.4 532.6,931.1 533.1,930.9 533.6,930.6 534.1,930.3 534.6,930.1 535.1,929.8 535.6,929.6 536.1,929.3 536.6,929.1 537.1,928.9 537.6,928.7 538.1,928.5 538.6,928.3 539.1,928.1 539.6,927.9 540.1,927.7 540.6,927.6 541.1,927.4 541.6,927.3 542.1,927.1 542.6,927.0 543.1,926.9 543.6,926.8 544.1,926.7 544.6,926.6 545.1,926.5 545.6,926.4 546.1,926.4 546.6,926.3 547.1,926.3 547.6,926.3 548.1,926.2 548.6,926.2 549.1,926.2 549.6,926.2 550.1,926.2 550.6,926.2 551.1,926.2 551.6,926.2 552.1,926.2 552.6,926.2 553.1,926.2 553.6,926.2 554.1,926.2 554.6,926.2 555.1,926.2 555.6,926.2 556.1,926.2 556.6,926.2 557.1,926.1 557.6,926.1 558.1,926.0 558.6,926.0 559.1,925.9 559.6,925.8 560.1,925.7 560.6,925.6 561.1,925.5 561.6,925.4 562.1,925.2 562.6,925.1 563.1,925.0 563.6,924.8 564.1,924.7 564.6,924.5 565.1,924.3 565.6,924.2 566.1,924.0 566.6,923.8 567.1,923.6 567.6,923.5 568.1,923.3 568.6,923.1 569.1,922.9 569.6,922.7 570.1,922.5 570.6,922.4 571.1,922.2 571.6,922.0 572.1,921.8 572.6,921.6 573.1,921.5 573.6,921.3 574.1,921.1 574.6,920.9 575.1,920.8 575.6,920.6 576.1,920.5 576.6,920.3 577.1,920.1 577.6,920.0 578.1,919.9 578.6,919.7 579.1,919.6 579.6,919.4 580.1,919.3 580.6,919.2 581.1,919.1 581.6,919.0 582.1,918.9 582.6,918.8 583.1,918.7 583.6,918.6 584.1,918.5 584.6,918.4 585.1,918.3 585.6,918.3 586.1,918.2 586.6,918.1 587.1,918.1 587.6,918.0 588.1,918.0 588.6,918.0 589.1,917.9 589.6,917.9 590.1,917.9 590.6,917.9 591.1,917.9 591.6,917.9 592.1,917.9 592.6,917.9 593.1,917.9 593.6,917.9 594.1,918.0 594.6,918.0 595.1,918.0 595.6,918.1 596.1,918.2 596.6,918.2 597.1,918.3 597.6,918.4 598.1,918.4 598.6,918.5 599.1,918.6 599.6,918.7 600.1,918.8 600.6,918.9 601.1,919.1 601.6,919.2 602.1,919.3 602.6,919.5 603.1,919.6 603.6,919.8 604.1,919.9 604.6,920.1 605.1,920.2 605.6,920.4 606.1,920.6 606.6,920.8 607.1,921.0 607.6,921.2 608.1,921.4 608.6,921.6 609.1,921.8 609.6,922.0 610.1,922.3 610.6,922.5 611.1,922.7 611.6,923.0 612.1,923.2 612.6,923.5 613.1,923.8 613.6,924.0 614.1,924.3 614.6,924.6 615.1,924.9 615.6,925.2 616.1,925.5 616.6,925.8 617.1,926.1 617.6,926.4 618.1,926.7 618.6,927.1 619.1,927.4 619.6,927.7 620.1,928.1 620.6,928.4 621.1,928.8 621.6,929.1 622.1,929.5 622.6,929.9 623.1,930.2 623.6,930.6 624.1,931.0 624.6,931.4 625.1,931.8 625.6,932.2 626.1,932.6 626.6,933.0 627.1,933.4 627.6,933.8 628.1,934.2 628.6,934.7 629.1,935.1 629.6,935.5 630.1,936.0 630.6,936.4 631.1,936.9 631.6,937.3 632.1,937.8 632.6,938.3 633.1,938.7 633.6,939.2 634.1,939.7 634.6,940.2 635.1,940.7 635.6,941.1 636.1,941.6 636.6,942.1 637.1,942.6 637.6,943.1 638.1,943.7 638.6,944.2 639.1,944.7 639.6,945.2 640.1,945.7 640.6,946.3 641.1,946.8 641.6,947.3 642.1,947.9 642.6,948.4 643.1,949.0 643.6,949.5 644.1,950.1 644.6,950.7 645.1,951.2 645.6,951.8 646.1,952.4 646.6,952.9 647.1,953.5 647.6,954.1 648.1,954.7 648.6,955.3 649.1,955.9 649.6,956.4 650.1,957.0 650.6,957.6 651.1,958.2 651.6,958.9 652.1,959.5 652.6,960.1 653.1,960.7 653.6,961.3 654.1,961.9 654.6,962.6 655.1,963.2 655.6,963.8 656.1,964.4 656.6,965.1 657.1,965.7 657.6,966.4 658.1,967.0 658.6,967.6 659.1,968.3 659.6,968.9 660.1,969.6 660.6,970.3 661.1,970.9 661.6,971.6 662.1,972.2 662.6,972.9 663.1,973.6 663.6,974.2 664.1,974.9 664.6,975.6 665.1,976.3 665.6,976.9 666.1,977.6 666.6,978.3 667.1,979.0 667.6,979.7 668.1,980.4 668.6,981.0 669.1,981.7 669.6,982.4 670.1,983.1 670.6,983.8 671.1,984.5 671.6,985.2 672.1,985.9 672.6,986.6 673.1,987.3 673.6,988.1 674.1,988.8 674.6,989.5 675.1,990.2 675.6,990.9 676.1,991.6 676.6,992.3 677.1,993.1 677.6,993.8 678.1,994.5 678.6,995.2 679.1,995.9 679.6,996.7 680.1,997.4 680.6,998.1 681.1,998.9 681.6,999.6 682.1,1000.3 682.6,1001.1 683.1,1001.8 683.6,1002.5 684.1,1003.3 684.6,1004.0 685.1,1004.7 685.6,1005.5 686.1,1006.2 686.6,1007.0 687.1,1007.7 687.6,1008.4 688.1,1009.2 688.6,1009.9 689.1,1010.7 689.6,1011.4 690.1,1012.2 690.6,1012.9 691.1,1013.7 691.6,1014.4 692.1,1015.2 692.6,1015.9 693.1,1016.7 693.6,1017.4 694.1,1018.2 694.6,1018.9 695.1,1019.7 695.6,1020.4 696.1,1021.2"/>
<polyline points="90.6,648.3 91.1,649.0 91.6,649.8 92.1,650.6 92.6,651.4 93.1,652.1 93.6,652.9 94.1,653.7 94.6,654.5 95.1,655.3 95.6,656.1 96.1,656.8 96.6,657.6 97.1,658.4 97.6,659.2 98.1,660.0 98.6,660.8 99.1,661.6 99.6,662.4 100.1,663.2 100.6,664.0 101.1,664.7 101.6,665.5 102.1,666.3 102.6,667.1 103.1,667.9 103.6,668.7 104.1,669.5 104.6,670.3 105.1,671.1 105.6,671.9 106.1,672.7 106.6,673.6 107.1,674.4 107.6,675.2 108.1,676.0 108.6,676.8 109.1,677.6 109.6,678.4 110.1,679.2 110.6,680.0 111.1,680.8 111.6,681.6 112.1,682.5 112.6,683.3 113.1,684.1 113.6,684.9 114.1,685.7 114.6,686.5 115.1,687.4 115.6,688.2 116.1,689.0 116.6,689.8 117.1,690.6 117.6,691.4 118.1,692.3 118.6,693.1 119.1,693.9 119.6,694.7 120.1,695.6 120.6,696.4 121.1,697.2 121.6,698.0 122.1,698.9 122.6,699.7 123.1,700.5 123.6,701.3 124.1,702.2 124.6,703.0 125.1,703.8 125.6,704.6 126.1,705.5 126.6,706.3 127.1,707.1 127.6,708.0 128.1,708.8 128.6,709.6 129.1,710.4 129.6,711.3 130.1,712.1 130.6,712.9 131.1,713.8 131.6,714.6 132.1,715.4 132.6,716.3 133.1,717.1 133.6,717.9 134.1,718.8 134.6,719.6 135.1,720.4 135.6,721.3 136.1,722.1 136.6,722.9 137.1,723.8 137.6,724.6 138.1,725.4 138.6,726.3 139.1,727.1 139.6,727.9 140.1,728.8 140.6,729.6 141.1,730.4 141.6,731.3 142.1,732.1 142.6,732.9 143.1,733.8 143.6,734.6 144.1,735.4 144.6,736.3 145.1,737.1 145.6,737.9 146.1,738.8 146.6,739.6 147.1,740.4 147.6,741.3 148.1,742.1 148.6,742.9 149.1,743.8 149.6,744.6 150.1,745.4 150.6,746.2 151.1,747.1 151.6,747.9 152.1,748.7 152.6,749.6 153.1,750.4 153.6,751.2 154.1,752.1 154.6,752.9 155.1,753.7 155.6,754.5 156.1,755.4 156.6,756.2 157.1,757.0 157.6,757.8 158.1,758.7 158.6,759.5 159.1,760.3 159.6,761.1 160.1,762.0 160.6,762.8 161.1,763.6 161.6,764.4 162.1,765.3 162.6,766.1 163.1,766.9 163.6,767.7 164.1,768.5 164.6,769.4 165.1,770.2 165.6,771.0 166.1,771.8 166.6,772.6 167.1,773.4 167.6,774.2 168.1,775.1 168.6,775.9 169.1,776.7 169.6,777.5 170.1,778.3 170.6,779.1 171.1,779.9 171.6,780.7 172.1,781.5 172.6,782.3 173.1,783.1 173.6,783.9 174.1,784.7 174.6,785.6 175.1,786.4 175.6,787.2 176.1,787.9 176.6,788.7 177.1,789.5 177.6,790.3 178.1,791.1 178.6,791.9 179.1,792.7 179.6,793.5 180.1,794.3 180.6,795.1 181.1,795.9 181.6,796.7 182.1,797.4 182.6,798.2 183.1,799.0 183.6,799.8 184.1,800.6 184.6,801.4 185.1,802.1 185.6,802.9 186.1,803.7 186.6,804.5 187.1,805.2 187.6,806.0 188.1,806.8 188.6,807.5 189.1,808.3 189.6,809.1 190.1,809.8 190.6,810.6 191.1,811.4 191.6,812.1 192.1,812.9 192.6,813.6 193.1,814.4 193.6,815.1 194.1,815.9 194.6,816.6 195.1,817.4 195.6,818.1 196.1,818.9 196.6,819.6 197.1,820.3 197.6,821.1 198.1,821.8 198.6,822.6 199.1,823.3 199.6,824.0 200.1,824.7 200.6,825.5 201.1,826.2 201.6,826.9 202.1,827.6 202.6,828.4 203.1,829.1 203.6,829.8 204.1,830.5 204.6,831.2 205.1,831.9 205.6,832.6 206.1,833.3 206.6,834.0 207.1,834.7 207.6,835.4 208.1,836.1 208.6,836.8 209.1,837.5 209.6,838.2 210.1,838.9 210.6,839.5 211.1,840.2 211.6,840.9 212.1,841.6 212.6,842.2 213.1,842.9 213.6,843.6 214.1,844.2 214.6,844.9 215.1,845.5 215.6,846.2 216.1,846.8 216.6,847.5 217.1,848.1 217.6,848.8 218.1,849.4 218.6,850.1 219.1,850.7 219.6,851.3 220.1,851.9 220.6,852.6 221.1,853.2 221.6,853.8 222.1,854.4 222.6,855.0 223.1,855.6 223.6,856.2 224.1,856.8 224.6,857.4 225.1,858.0 225.6,858.6 226.1,859.2 226.6,859.8 227.1,860.3 227.6,860.9 228.1,861.5 228.6,862.0 229.1,862.6 229.6,863.2 230.1,863.7 230.6,864.3 231.1,864.8 231.6,865.3 232.1,865.9 232.6,866.4 233.1,866.9 233.6,867.5 234.1,868.0 234.6,868.5 235.1,869.0 235.6,869.5 236.1,870.0 236.6,870.5 237.1,871.0 237.6,871.5 238.1,872.0 238.6,872.4 239.1,872.9 239.6,873.4 240.1,873.8 240.6,874.3 241.1,874.7 241.6,875.2 242.1,875.6 242.6,876.0 243.1,876.5 243.6,876.9 244.1,877.3 244.6,877.7 245.1,878.1 245.6,878.5 246.1,878.9 246.6,879.3 247.1,879.6 247.6,880.0 248.1,880.4 248.6,880.7 249.1,881.1 249.6,881.4 250.1,881.7 250.6,882.0 251.1,882.4 251.6,882.7 252.1,883.0 252.6,883.2 253.1,883.5 253.6,883.8 254.1,884.0 254.6,884.3 255.1,884.5 255.6,884.7 256.1,884.9 256.6,885.1 257.1,885.3 257.6,885.5 258.1,885.7 258.6,885.8 259.1,885.9 259.6,886.1 260.1,886.2 260.6,886.3 261.1,886.3 261.6,886.4 262.1,886.4 262.6,886.5 263.1,886.5 263.6,886.5 264.1,886.4 264.6,886.4 265.1,886.3 265.6,886.3 266.1,886.2 266.6,886.0 267.1,885.9 267.6,885.7 268.1,885.6 268.6,885.4 269.1,885.2 269.6,884.9 270.1,884.7 270.6,884.4 271.1,884.1 271.6,883.8 272.1,883.5 272.6,883.2 273.1,882.8 273.6,882.5 274.1,882.1 274.6,881.7 275.1,881.3 275.6,880.8 276.1,880.4 276.6,880.0 277.1,879.5 277.6,879.0 278.1,878.5 278.6,878.0 279.1,877.5 279.6,877.0 280.1,876.4 280.6,875.9 281.1,875.3 281.6,874.8 282.1,874.2 282.6,873.6 283.1,873.0 283.6,872.4 284.1,871.8 284.6,871.2 285.1,870.6 285.6,870.0 286.1,869.4 286.6,868.7 287.1,868.1 287.6,867.4 288.1,866.8 288.6,866.1 289.1,865.5 289.6,864.8 290.1,864.2 290.6,863.5 291.1,862.8 291.6,862.1 292.1,861.5 292.6,860.8 293.1,860.1 293.6,859.4 294.1,858.7 294.6,858.0 295.1,857.3 295.6,856.6 296.1,855.9 296.6,855.2 297.1,854.5 297.6,853.8 298.1,853.1 298.6,852.4 299.1,851.7 299.6,851.0 300.1,850.3 300.6,849.6 301.1,848.8 301.6,848.1 302.1,847.4 302.6,846.7 303.1,846.0 303.6,845.3 304.1,844.5 304.6,843.8 305.1,843.1 305.6,842.4 306.1,841.6 306.6,840.9 307.1,840.2 307.6,839.5 308.1,838.8 308.6,838.0 309.1,837.3 309.6,836.6 310.1,835.9 310.6,835.1 311.1,834.4 311.6,833.7 312.1,833.0 312.6,832.2 313.1,831.5 313.6,830.8 314.1,830.1 314.6,829.3 315.1,828.6 315.6,827.9 316.1,827.2 316.6,826.4 317.1,825.7 317.6,825.0 318.1,824.3 318.6,823.6 319.1,822.8 319.6,822.1 320.1,821.4 320.6,820.7 321.1,820.0 321.6,819.2 322.1,818.5 322.6,817.8 323.1,817.1 323.6,816.4 324.1,815.7 324.6,815.0 325.1,814.2 325.6,813.5 326.1,812.8 326.6,812.1 327.1,811.4 327.6,810.7 328.1,810.0 328.6,809.3 329.1,808.6 329.6,807.9 330.1,807.2 330.6,806.5 331.1,805.8 331.6,805.1 332.1,804.4 332.6,803.7 333.1,803.0 333.6,802.3 334.1,801.6 334.6,800.9 335.1,800.2 335.6,799.5 336.1,798.8 336.6,798.1 337.1,797.4 337.6,796.7 338.1,796.0 338.6,795.3 339.1,794.7 339.6,794.0 340.1,793.3 340.6,792.6 341.1,791.9 341.6,791.2 342.1,790.6 342.6,789.9 343.1,789.2 343.6,788.5 344.1,787.9 344.6,787.2 345.1,786.5 345.6,785.8 346.1,785.2 346.6,784.5 347.1,783.8 347.6,783.2 348.1,782.5 348.6,781.9 349.1,781.2 349.6,780.5 350.1,779.9 350.6,779.2 351.1,778.6 351.6,777.9 352.1,777.3 352.6,776.6 353.1,776.0 353.6,775.3 354.1,774.7 354.6,774.0 355.1,773.4 355.6,772.7 356.1,772.1 356.6,771.4 357.1,770.8 357.6,770.2 358.1,769.5 358.6,768.9 359.1,768.3 359.6,767.6 360.1,767.0 360.6,766.4 361.1,765.8 361.6,765.1 362.1,764.5 362.6,763.9 363.1,763.3 363.6,762.7 364.1,762.0 364.6,761.4 365.1,760.8 365.6,760.2 366.1,759.6 366.6,759.0 367.1,758.4 367.6,757.8 368.1,757.2 368.6,756.6 369.1,756.0 369.6,755.4 370.1,754.8 370.6,754.2 371.1,753.6 371.6,753.0 372.1,752.4 372.6,751.8 373.1,751.2 373.6,750.6 374.1,750.0 374.6,749.5 375.1,748.9 375.6,748.3 376.1,747.7 376.6,747.2 377.1,746.6 377.6,746.0 378.1,745.4 378.6,744.9 379.1,744.3 379.6,743.8 380.1,743.2 380.6,742.6 381.1,742.1 381.6,741.5 382.1,741.0 382.6,740.4 383.1,739.9 383.6,739.3 384.1,738.8 384.6,738.2 385.1,737.7 385.6,737.1 386.1,736.6 386.6,736.1 387.1,735.5 387.6,735.0 388.1,734.5 388.6,733.9 389.1,733.4 389.6,732.9 390.1,732.3 390.6,731.8 391.1,731.3 391.6,730.8 392.1,730.3 392.6,729.7 393.1,729.2 393.6,728.7 394.1,728.2 394.6,727.7 395.1,727.2 395.6,726.7 396.1,726.2 396.6,725.7 397.1,725.2 397.6,724.7 398.1,724.2 398.6,723.7 399.1,723.2 399.6,722.8 400.1,722.3 400.6,721.8 401.1,721.3 401.6,720.8 402.1,720.4 402.6,719.9 403.1,719.4 403.6,718.9 404.1,718.5 404.6,718.0 405.1,717.5 405.6,717.1 406.1,716.6 406.6,716.2 407.1,715.7 407.6,715.3 408.1,714.8 408.6,714.4 409.1,714.8 409.6,715.3 410.1,715.7 410.6,716.2 411.1,716.6 411.6,717.1 412.1,717.5 412.6,718.0 413.1,718.5 413.6,718.9 414.1,719.4 414.6,719.9 415.1,720.4 415.6,720.8 416.1,721.3 416.6,721.8 417.1,722.3 417.6,722.8 418.1,723.2 418.6,723.7 419.1,724.2 419.6,724.7 420.1,725.2 420.6,725.7 421.1,726.2 421.6,726.7 422.1,727.2 422.6,727.7 423.1,728.2 423.6,728.7 424.1,729.2 424.6,729.7 425.1,730.3 425.6,730.8 426.1,731.3 426.6,731.8 427.1,732.3 427.6,732.9 428.1,733.4 428.6,733.9 429.1,734.5 429.6,735.0 430.1,735.5 430.6,736.1 431.1,736.6 431.6,737.1 432.1,737.7 432.6,738.2 433.1,738.8 433.6,739.3 434.1,739.9 434.6,740.4 435.1,741.0 435.6,741.5 436.1,742.1 436.6,742.6 437.1,743.2 437.6,743.8 438.1,744.3 438.6,744.9 439.1,745.4 439.6,746.0 440.1,746.6 440.6,747.2 441.1,747.7 441.6,748.3 442.1,748.9 442.6,749.5 443.1,750.0 443.6,750.6 444.1,751.2 444.6,751.8 445.1,752.4 445.6,753.0 446.1,753.6 446.6,754.2 447.1,754.8 447.6,755.4 448.1,756.0 448.6,756.6 449.1,757.2 449.6,757.8 450.1,758.4 450.6,759.0 451.1,759.6 451.6,760.2 452.1,760.8 452.6,761.4 453.1,762.0 453.6,762.7 454.1,763.3 454.6,763.9 455.1,764.5 455.6,765.1 456.1,765.8 456.6,766.4 457.1,767.0 457.6,767.6 458.1,768.3 458.6,768.9 459.1,769.5 459.6,770.2 460.1,770.8 460.6,771.4 461.1,772.1 461.6,772.7 462.1,773.4 462.6,774.0 463.1,774.7 463.6,775.3 464.1,776.0 464.6,776.6 465.1,777.3 465.6,777.9 466.1,778.6 466.6,779.2 467.1,779.9 467.6,780.5 468.1,781.2 468.6,781.9 469.1,782.5 469.6,783.2 470.1,783.8 470.6,784.5 471.1,785.2 471.6,785.8 472.1,786.5 472.6,787.2 473.1,787.9 473.6,788.5 474.1,789.2 474.6,789.9 475.1,790.6 475.6,791.2 476.1,791.9 476.6,792.6 477.1,793.3 477.6,794.0 478.1,794.7 478.6,795.3 479.1,796.0 479.6,796.7 480.1,797.4 480.6,798.1 481.1,798.8 481.6,799.5 482.1,800.2 482.6,800.9 483.1,801.6 483.6,802.3 484.1,803.0 484.6,803.7 485.1,804.4 485.6,805.1 486.1,805.8 486.6,806.5 487.1,807.2 487.6,807.9 488.1,808.6 488.6,809.3 489.1,810.0 489.6,810.7 490.1,811.4 490.6,812.1 491.1,812.8 491.6,813.5 492.1,814.2 492.6,815.0 493.1,815.7 493.6,816.4 494.1,817.1 494.6,817.8 495.1,818.5 495.6,819.2 496.1,820.0 496.6,820.7 497.1,821.4 497.6,822.1 498.1,822.8 498.6,823.6 499.1,824.3 499.6,825.0 500.1,825.7 500.6,826.4 501.1,827.2 501.6,827.9 502.1,828.6 502.6,829.3 503.1,830.1 503.6,830.8 504.1,831.5 504.6,832.2 505.1,833.0 505.6,833.7 506.1,834.4 506.6,835.1 507.1,835.9 507.6,836.6 508.1,837.3 508.6,838.0 509.1,838.8 509.6,839.5 510.1,840.2 510.6,840.9 511.1,841.6 511.6,842.4 512.1,843.1 512.6,843.8 513.1,844.5 513.6,845.3 514.1,846.0 514.6,846.7 515.1,847.4 515.6,848.1 516.1,848.8 516.6,849.6 517.1,850.3 517.6,851.0 518.1,851.7 518.6,852.4 519.1,853.1 519.6,853.8 520.1,854.5 520.6,855.2 521.1,855.9 521.6,856.6 522.1,857.3 522.6,858.0 523.1,858.7 523.6,859.4 524.1,860.1 524.6,860.8 525.1,861.5 525.6,862.1 526.1,862.8 526.6,863.5 527.1,864.2 527.6,864.8 528.1,865.5 528.6,866.1 529.1,866.8 529.6,867.4 530.1,868.1 530.6,868.7 531.1,869.4 531.6,870.0 532.1,870.6 532.6,871.2 533.1,871.8 533.6,872.4 534.1,873.0 534.6,873.6 535.1,874.2 535.6,874.8 536.1,875.3 536.6,875.9 537.1,876.4 537.6,877.0 538.1,877.5 538.6,878.0 539.1,878.5 539.6,879.0 540.1,879.5 540.6,880.0 541.1,880.4 541.6,880.8 542.1,881.3 542.6,881.7 543.1,882.1 543.6,882.5 544.1,882.8 544.6,883.2 545.1,883.5 545.6,883.8 546.1,884.1 546.6,884.4 547.1,884.7 547.6,884.9 548.1,885.2 548.6,885.4 549.1,885.6 549.6,885.7 550.1,885.9 550.6,886.0 551.1,886.2 551.6,886.3 552.1,886.3 552.6,886.4 553.1,886.4 553.6,886.5 554.1,886.5 554.6,886.5 555.1,886.4 555.6,886.4 556.1,886.3 556.6,886.3 557.1,886.2 557.6,886.1 558.1,885.9 558.6,885.8 559.1,885.7 559.6,885.5 560.1,885.3 560.6,885.1 561.1,884.9 561.6,884.7 562.1,884.5 562.6,884.3 563.1,884.0 563.6,883.8 564.1,883.5 564.6,883.2 565.1,883.0 565.6,882.7 566.1,882.4 566.6,882.0 567.1,881.7 567.6,881.4 568.1,881.1 568.6,880.7 569.1,880.4 569.6,880.0 570.1,879.6 570.6,879.3 571.1,878.9 571.6,878.5 572.1,878.1 572.6,877.7 573.1,877.3 573.6,876.9 574.1,876.5 574.6,876.0 575.1,875.6 575.6,875.2 576.1,874.7 576.6,874.3 577.1,873.8 577.6,873.4 578.1,872.9 578.6,872.4 579.1,872.0 579.6,871.5 580.1,871.0 580.6,870.5 581.1,870.0 581.6,869.5 582.1,869.0 582.6,868.5 583.1,868.0 583.6,867.5 584.1,866.9 584.6,866.4 585.1,865.9 585.6,865.3 586.1,864.8 586.6,864.3 587.1,863.7 587.6,863.2 588.1,862.6 588.6,862.0 589.1,861.5 589.6,860.9 590.1,860.3 590.6,859.8 591.1,859.2 591.6,858.6 592.1,858.0 592.6,857.4 593.1,856.8 593.6,856.2 594.1,855.6 594.6,855.0 595.1,854.4 595.6,853.8 596.1,853.2 596.6,852.6 597.1,851.9 597.6,851.3 598.1,850.7 598.6,850.1 599.1,849.4 599.6,848.8 600.1,848.1 600.6,847.5 601.1,846.8 601.6,846.2 602.1,845.5 602.6,844.9 603.1,844.2 603.6,843.6 604.1,842.9 604.6,842.2 605.1,841.6 605.6,840.9 606.1,840.2 606.6,839.5 607.1,838.9 607.6,838.2 608.1,837.5 608.6,836.8 609.1,836.1 609.6,835.4 610.1,834.7 610.6,834.0 611.1,833.3 611.6,832.6 612.1,831.9 612.6,831.2 613.1,830.5 613.6,829.8 614.1,829.1 614.6,828.4 615.1,827.6 615.6,826.9 616.1,826.2 616.6,825.5 617.1,824.7 617.6,824.0 618.1,823.3 618.6,822.6 619.1,821.8 619.6,821.1 620.1,820.3 620.6,819.6 621.1,818.9 621.6,818.1 622.1,817.4 622.6,816.6 623.1,815.9 623.6,815.1 624.1,814.4 624.6,813.6 625.1,812.9 625.6,812.1 626.1,811.4 626.6,810.6 627.1,809.8 627.6,809.1 628.1,808.3 628.6,807.5 629.1,806.8 629.6,806.0 630.1,805.2 630.6,804.5 631.1,803.7 631.6,802.9 632.1,802.1 632.6,801.4 633.1,800.6 633.6,799.8 634.1,799.0 634.6,798.2 635.1,797.4 635.6,796.7 636.1,795.9 636.6,795.1 637.1,794.3 637.6,793.5 638.1,792.7 638.6,791.9 639.1,791.1 639.6,790.3 640.1,789.5 640.6,788.7 641.1,787.9 641.6,787.2 642.1,786.4 642.6,785.6 643.1,784.7 643.6,783.9 644.1,783.1 644.6,782.3 645.1,781.5 645.6,780.7 646.1,779.9 646.6,779.1 647.1,778.3 647.6,777.5 648.1,776.7 648.6,775.9 649.1,775.1 649.6,774.2 650.1,773.4 650.6,772.6 651.1,771.8 651.6,771.0 652.1,770.2 652.6,769.4 653.1,768.5 653.6,767.7 654.1,766.9 654.6,766.1 655.1,765.3 655.6,764.4 656.1,763.6 656.6,762.8 657.1,762.0 657.6,761.1 658.1,760.3 658.6,759.5 659.1,758.7 659.6,757.8 660.1,757.0 660.6,756.2 661.1,755.4 661.6,754.5 662.1,753.7 662.6,752.9 663.1,752.1 663.6,751.2 664.1,750.4 664.6,749.6 665.1,748.7 665.6,747.9 666.1,747.1 666.6,746.2 667.1,745.4 667.6,744.6 668.1,743.8 668.6,742.9 669.1,742.1 669.6,741.3 670.1,740.4 670.6,739.6 671.1,738.8 671.6,737.9 672.1,737.1 672.6,736.3 673.1,735.4 673.6,734.6 674.1,733.8 674.6,732.9 675.1,732.1 675.6,731.3 676.1,730.4 676.6,729.6 677.1,728.8 677.6,727.9 678.1,727.1 678.6,726.3 679.1,725.4 679.6,724.6 680.1,723.8 680.6,722.9 681.1,722.1 681.6,721.3 682.1,720.4 682.6,719.6 683.1,718.8 683.6,717.9 684.1,717.1 684.6,716.3 685.1,715.4 685.6,714.6 686.1,713.8 686.6,712.9 687.1,712.1 687.6,711.3 688.1,710.4 688.6,709.6 689.1,708.8 689.6,708.0 690.1,707.1 690.6,706.3 691.1,705.5 691.6,704.6 692.1,703.8 692.6,703.0 693.1,702.2 693.6,701.3 694.1,700.5 694.6,699.7 695.1,698.9 695.6,698.0 696.1,697.2"/>
<polyline points="199.1,648.4 199.6,648.8 200.1,649.2 200.6,649.5 201.1,649.9 201.6,650.3 202.1,650.7 202.6,651.1 203.1,651.4 203.6,651.8 204.1,652.2 204.6,652.5 205.1,652.9 205.6,653.2 206.1,653.6 206.6,653.9 207.1,654.3 207.6,654.6 208.1,654.9 208.6,655.3 209.1,655.6 209.6,655.9 210.1,656.3 210.6,656.6 211.1,656.9 211.6,657.2 212.1,657.5 212.6,657.8 213.1,658.1 213.6,658.4 214.1,658.7 214.6,659.0 215.1,659.3 215.6,659.6 216.1,659.8 216.6,660.1 217.1,660.4 217.6,660.6 218.1,660.9 218.6,661.2 219.1,661.4 219.6,661.7 220.1,661.9 220.6,662.2 221.1,662.4 221.6,662.7 222.1,662.9 222.6,663.1 223.1,663.3 223.6,663.6 224.1,663.8 224.6,664.0 225.1,664.2 225.6,664.4 226.1,664.6 226.6,664.8 227.1,665.0 227.6,665.2 228.1,665.4 228.6,665.6 229.1,665.8 229.6,666.0 230.1,666.1 230.6,666.3 231.1,666.5 231.6,666.6 232.1,666.8 232.6,667.0 233.1,667.1 233.6,667.3 234.1,667.4 234.6,667.6 235.1,667.7 235.6,667.8 236.1,668.0 236.6,668.1 237.1,668.2 237.6,668.3 238.1,668.5 238.6,668.6 239.1,668.7 239.6,668.8 240.1,668.9 240.6,669.0 241.1,669.1 241.6,669.2 242.1,669.3 242.6,669.4 243.1,669.5 243.6,669.6 244.1,669.7 244.6,669.8 245.1,669.8 245.6,669.9 246.1,670.0 246.6,670.1 247.1,670.1 247.6,670.2 248.1,670.2 248.6,670.3 249.1,670.4 249.6,670.4 250.1,670.5 250.6,670.5 251.1,670.6 251.6,670.6 252.1,670.6 252.6,670.7 253.1,670.7 253.6,670.8 254.1,670.8 254.6,670.8 255.1,670.9 255.6,670.9 256.1,670.9 256.6,670.9 257.1,671.0 257.6,671.0 258.1,671.0 258.6,671.0 259.1,671.0 259.6,671.0 260.1,671.0 260.6,671.0 261.1,671.1 261.6,671.1 262.1,671.1 262.6,671.1 263.1,671.1 263.6,671.1 264.1,671.1 264.6,671.1 265.1,671.1 265.6,671.0 266.1,671.0 266.6,671.0 267.1,671.0 267.6,671.0 268.1,671.0 268.6,671.0 269.1,671.0 269.6,671.0 270.1,670.9 270.6,670.9 271.1,670.9 271.6,670.9 272.1,670.9 272.6,670.9 273.1,670.8 273.6,670.8 274.1,670.8 274.6,670.8 275.1,670.7 275.6,670.7 276.1,670.7 276.6,670.7 277.1,670.7 277.6,670.6 278.1,670.6 278.6,670.6 279.1,670.6 279.6,670.5 280.1,670.5 280.6,670.5 281.1,670.5 281.6,670.4 282.1,670.4 282.6,670.4 283.1,670.4 283.6,670.3 284.1,670.3 284.6,670.3 285.1,670.3 285.6,670.2 286.1,670.2 286.6,670.2 287.1,670.2 287.6,670.1 288.1,670.1 288.6,670.1 289.1,670.1 289.6,670.0 290.1,670.0 290.6,670.0 291.1,670.0 291.6,670.0 292.1,669.9 292.6,669.9 293.1,669.9 293.6,669.9 294.1,669.9 294.6,669.9 295.1,669.8 295.6,669.8 296.1,669.8 296.6,669.8 297.1,669.8 297.6,669.8 298.1,669.8 298.6,669.8 299.1,669.8 299.6,669.7 300.1,669.7 300.6,669.7 301.1,669.7 301.6,669.7 302.1,669.7 302.6,669.7 303.1,669.7 303.6,669.7 304.1,669.7 304.6,669.7 305.1,669.7 305.6,669.8 306.1,669.8 306.6,669.8 307.1,669.8 307.6,669.8 308.1,669.8 308.6,669.8 309.1,669.8 309.6,669.9 310.1,669.9 310.6,669.9 311.1,669.9 311.6,669.9 312.1,670.0 312.6,670.0 313.1,670.0 313.6,670.1 314.1,670.1 314.6,670.1 315.1,670.2 315.6,670.2 316.1,670.2 316.6,670.3 317.1,670.3 317.6,670.4 318.1,670.4 318.6,670.5 319.1,670.5 319.6,670.6 320.1,670.6 320.6,670.7 321.1,670.7 321.6,670.8 322.1,670.8 322.6,670.9 323.1,671.0 323.6,671.0 324.1,671.1 324.6,671.2 325.1,671.2 325.6,671.3 326.1,671.4 326.6,671.5 327.1,671.5 327.6,671.6 328.1,671.7 328.6,671.8 329.1,671.9 329.6,672.0 330.1,672.1 330.6,672.2 331.1,672.2 331.6,672.3 332.1,672.4 332.6,672.5 333.1,672.6 333.6,672.8 334.1,672.9 334.6,673.0 335.1,673.1 335.6,673.2 336.1,673.3 336.6,673.4 337.1,673.5 337.6,673.7 338.1,673.8 338.6,673.9 339.1,674.1 339.6,674.2 340.1,674.3 340.6,674.5 341.1,674.6 341.6,674.7 342.1,674.9 342.6,675.0 343.1,675.2 343.6,675.3 344.1,675.5 344.6,675.6 345.1,675.8 345.6,675.9 346.1,676.1 346.6,676.3 347.1,676.4 347.6,676.6 348.1,676.8 348.6,676.9 349.1,677.1 349.6,677.3 350.1,677.5 350.6,677.6 351.1,677.8 351.6,678.0 352.1,678.2 352.6,678.4 353.1,678.6 353.6,678.8 354.1,679.0 354.6,679.2 355.1,679.4 355.6,679.6 356.1,679.8 356.6,680.0 357.1,680.2 357.6,680.4 358.1,680.6 358.6,680.8 359.1,681.1 359.6,681.3 360.1,681.5 360.6,681.7 361.1,682.0 361.6,682.2 362.1,682.4 362.6,682.7 363.1,682.9 363.6,683.1 364.1,683.4 364.6,683.6 365.1,683.9 365.6,684.1 366.1,684.4 366.6,684.6 367.1,684.9 367.6,685.2 368.1,685.4 368.6,685.7 369.1,686.0 369.6,686.2 370.1,686.5 370.6,686.8 371.1,687.0 371.6,687.3 372.1,687.6 372.6,687.9 373.1,688.2 373.6,688.5 374.1,688.8 374.6,689.0 375.1,689.3 375.6,689.6 376.1,689.9 376.6,690.2 377.1,690.5 377.6,690.9 378.1,691.2 378.6,691.5 379.1,691.8 379.6,692.1 380.1,692.4 380.6,692.7 381.1,693.1 381.6,693.4 382.1,693.7 382.6,694.0 383.1,694.4 383.6,694.7 384.1,695.1 384.6,695.4 385.1,695.7 385.6,696.1 386.1,696.4 386.6,696.8 387.1,697.1 387.6,697.5 388.1,697.8 388.6,698.2 389.1,698.6 389.6,698.9 390.1,699.3 390.6,699.6 391.1,700.0 391.6,700.4 392.1,700.8 392.6,701.1 393.1,701.5 393.6,701.9 394.1,702.3 394.6,702.7 395.1,703.1 395.6,703.4 396.1,703.8 396.6,704.2 397.1,704.6 397.6,705.0 398.1,705.4 398.6,705.8 399.1,706.2 399.6,706.6 400.1,707.1 400.6,707.5 401.1,707.9 401.6,708.3 402.1,708.7 402.6,709.1 403.1,709.6 403.6,710.0 404.1,710.4 404.6,710.8 405.1,711.3 405.6,711.7 406.1,712.1 406.6,712.6 407.1,713.0 407.6,713.5 408.1,713.9 408.6,714.4 409.1,713.9 409.6,713.5 410.1,713.0 410.6,712.6 411.1,712.1 411.6,711.7 412.1,711.3 412.6,710.8 413.1,710.4 413.6,710.0 414.1,709.6 414.6,709.1 415.1,708.7 415.6,708.3 416.1,707.9 416.6,707.5 417.1,707.1 417.6,706.6 418.1,706.2 418.6,705.8 419.1,705.4 419.6,705.0 420.1,704.6 420.6,704.2 421.1,703.8 421.6,703.4 422.1,703.1 422.6,702.7 423.1,702.3 423.6,701.9 424.1,701.5 424.6,701.1 425.1,700.8 425.6,700.4 426.1,700.0 426.6,699.6 427.1,699.3 427.6,698.9 428.1,698.6 428.6,698.2 429.1,697.8 429.6,697.5 430.1,697.1 430.6,696.8 431.1,696.4 431.6,696.1 432.1,695.7 432.6,695.4 433.1,695.1 433.6,694.7 434.1,694.4 434.6,694.0 435.1,693.7 435.6,693.4 436.1,693.1 436.6,692.7 437.1,692.4 437.6,692.1 438.1,691.8 438.6,691.5 439.1,691.2 439.6,690.9 440.1,690.5 440.6,690.2 441.1,689.9 441.6,689.6 442.1,689.3 442.6,689.0 443.1,688.8 443.6,688.5 444.1,688.2 444.6,687.9 445.1,687.6 445.6,687.3 446.1,687.0 446.6,686.8 447.1,686.5 447.6,686.2 448.1,686.0 448.6,685.7 449.1,685.4 449.6,685.2 450.1,684.9 450.6,684.6 451.1,684.4 451.6,684.1 452.1,683.9 452.6,683.6 453.1,683.4 453.6,683.1 454.1,682.9 454.6,682.7 455.1,682.4 455.6,682.2 456.1,682.0 456.6,681.7 457.1,681.5 457.6,681.3 458.1,681.1 458.6,680.8 459.1,680.6 459.6,680.4 460.1,680.2 460.6,680.0 461.1,679.8 461.6,679.6 462.1,679.4 462.6,679.2 463.1,679.0 463.6,678.8 464.1,678.6 464.6,678.4 465.1,678.2 465.6,678.0 466.1,677.8 466.6,677.6 467.1,677.5 467.6,677.3 468.1,677.1 468.6,676.9 469.1,676.8 469.6,676.6 470.1,676.4 470.6,676.3 471.1,676.1 471.6,675.9 472.1,675.8 472.6,675.6 473.1,675.5 473.6,675.3 474.1,675.2 474.6,675.0 475.1,674.9 475.6,674.7 476.1,674.6 476.6,674.5 477.1,674.3 477.6,674.2 478.1,674.1 478.6,673.9 479.1,673.8 479.6,673.7 480.1,673.5 480.6,673.4 481.1,673.3 481.6,673.2 482.1,673.1 482.6,673.0 483.1,672.9 483.6,672.8 484.1,672.6 484.6,672.5 485.1,672.4 485.6,672.3 486.1,672.2 486.6,672.2 487.1,672.1 487.6,672.0 488.1,671.9 488.6,671.8 489.1,671.7 489.6,671.6 490.1,671.5 490.6,671.5 491.1,671.4 491.6,671.3 492.1,671.2 492.6,671.2 493.1,671.1 493.6,671.0 494.1,671.0 494.6,670.9 495.1,670.8 495.6,670.8 496.1,670.7 496.6,670.7 497.1,670.6 497.6,670.6 498.1,670.5 498.6,670.5 499.1,670.4 499.6,670.4 500.1,670.3 500.6,670.3 501.1,670.2 501.6,670.2 502.1,670.2 502.6,670.1 503.1,670.1 503.6,670.1 504.1,670.0 504.6,670.0 505.1,670.0 505.6,669.9 506.1,669.9 506.6,669.9 507.1,669.9 507.6,669.9 508.1,669.8 508.6,669.8 509.1,669.8 509.6,669.8 510.1,669.8 510.6,669.8 511.1,669.8 511.6,669.8 512.1,669.7 512.6,669.7 513.1,669.7 513.6,669.7 514.1,669.7 514.6,669.7 515.1,669.7 515.6,669.7 516.1,669.7 516.6,669.7 517.1,669.7 517.6,669.7 518.1,669.8 518.6,669.8 519.1,669.8 519.6,669.8 520.1,669.8 520.6,669.8 521.1,669.8 521.6,669.8 522.1,669.8 522.6,669.9 523.1,669.9 523.6,669.9 524.1,669.9 524.6,669.9 525.1,669.9 525.6,670.0 526.1,670.0 526.6,670.0 527.1,670.0 527.6,670.0 528.1,670.1 528.6,670.1 529.1,670.1 529.6,670.1 530.1,670.2 530.6,670.2 531.1,670.2 531.6,670.2 532.1,670.3 532.6,670.3 533.1,670.3 533.6,670.3 534.1,670.4 534.6,670.4 535.1,670.4 535.6,670.4 536.1,670.5 536.6,670.5 537.1,670.5 537.6,670.5 538.1,670.6 538.6,670.6 539.1,670.6 539.6,670.6 540.1,670.7 540.6,670.7 541.1,670.7 541.6,670.7 542.1,670.7 542.6,670.8 543.1,670.8 543.6,670.8 544.1,670.8 544.6,670.9 545.1,670.9 545.6,670.9 546.1,670.9 546.6,670.9 547.1,670.9 547.6,671.0 548.1,671.0 548.6,671.0 549.1,671.0 549.6,671.0 550.1,671.0 550.6,671.0 551.1,671.0 551.6,671.0 552.1,671.1 552.6,671.1 553.1,671.1 553.6,671.1 554.1,671.1 554.6,671.1 555.1,671.1 555.6,671.1 556.1,671.1 556.6,671.0 557.1,671.0 557.6,671.0 558.1,671.0 558.6,671.0 559.1,671.0 559.6,671.0 560.1,671.0 560.6,670.9 561.1,670.9 561.6,670.9 562.1,670.9 562.6,670.8 563.1,670.8 563.6,670.8 564.1,670.7 564.6,670.7 565.1,670.6 565.6,670.6 566.1,670.6 566.6,670.5 567.1,670.5 567.6,670.4 568.1,670.4 568.6,670.3 569.1,670.2 569.6,670.2 570.1,670.1 570.6,670.1 571.1,670.0 571.6,669.9 572.1,669.8 572.6,669.8 573.1,669.7 573.6,669.6 574.1,669.5 574.6,669.4 575.1,669.3 575.6,669.2 576.1,669.1 576.6,669.0 577.1,668.9 577.6,668.8 578.1,668.7 578.6,668.6 579.1,668.5 579.6,668.3 580.1,668.2 580.6,668.1 581.1,668.0 581.6,667.8 582.1,667.7 582.6,667.6 583.1,667.4 583.6,667.3 584.1,667.1 584.6,667.0 585.1,666.8 585.6,666.6 586.1,666.5 586.6,666.3 587.1,666.1 587.6,666.0 588.1,665.8 588.6,665.6 589.1,665.4 589.6,665.2 590.1,665.0 590.6,664.8 591.1,664.6 591.6,664.4 592.1,664.2 592.6,664.0 593.1,663.8 593.6,663.6 594.1,663.3 594.6,663.1 595.1,662.9 595.6,662.7 596.1,662.4 596.6,662.2 597.1,661.9 597.6,661.7 598.1,661.4 598.6,661.2 599.1,660.9 599.6,660.6 600.1,660.4 600.6,660.1 601.1,659.8 601.6,659.6 602.1,659.3 602.6,659.0 603.1,658.7 603.6,658.4 604.1,658.1 604.6,657.8 605.1,657.5 605.6,657.2 606.1,656.9 606.6,656.6 607.1,656.3 607.6,655.9 608.1,655.6 608.6,655.3 609.1,654.9 609.6,654.6 610.1,654.3 610.6,653.9 611.1,653.6 611.6,653.2 612.1,652.9 612.6,652.5 613.1,652.2 613.6,651.8 614.1,651.4 614.6,651.1 615.1,650.7 615.6,650.3 616.1,649.9 616.6,649.5 617.1,649.2 617.6,648.8 618.1,648.4"/>
</g>
<path d="M92.6,744.53h6.2M694.2,744.53h-6.2" stroke="#1c1c1c" stroke-width="1.35"/>
<text class="tl" transform="translate(62.46,758.53) scale(0.948,1)" font-family='"Liberation Sans", sans-serif' font-size="36.8" fill="#1a1a1a">1</text>
<path d="M64.55,754.48H71.23V759.33H64.55ZM74.31,754.48H80.77V759.33H74.31Z" fill="#fff"/>
<path d="M92.6,857.20h6.2M694.2,857.20h-6.2" stroke="#1c1c1c" stroke-width="1.35"/>
<text class="tl" transform="translate(60.96,871.20) scale(0.948,1)" font-family='"Liberation Sans", sans-serif' font-size="36.8" fill="#1a1a1a">0</text>
<path d="M92.6,969.87h6.2M694.2,969.87h-6.2" stroke="#1c1c1c" stroke-width="1.35"/>
<text class="tl" transform="translate(50.84,983.87) scale(0.948,1)" font-family='"Liberation Sans", sans-serif' font-size="36.8" fill="#1a1a1a"><tspan dx="-1.6">-</tspan><tspan dx="1.6">1</tspan></text>
<path d="M64.55,979.82H71.23V984.67H64.55ZM74.31,979.82H80.77V984.67H74.31Z" fill="#fff"/>
<rect x="92.6" y="688.20" width="601.60" height="338.00" fill="none" stroke="#1c1c1c" stroke-width="1.35"/>
<text transform="translate(104.69,822.21) scale(1.0036,1)" font-family='"Liberation Sans", sans-serif' font-size="51.63" fill="#000">(c)</text>
<text transform="translate(46.20,908.07) rotate(-90) scale(1.1149,1)" font-family='"Liberation Serif", serif' font-size="63.30" font-style="italic" stroke="#fff" stroke-width="0.5" fill="#000">E</text>
<text transform="translate(56.66,858.50) rotate(-90) skewX(-6.45) scale(0.6370,1)" font-family='"Liberation Serif", serif' font-size="84.45" fill="#000">/</text>
<text transform="translate(46.15,834.75) rotate(-90) scale(1.0719,1)" font-family='"Liberation Serif", serif' font-size="66.87" font-style="italic" stroke="#fff" stroke-width="1.1" fill="#000">t</text>
<text transform="translate(244.54,1096.20) scale(1.0732,1)" font-family='"Liberation Serif", serif' font-size="63.07" font-style="italic" stroke="#fff" stroke-width="0.8" fill="#000">K</text>
<text transform="translate(297.24,1131.55) scale(0.4464,1)" font-family='"DejaVu Serif", "Liberation Serif", serif' font-size="109.81" stroke="#000" stroke-width="1.2" fill="#000">′</text>
<text transform="translate(378.68,1096.20) scale(1.0521,1)" font-family='"Liberation Serif", serif' font-size="63.07" font-style="italic" stroke="#fff" stroke-width="0.8" fill="#000">M</text>
<text transform="translate(508.29,1096.20) scale(1.0721,1)" font-family='"Liberation Serif", serif' font-size="63.07" font-style="italic" stroke="#fff" stroke-width="0.8" fill="#000">K</text>
<rect x="921.4" y="11.4" width="676.60" height="977.50" fill="#c4b9f6"/>
<path d="M921.4,988.9 L921.40,11.40 L924.22,13.85 L927.04,16.30 L929.85,18.75 L932.65,21.20 L935.44,23.65 L938.23,26.10 L941.01,28.55 L943.78,31.00 L946.55,33.45 L949.31,35.90 L952.06,38.35 L954.80,40.80 L957.54,43.25 L960.27,45.70 L963.00,48.15 L965.71,50.60 L968.42,53.05 L971.12,55.50 L973.82,57.95 L976.51,60.40 L979.19,62.85 L981.86,65.30 L984.53,67.75 L987.19,70.20 L989.84,72.65 L992.49,75.10 L995.13,77.55 L997.76,80.00 L1000.38,82.45 L1003.00,84.90 L1005.61,87.35 L1008.21,89.80 L1010.81,92.25 L1013.40,94.70 L1015.98,97.15 L1018.55,99.60 L1021.12,102.05 L1023.68,104.50 L1026.24,106.95 L1028.78,109.39 L1031.32,111.84 L1033.85,114.29 L1036.38,116.74 L1038.90,119.19 L1041.41,121.64 L1043.91,124.09 L1046.41,126.54 L1048.90,128.99 L1051.38,131.44 L1053.86,133.89 L1056.33,136.34 L1058.79,138.79 L1061.24,141.24 L1063.69,143.69 L1066.13,146.14 L1068.56,148.59 L1070.99,151.04 L1073.41,153.49 L1075.82,155.94 L1078.22,158.39 L1080.62,160.84 L1083.01,163.29 L1085.40,165.74 L1087.77,168.19 L1090.14,170.64 L1092.50,173.09 L1094.86,175.54 L1097.21,177.99 L1099.55,180.44 L1101.88,182.89 L1104.21,185.34 L1106.53,187.79 L1108.84,190.24 L1111.15,192.69 L1113.45,195.14 L1115.74,197.59 L1118.02,200.04 L1120.30,202.49 L1122.57,204.94 L1124.83,207.39 L1127.09,209.84 L1129.34,212.29 L1131.58,214.74 L1133.81,217.19 L1136.04,219.64 L1138.26,222.09 L1140.48,224.54 L1142.68,226.99 L1144.88,229.44 L1147.07,231.89 L1149.26,234.34 L1151.44,236.79 L1153.61,239.24 L1155.77,241.69 L1157.93,244.14 L1160.08,246.59 L1162.22,249.04 L1164.36,251.49 L1166.49,253.94 L1168.61,256.39 L1170.72,258.84 L1172.83,261.29 L1174.93,263.74 L1177.02,266.19 L1179.11,268.64 L1181.19,271.09 L1183.26,273.54 L1185.32,275.99 L1187.38,278.44 L1189.43,280.89 L1191.48,283.34 L1193.51,285.79 L1195.54,288.24 L1197.56,290.69 L1199.58,293.14 L1201.59,295.59 L1203.59,298.04 L1205.58,300.49 L1207.57,302.94 L1209.55,305.38 L1211.52,307.83 L1213.49,310.28 L1215.45,312.73 L1217.40,315.18 L1219.34,317.63 L1221.28,320.08 L1223.21,322.53 L1225.13,324.98 L1227.05,327.43 L1228.96,329.88 L1230.86,332.33 L1232.75,334.78 L1234.64,337.23 L1236.52,339.68 L1238.39,342.13 L1240.26,344.58 L1242.12,347.03 L1243.97,349.48 L1245.82,351.93 L1247.66,354.38 L1249.49,356.83 L1251.31,359.28 L1253.13,361.73 L1254.94,364.18 L1256.74,366.63 L1258.54,369.08 L1260.32,371.53 L1262.11,373.98 L1263.88,376.43 L1265.65,378.88 L1267.41,381.33 L1269.16,383.78 L1270.91,386.23 L1272.65,388.68 L1274.38,391.13 L1276.10,393.58 L1277.82,396.03 L1279.53,398.48 L1281.23,400.93 L1282.93,403.38 L1284.62,405.83 L1286.30,408.28 L1287.98,410.73 L1289.65,413.18 L1291.31,415.63 L1292.96,418.08 L1294.61,420.53 L1296.25,422.98 L1297.88,425.43 L1299.51,427.88 L1301.12,430.33 L1302.74,432.78 L1304.34,435.23 L1305.94,437.68 L1307.53,440.13 L1309.11,442.58 L1310.69,445.03 L1312.26,447.48 L1313.82,449.93 L1315.37,452.38 L1316.92,454.83 L1318.46,457.28 L1319.99,459.73 L1321.52,462.18 L1323.04,464.63 L1324.55,467.08 L1326.06,469.53 L1327.56,471.98 L1329.05,474.43 L1330.53,476.88 L1332.01,479.33 L1333.48,481.78 L1334.94,484.23 L1336.40,486.68 L1337.84,489.13 L1339.29,491.58 L1340.72,494.03 L1342.15,496.48 L1343.57,498.93 L1344.98,501.37 L1346.39,503.82 L1347.79,506.27 L1349.18,508.72 L1350.56,511.17 L1351.94,513.62 L1353.31,516.07 L1354.67,518.52 L1356.03,520.97 L1357.38,523.42 L1358.72,525.87 L1360.06,528.32 L1361.39,530.77 L1362.71,533.22 L1364.02,535.67 L1365.33,538.12 L1366.63,540.57 L1367.92,543.02 L1369.21,545.47 L1370.48,547.92 L1371.76,550.37 L1373.02,552.82 L1374.28,555.27 L1375.53,557.72 L1376.77,560.17 L1378.01,562.62 L1379.24,565.07 L1380.46,567.52 L1381.67,569.97 L1382.88,572.42 L1384.08,574.87 L1385.27,577.32 L1386.46,579.77 L1387.64,582.22 L1388.81,584.67 L1389.98,587.12 L1391.14,589.57 L1392.29,592.02 L1393.43,594.47 L1394.57,596.92 L1395.70,599.37 L1396.82,601.82 L1397.94,604.27 L1399.04,606.72 L1400.15,609.17 L1401.24,611.62 L1402.33,614.07 L1403.41,616.52 L1404.48,618.97 L1405.55,621.42 L1406.61,623.87 L1407.66,626.32 L1408.70,628.77 L1409.74,631.22 L1410.77,633.67 L1411.79,636.12 L1412.81,638.57 L1413.82,641.02 L1414.82,643.47 L1415.82,645.92 L1416.81,648.37 L1417.79,650.82 L1418.76,653.27 L1419.73,655.72 L1420.69,658.17 L1421.64,660.62 L1422.59,663.07 L1423.52,665.52 L1424.46,667.97 L1425.38,670.42 L1426.30,672.87 L1427.21,675.32 L1428.11,677.77 L1429.01,680.22 L1429.90,682.67 L1430.78,685.12 L1431.65,687.57 L1432.52,690.02 L1433.38,692.47 L1434.23,694.92 L1435.08,697.36 L1435.92,699.81 L1436.75,702.26 L1437.58,704.71 L1438.40,707.16 L1439.21,709.61 L1440.01,712.06 L1440.81,714.51 L1441.60,716.96 L1442.38,719.41 L1443.16,721.86 L1443.92,724.31 L1444.69,726.76 L1445.44,729.21 L1446.19,731.66 L1446.93,734.11 L1447.66,736.56 L1448.39,739.01 L1449.11,741.46 L1449.82,743.91 L1450.52,746.36 L1451.22,748.81 L1451.91,751.26 L1452.59,753.71 L1453.27,756.16 L1453.94,758.61 L1454.60,761.06 L1455.26,763.51 L1455.90,765.96 L1456.55,768.41 L1457.18,770.86 L1457.81,773.31 L1458.43,775.76 L1459.04,778.21 L1459.64,780.66 L1460.24,783.11 L1460.83,785.56 L1461.42,788.01 L1462.00,790.46 L1462.57,792.91 L1463.13,795.36 L1463.69,797.81 L1464.23,800.26 L1464.78,802.71 L1465.31,805.16 L1465.84,807.61 L1466.36,810.06 L1466.87,812.51 L1467.38,814.96 L1467.88,817.41 L1468.37,819.86 L1468.86,822.31 L1469.33,824.76 L1469.81,827.21 L1470.27,829.66 L1470.73,832.11 L1471.18,834.56 L1471.62,837.01 L1472.05,839.46 L1472.48,841.91 L1472.90,844.36 L1473.32,846.81 L1473.73,849.26 L1474.13,851.71 L1474.52,854.16 L1474.91,856.61 L1475.28,859.06 L1475.66,861.51 L1476.02,863.96 L1476.38,866.41 L1476.73,868.86 L1477.07,871.31 L1477.41,873.76 L1477.74,876.21 L1478.06,878.66 L1478.38,881.11 L1478.68,883.56 L1478.99,886.01 L1479.28,888.46 L1479.57,890.91 L1479.85,893.35 L1480.12,895.80 L1480.38,898.25 L1480.64,900.70 L1480.89,903.15 L1481.14,905.60 L1481.38,908.05 L1481.61,910.50 L1481.83,912.95 L1482.05,915.40 L1482.25,917.85 L1482.46,920.30 L1482.65,922.75 L1482.84,925.20 L1483.02,927.65 L1483.19,930.10 L1483.36,932.55 L1483.52,935.00 L1483.67,937.45 L1483.82,939.90 L1483.95,942.35 L1484.09,944.80 L1484.21,947.25 L1484.33,949.70 L1484.44,952.15 L1484.54,954.60 L1484.63,957.05 L1484.72,959.50 L1484.80,961.95 L1484.88,964.40 L1484.95,966.85 L1485.01,969.30 L1485.06,971.75 L1485.11,974.20 L1485.14,976.65 L1485.18,979.10 L1485.20,981.55 L1485.22,984.00 L1485.23,986.45 L1485.23,988.90Z" fill="#f6d1be"/>
<path d="M921.40,11.40 L924.22,13.85 L927.04,16.30 L929.85,18.75 L932.65,21.20 L935.44,23.65 L938.23,26.10 L941.01,28.55 L943.78,31.00 L946.55,33.45 L949.31,35.90 L952.06,38.35 L954.80,40.80 L957.54,43.25 L960.27,45.70 L963.00,48.15 L965.71,50.60 L968.42,53.05 L971.12,55.50 L973.82,57.95 L976.51,60.40 L979.19,62.85 L981.86,65.30 L984.53,67.75 L987.19,70.20 L989.84,72.65 L992.49,75.10 L995.13,77.55 L997.76,80.00 L1000.38,82.45 L1003.00,84.90 L1005.61,87.35 L1008.21,89.80 L1010.81,92.25 L1013.40,94.70 L1015.98,97.15 L1018.55,99.60 L1021.12,102.05 L1023.68,104.50 L1026.24,106.95 L1028.78,109.39 L1031.32,111.84 L1033.85,114.29 L1036.38,116.74 L1038.90,119.19 L1041.41,121.64 L1043.91,124.09 L1046.41,126.54 L1048.90,128.99 L1051.38,131.44 L1053.86,133.89 L1056.33,136.34 L1058.79,138.79 L1061.24,141.24 L1063.69,143.69 L1066.13,146.14 L1068.56,148.59 L1070.99,151.04 L1073.41,153.49 L1075.82,155.94 L1078.22,158.39 L1080.62,160.84 L1083.01,163.29 L1085.40,165.74 L1087.77,168.19 L1090.14,170.64 L1092.50,173.09 L1094.86,175.54 L1097.21,177.99 L1099.55,180.44 L1101.88,182.89 L1104.21,185.34 L1106.53,187.79 L1108.84,190.24 L1111.15,192.69 L1113.45,195.14 L1115.74,197.59 L1118.02,200.04 L1120.30,202.49 L1122.57,204.94 L1124.83,207.39 L1127.09,209.84 L1129.34,212.29 L1131.58,214.74 L1133.81,217.19 L1136.04,219.64 L1138.26,222.09 L1140.48,224.54 L1142.68,226.99 L1144.88,229.44 L1147.07,231.89 L1149.26,234.34 L1151.44,236.79 L1153.61,239.24 L1155.77,241.69 L1157.93,244.14 L1160.08,246.59 L1162.22,249.04 L1164.36,251.49 L1166.49,253.94 L1168.61,256.39 L1170.72,258.84 L1172.83,261.29 L1174.93,263.74 L1177.02,266.19 L1179.11,268.64 L1181.19,271.09 L1183.26,273.54 L1185.32,275.99 L1187.38,278.44 L1189.43,280.89 L1191.48,283.34 L1193.51,285.79 L1195.54,288.24 L1197.56,290.69 L1199.58,293.14 L1201.59,295.59 L1203.59,298.04 L1205.58,300.49 L1207.57,302.94 L1209.55,305.38 L1211.52,307.83 L1213.49,310.28 L1215.45,312.73 L1217.40,315.18 L1219.34,317.63 L1221.28,320.08 L1223.21,322.53 L1225.13,324.98 L1227.05,327.43 L1228.96,329.88 L1230.86,332.33 L1232.75,334.78 L1234.64,337.23 L1236.52,339.68 L1238.39,342.13 L1240.26,344.58 L1242.12,347.03 L1243.97,349.48 L1245.82,351.93 L1247.66,354.38 L1249.49,356.83 L1251.31,359.28 L1253.13,361.73 L1254.94,364.18 L1256.74,366.63 L1258.54,369.08 L1260.32,371.53 L1262.11,373.98 L1263.88,376.43 L1265.65,378.88 L1267.41,381.33 L1269.16,383.78 L1270.91,386.23 L1272.65,388.68 L1274.38,391.13 L1276.10,393.58 L1277.82,396.03 L1279.53,398.48 L1281.23,400.93 L1282.93,403.38 L1284.62,405.83 L1286.30,408.28 L1287.98,410.73 L1289.65,413.18 L1291.31,415.63 L1292.96,418.08 L1294.61,420.53 L1296.25,422.98 L1297.88,425.43 L1299.51,427.88 L1301.12,430.33 L1302.74,432.78 L1304.34,435.23 L1305.94,437.68 L1307.53,440.13 L1309.11,442.58 L1310.69,445.03 L1312.26,447.48 L1313.82,449.93 L1315.37,452.38 L1316.92,454.83 L1318.46,457.28 L1319.99,459.73 L1321.52,462.18 L1323.04,464.63 L1324.55,467.08 L1326.06,469.53 L1327.56,471.98 L1329.05,474.43 L1330.53,476.88 L1332.01,479.33 L1333.48,481.78 L1334.94,484.23 L1336.40,486.68 L1337.84,489.13 L1339.29,491.58 L1340.72,494.03 L1342.15,496.48 L1343.57,498.93 L1344.98,501.37 L1346.39,503.82 L1347.79,506.27 L1349.18,508.72 L1350.56,511.17 L1351.94,513.62 L1353.31,516.07 L1354.67,518.52 L1356.03,520.97 L1357.38,523.42 L1358.72,525.87 L1360.06,528.32 L1361.39,530.77 L1362.71,533.22 L1364.02,535.67 L1365.33,538.12 L1366.63,540.57 L1367.92,543.02 L1369.21,545.47 L1370.48,547.92 L1371.76,550.37 L1373.02,552.82 L1374.28,555.27 L1375.53,557.72 L1376.77,560.17 L1378.01,562.62 L1379.24,565.07 L1380.46,567.52 L1381.67,569.97 L1382.88,572.42 L1384.08,574.87 L1385.27,577.32 L1386.46,579.77 L1387.64,582.22 L1388.81,584.67 L1389.98,587.12 L1391.14,589.57 L1392.29,592.02 L1393.43,594.47 L1394.57,596.92 L1395.70,599.37 L1396.82,601.82 L1397.94,604.27 L1399.04,606.72 L1400.15,609.17 L1401.24,611.62 L1402.33,614.07 L1403.41,616.52 L1404.48,618.97 L1405.55,621.42 L1406.61,623.87 L1407.66,626.32 L1408.70,628.77 L1409.74,631.22 L1410.77,633.67 L1411.79,636.12 L1412.81,638.57 L1413.82,641.02 L1414.82,643.47 L1415.82,645.92 L1416.81,648.37 L1417.79,650.82 L1418.76,653.27 L1419.73,655.72 L1420.69,658.17 L1421.64,660.62 L1422.59,663.07 L1423.52,665.52 L1424.46,667.97 L1425.38,670.42 L1426.30,672.87 L1427.21,675.32 L1428.11,677.77 L1429.01,680.22 L1429.90,682.67 L1430.78,685.12 L1431.65,687.57 L1432.52,690.02 L1433.38,692.47 L1434.23,694.92 L1435.08,697.36 L1435.92,699.81 L1436.75,702.26 L1437.58,704.71 L1438.40,707.16 L1439.21,709.61 L1440.01,712.06 L1440.81,714.51 L1441.60,716.96 L1442.38,719.41 L1443.16,721.86 L1443.92,724.31 L1444.69,726.76 L1445.44,729.21 L1446.19,731.66 L1446.93,734.11 L1447.66,736.56 L1448.39,739.01 L1449.11,741.46 L1449.82,743.91 L1450.52,746.36 L1451.22,748.81 L1451.91,751.26 L1452.59,753.71 L1453.27,756.16 L1453.94,758.61 L1454.60,761.06 L1455.26,763.51 L1455.90,765.96 L1456.55,768.41 L1457.18,770.86 L1457.81,773.31 L1458.43,775.76 L1459.04,778.21 L1459.64,780.66 L1460.24,783.11 L1460.83,785.56 L1461.42,788.01 L1462.00,790.46 L1462.57,792.91 L1463.13,795.36 L1463.69,797.81 L1464.23,800.26 L1464.78,802.71 L1465.31,805.16 L1465.84,807.61 L1466.36,810.06 L1466.87,812.51 L1467.38,814.96 L1467.88,817.41 L1468.37,819.86 L1468.86,822.31 L1469.33,824.76 L1469.81,827.21 L1470.27,829.66 L1470.73,832.11 L1471.18,834.56 L1471.62,837.01 L1472.05,839.46 L1472.48,841.91 L1472.90,844.36 L1473.32,846.81 L1473.73,849.26 L1474.13,851.71 L1474.52,854.16 L1474.91,856.61 L1475.28,859.06 L1475.66,861.51 L1476.02,863.96 L1476.38,866.41 L1476.73,868.86 L1477.07,871.31 L1477.41,873.76 L1477.74,876.21 L1478.06,878.66 L1478.38,881.11 L1478.68,883.56 L1478.99,886.01 L1479.28,888.46 L1479.57,890.91 L1479.85,893.35 L1480.12,895.80 L1480.38,898.25 L1480.64,900.70 L1480.89,903.15 L1481.14,905.60 L1481.38,908.05 L1481.61,910.50 L1481.83,912.95 L1482.05,915.40 L1482.25,917.85 L1482.46,920.30 L1482.65,922.75 L1482.84,925.20 L1483.02,927.65 L1483.19,930.10 L1483.36,932.55 L1483.52,935.00 L1483.67,937.45 L1483.82,939.90 L1483.95,942.35 L1484.09,944.80 L1484.21,947.25 L1484.33,949.70 L1484.44,952.15 L1484.54,954.60 L1484.63,957.05 L1484.72,959.50 L1484.80,961.95 L1484.88,964.40 L1484.95,966.85 L1485.01,969.30 L1485.06,971.75 L1485.11,974.20 L1485.14,976.65 L1485.18,979.10 L1485.20,981.55 L1485.22,984.00 L1485.23,986.45 L1485.23,988.90" fill="none" stroke="#99330b" stroke-width="5.3" stroke-linecap="round" stroke-linejoin="round" clip-path="url(#cpd)"/>
<path d="M1203.32,988.9v-11.5M1203.32,11.4v11.5" stroke="#1c1c1c" stroke-width="1.35"/>
<path d="M1485.23,988.9v-11.5M1485.23,11.4v11.5" stroke="#1c1c1c" stroke-width="1.35"/>
<path d="M921.4,744.52h11.5M1598.0,744.52h-11.5" stroke="#1c1c1c" stroke-width="1.35"/>
<path d="M921.4,500.15h11.5M1598.0,500.15h-11.5" stroke="#1c1c1c" stroke-width="1.35"/>
<path d="M921.4,255.77h11.5M1598.0,255.77h-11.5" stroke="#1c1c1c" stroke-width="1.35"/>
<rect x="921.4" y="11.4" width="676.60" height="977.50" fill="none" stroke="#1c1c1c" stroke-width="1.35"/>
<text class="tl" transform="translate(889.56,1002.90) scale(0.948,1)" font-family='"Liberation Sans", sans-serif' font-size="36.8" fill="#1a1a1a">0</text>
<text class="tl" transform="translate(860.46,758.52) scale(0.948,1)" font-family='"Liberation Sans", sans-serif' font-size="36.8" fill="#1a1a1a">0.5</text>
<text class="tl" transform="translate(891.06,514.15) scale(0.948,1)" font-family='"Liberation Sans", sans-serif' font-size="36.8" fill="#1a1a1a">1</text>
<path d="M893.15,510.10H899.83V514.95H893.15ZM902.91,510.10H909.37V514.95H902.91Z" fill="#fff"/>
<text class="tl" transform="translate(860.46,269.77) scale(0.948,1)" font-family='"Liberation Sans", sans-serif' font-size="36.8" fill="#1a1a1a">1.5</text>
<path d="M862.55,265.73H869.23V270.57H862.55ZM872.32,265.73H878.78V270.57H872.32Z" fill="#fff"/>
<text class="tl" transform="translate(889.56,25.40) scale(0.948,1)" font-family='"Liberation Sans", sans-serif' font-size="36.8" fill="#1a1a1a">2</text>
<text class="tl" transform="translate(911.30,1036.00) scale(0.948,1)" font-family='"Liberation Sans", sans-serif' font-size="36.8" fill="#1a1a1a">0</text>
<text class="tl" transform="translate(1178.67,1036.00) scale(0.948,1)" font-family='"Liberation Sans", sans-serif' font-size="36.8" fill="#1a1a1a">0.5</text>
<text class="tl" transform="translate(1475.13,1036.00) scale(0.948,1)" font-family='"Liberation Sans", sans-serif' font-size="36.8" fill="#1a1a1a">1</text>
<path d="M1477.22,1031.95H1483.91V1036.80H1477.22ZM1486.99,1031.95H1493.45V1036.80H1486.99Z" fill="#fff"/>
<text transform="translate(799.99,85.01) scale(1.0036,1)" font-family='"Liberation Sans", sans-serif' font-size="51.63" fill="#000">(d)</text>
<text x="1319.00" y="136.40" font-family='"Liberation Serif", serif' font-size="60" text-anchor="start" fill="#000">BI</text>
<text x="1018.00" y="716.40" font-family='"Liberation Serif", serif' font-size="60" text-anchor="start" fill="#000">QSH</text>
<text transform="translate(1128.97,1095.60) scale(1.1964,1)" font-family='"Liberation Serif", serif' font-size="64.38" fill="#000">Δ</text>
<text transform="translate(1181.60,1104.19) scale(0.9767,1)" font-family='"DejaVu Serif", "Liberation Serif", serif' font-size="31.76" font-style="italic" fill="#000">z</text>
<text transform="translate(1207.02,1110.39) skewX(-7.57) scale(0.5938,1)" font-family='"Liberation Serif", serif' font-size="90.73" fill="#000">/</text>
<text transform="translate(1235.89,1096.90) scale(1.0313,1)" font-family='"Liberation Sans", sans-serif' font-size="58.65" fill="#000">λ</text>
<text transform="translate(1270.77,1104.63) scale(1.1497,1)" font-family='"Liberation Serif", serif' font-size="37.63" font-style="italic" fill="#000">s</text>
<text transform="translate(1286.79,1104.63) scale(1.1704,1)" font-family='"Liberation Serif", serif' font-size="37.63" font-style="italic" fill="#000">o</text>
<text transform="translate(849.00,593.42) rotate(-90) scale(1.0430,1)" font-family='"Liberation Sans", sans-serif' font-size="58.79" fill="#000">λ</text>
<text transform="translate(858.30,559.54) rotate(-90) scale(1.0958,1)" font-family='"Liberation Serif", serif' font-size="44.44" font-style="italic" fill="#000">R</text>
<text transform="translate(857.70,528.15) rotate(-90) scale(0.9376,1)" font-family='"Liberation Serif", serif' font-size="40.60" fill="#000">1</text>
<text transform="translate(862.12,500.90) rotate(-90) skewX(-6.51) scale(0.6084,1)" font-family='"Liberation Serif", serif' font-size="88.19" fill="#000">/</text>
<text transform="translate(849.00,472.02) rotate(-90) scale(1.0430,1)" font-family='"Liberation Sans", sans-serif' font-size="58.79" fill="#000">λ</text>
<text transform="translate(857.32,438.31) rotate(-90) scale(1.0832,1)" font-family='"Liberation Serif", serif' font-size="38.88" font-style="italic" fill="#000">s</text>
<text transform="translate(857.33,419.18) rotate(-90) scale(1.0558,1)" font-family='"Liberation Serif", serif' font-size="37.63" font-style="italic" fill="#000">o</text>
</svg></body></html>
